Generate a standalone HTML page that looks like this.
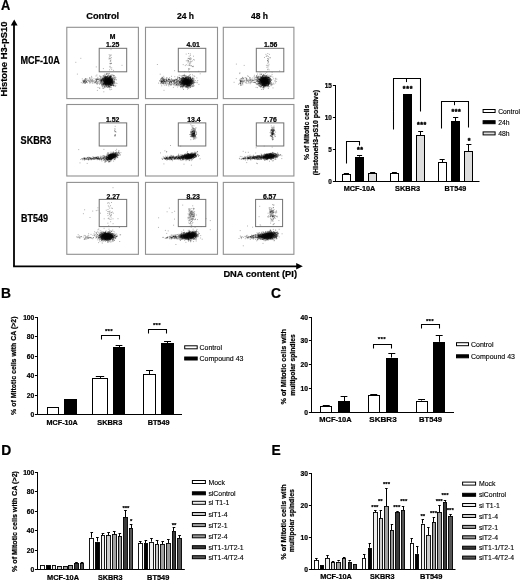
<!DOCTYPE html>
<html><head><meta charset="utf-8"><style>
html,body{margin:0;padding:0;background:#fff;width:520px;height:580px;overflow:hidden}
svg{display:block}
text{font-family:"Liberation Sans", Arial, sans-serif;font-weight:bold;stroke:#000;stroke-width:.22px}
.st{stroke-width:.45px;stroke-linejoin:round}
</style></head><body>
<svg width="520" height="580" viewBox="0 0 520 580">
<defs><filter id="bl" x="-5%" y="-5%" width="110%" height="110%"><feGaussianBlur stdDeviation="0.35"/></filter><filter id="bl2" x="-50%" y="-50%" width="200%" height="200%"><feGaussianBlur stdDeviation="0.9"/></filter></defs>
<rect width="520" height="580" fill="#fff"/>
<text x="1" y="9.6" font-size="13.8" textLength="9.3" lengthAdjust="spacingAndGlyphs">A</text>
<text x="1" y="298.1" font-size="13.8">B</text>
<text x="271.1" y="298.2" font-size="13.8">C</text>
<text x="1.3" y="454.8" font-size="13.8">D</text>
<text x="271.6" y="454.8" font-size="13.8">E</text>
<line x1="14" y1="24" x2="14" y2="266.3" stroke="#000" stroke-width="1.8"/>
<polygon points="14.2,19.5 10.8,25.5 17.6,25.5" fill="#000"/>
<line x1="13.1" y1="266.3" x2="297" y2="266.3" stroke="#000" stroke-width="1.8"/>
<polygon points="302.8,266.3 296.2,263 296.2,269.6" fill="#000"/>
<text x="6.6" y="59" font-size="9.7" text-anchor="middle" transform="rotate(-90 6.6 59)" textLength="75" lengthAdjust="spacingAndGlyphs">Histone H3-pS10</text>
<text x="260.2" y="276.7" font-size="9.7" text-anchor="middle" textLength="73.6" lengthAdjust="spacingAndGlyphs">DNA content (PI)</text>
<text x="102.7" y="19.2" font-size="9.3" text-anchor="middle" textLength="33" lengthAdjust="spacingAndGlyphs">Control</text>
<text x="185.5" y="18.8" font-size="9.3" text-anchor="middle" textLength="17" lengthAdjust="spacingAndGlyphs">24 h</text>
<text x="259.5" y="18.8" font-size="9.3" text-anchor="middle" textLength="17" lengthAdjust="spacingAndGlyphs">48 h</text>
<text x="20.4" y="63.9" font-size="10" textLength="39.4" lengthAdjust="spacingAndGlyphs">MCF-10A</text>
<text x="20.6" y="144.1" font-size="10" textLength="30.8" lengthAdjust="spacingAndGlyphs">SKBR3</text>
<text x="20.9" y="222" font-size="10" textLength="27" lengthAdjust="spacingAndGlyphs">BT549</text>
<rect x="66.8" y="27.3" width="71.6" height="71.3" fill="none" stroke="#909090" stroke-width="1.1"/>
<g filter="url(#bl)">
<ellipse cx="107.6" cy="81.3" rx="3.6" ry="3.1" transform="rotate(0 107.6 81.3)" fill="#000" filter="url(#bl2)"/>
<path d="M106.9 82.5h1M103.3 83.3h1M108.4 82.2h1M106.4 79.1h1M107.3 79.4h1M109.2 79.9h1M102.7 75.5h1M108.9 82.6h1M104.2 85h1M105.3 83.5h1M105.6 82.8h1M109.6 82.6h1M104.7 81.9h1M107 81.2h1M106.7 82.7h1M109.7 81.6h1M108.2 82.8h1M107.6 78.7h1M108.6 82.2h1M111.3 80.7h1M107.4 83.7h1M107.1 81.2h1M103.3 79.9h1M105.3 79.5h1M101.8 79.3h1M109.9 84.3h1M109.1 83.4h1M105.4 79.4h1M102.5 83.7h1M113.1 83.7h1M107.4 82.5h1M106 81.3h1M108.8 79.1h1M105.6 82.5h1M107.2 83h1M106.7 83.3h1M108.1 81.4h1M109.1 81.2h1M102.7 81.2h1M111.5 84h1M107.1 80.6h1M103.7 81.8h1M109.5 82h1M113.6 80.6h1M109.6 83.5h1M110.6 81.4h1M111.3 79.7h1M111.6 83.9h1M103.7 77.6h1M108.8 80.8h1M108.4 82.5h1M107 82.1h1M109.5 82h1M112.4 80h1M109.9 77.3h1M104.4 82.1h1M108.4 81.9h1M109.8 79.6h1M104.7 76.8h1M109.8 80.9h1M104.4 76.5h1M106.6 73.4h1M107.7 81.5h1M110.4 82.1h1M108.5 81.5h1M106.8 83h1M106.1 82.4h1M106.6 83.3h1M113.3 76.7h1M107.5 76.8h1M110.7 85.2h1M102.9 82h1M109.5 79.4h1M107.5 84.4h1M108.7 81.7h1M106.3 84h1M103.3 83.3h1M105.5 83.3h1M114.2 79.1h1M103.4 83.8h1M110.8 82.1h1M104.2 82.8h1M106.4 81.5h1M106.7 81.2h1M101.1 81.6h1M108.2 80.1h1M105.2 76.9h1M114.1 85.7h1M107.6 80.6h1M105.5 79.7h1M108.2 84.3h1M110.7 78.4h1M107.7 86.3h1M108.7 84.3h1M112.6 81.5h1M105.9 77.1h1M107.9 81h1M104.9 78.7h1M108.5 84.4h1M106.3 78.2h1M113 78.5h1M108.6 81.9h1M110.6 80.7h1M108.3 80.5h1M108.8 83.8h1M111.6 83.3h1M108.2 83h1M106.3 83h1M109 80.2h1M106.8 82.6h1M108.8 84.4h1M109.8 83.7h1M108.2 77.8h1M106.2 80h1M100.6 81.7h1M103.9 81h1M107.1 81.9h1M110.6 80.3h1M108.6 87.2h1M108.8 79.8h1M104.3 82.7h1M107.3 81h1M111.4 79h1M103.4 80.6h1M104.6 81.4h1M108.6 81.1h1M108.1 80.9h1M104.7 82.7h1M106.5 83.1h1M109.3 81.4h1M106.8 79.9h1M109.6 77.7h1M108.9 81.6h1M106.6 81.9h1M107.9 81.6h1M104.8 78.7h1M106 84.7h1M105.2 83.8h1M106.2 77.2h1M103.2 78.4h1M109.6 77h1M108.9 84.9h1M111.6 83.5h1M109.3 84.5h1M108 80h1M108.1 78.9h1M102.7 79.7h1M103.5 76.8h1M112.2 78.4h1M106.6 79.6h1M107.4 81h1M112.5 84.3h1M106.9 78.5h1M105.3 85.8h1M102.3 86.6h1M108.4 79.3h1M109.5 84.9h1M108.9 78.5h1M107.1 81.3h1M110.7 81.4h1M112.5 83.1h1M107.6 85.5h1M110.4 78.6h1M109.6 83.7h1M108 79.2h1M113.5 79.9h1M112 80.5h1M95.5 78.5h1M112.3 79.6h1M111.9 83.3h1M105.1 83.4h1M103.3 91.8h1M109.3 82.5h1M105.9 74.5h1M93.7 80.9h1M101.6 83.9h1M104.6 80h1M101.1 79h1M99.3 88.2h1M100 82.8h1M112.5 77.2h1M101.8 77h1M110.1 76.6h1M108.6 82.3h1M107.1 77.5h1M116.4 83.5h1M108.2 77.8h1M97.7 81.5h1M105 81.6h1M110.9 85.7h1M97.5 87.5h1M104 82.9h1M102.6 79.4h1M106 82.1h1M109.2 83.1h1M104.3 79.1h1M110.7 81.6h1M110.9 75.1h1M106.5 79.2h1M105.8 73.7h1M103.9 74.2h1M105.5 82.7h1M110.5 84.6h1M109.6 82.9h1M83.3 81.9h1M83.1 81.7h1M85.8 81.7h1M83.4 82.1h1M84.6 79.3h1M80.8 82.6h1M91.3 77.6h1M95.7 79.7h1M95.1 82.2h1M94.6 82.9h1M98.5 81h1M96.6 78.6h1M84.6 80h1M96.2 81.1h1M91 80.8h1M92.6 80.7h1M83.7 80h1M89.8 80.1h1M90.4 81.3h1M101 81.1h1M101 79.5h1M109.1 69.8h1M109.2 58.3h1M110.1 63.8h1M109.6 66.3h1M80.3 58.3h1M76.9 74.1h1" stroke="#000" stroke-width="1" stroke-opacity=".3"/>
<path d="M107 80.6h1M108.9 82.4h1M105.9 85.3h1M106.2 84.1h1M108.9 81.2h1M106.4 78.4h1M108.5 79.6h1M103.5 84.2h1M109 81h1M111.4 80.3h1M110.5 83.3h1M112.8 82h1M108.6 81.8h1M100.5 80.2h1M110.4 75.1h1M107.4 84.8h1M103.6 77.8h1M109.6 85h1M111.5 79h1M101.6 80.4h1M111.5 85h1M106.1 81.8h1M110.2 83.1h1M103.6 81h1M108.4 80.2h1M106.8 80.2h1M105.2 81.1h1M114.5 83.9h1M108.4 79.7h1M104.5 78.2h1M105.7 81h1M107.3 81.7h1M102.7 81.4h1M108.9 81.7h1M106.8 83.8h1M110.1 81.3h1M107 82.9h1M107 78h1M109.2 77.2h1M104.2 80.1h1M107.4 79.6h1M108 78.1h1M105.7 78.2h1M110.5 81.6h1M108.9 80.9h1M105.5 81.9h1M109.4 80.2h1M106.2 86.6h1M110.7 80.2h1M105.3 81.7h1M109.1 86.1h1M107.7 83.1h1M108.9 81.1h1M108 81h1M109.5 81h1M112 82.3h1M104.2 80.8h1M107.8 83h1M107.7 81.9h1M108.4 79.8h1M109.2 83.1h1M109.7 80.4h1M107.1 83.4h1M103.5 85h1M109.4 80.4h1M112 81.4h1M104.9 82.4h1M107.8 80.4h1M107.5 82.3h1M106.9 80.3h1M105.6 80.3h1M110.7 77h1M107.3 85.3h1M106.6 80h1M105 83.1h1M105.9 83.2h1M103.1 83.9h1M108.9 82.8h1M106.7 81.4h1M108.4 80h1M107.6 80.7h1M105 82.1h1M109.5 83.1h1M105.1 81.2h1M108.9 80.6h1M101.8 81.2h1M109.8 84.8h1M105.8 79.6h1M108.4 79.7h1M102.1 80.9h1M106.1 80.5h1M105.9 82.3h1M110.7 82.1h1M103.9 81.2h1M107.5 78.7h1M107.1 79.5h1M107.5 83h1M103.9 75.8h1M112.6 83.7h1M106.2 77.7h1M109 82.3h1M107.7 79.7h1M109.7 78.7h1M108.3 80h1M104.8 84.9h1M106.1 77.5h1M110.1 79.7h1M110.4 85h1M108.4 83.1h1M111.7 80.7h1M109 82.3h1M104.1 83.4h1M110 78.5h1M105.1 82.5h1M110.8 82h1M109.1 78.8h1M107.2 83.6h1M108.5 85.4h1M105.4 83.9h1M106.2 82.5h1M106.3 79.5h1M114 81.7h1M110.3 85.5h1M102.6 83.1h1M102.6 80.2h1M105.2 78.8h1M106.9 78.1h1M108.6 79.6h1M106.5 84.2h1M110.7 79.8h1M106.2 79.1h1M105.7 80.6h1M108.9 78.5h1M106.5 80h1M107.2 79.6h1M101.7 82.6h1M110.2 85.2h1M105.7 79.6h1M105.9 84h1M108.3 79.5h1M105.7 80.5h1M109.3 80.6h1M107.9 79.6h1M105.4 83.6h1M105.6 80.1h1M111.8 80h1M101.5 82.7h1M106.3 79.3h1M108 80.7h1M103.9 79.2h1M107.2 79.8h1M109.6 78.6h1M110.8 85h1M113 85.5h1M113.5 81.2h1M107.7 81.4h1M107.2 79.8h1M107.9 82.1h1M110.1 79.9h1M104.6 82.2h1M110.5 80.5h1M108.8 81.5h1M108.9 81.6h1M107.6 79.9h1M107.7 83.4h1M107.6 83.7h1M111 80h1M103.8 78.8h1M105.9 85h1M110.2 76.4h1M107.6 85.3h1M104.1 87.1h1M114.4 79.2h1M106.8 76.5h1M101.8 79.1h1M103.2 83h1M110.4 79.2h1M114.1 77.7h1M103.8 76.6h1M111.1 80.7h1M113 70.4h1M96.9 90.4h1M104.9 78.6h1M106.6 79h1M105.5 77.3h1M95.5 76h1M96.4 75h1M106.6 83.1h1M113.2 85.8h1M109.8 82.5h1M109.7 89.8h1M103.8 79.1h1M104.9 81.8h1M105.2 83.3h1M113.9 81.9h1M114.8 86.4h1M104.5 79h1M106.2 81.9h1M104.8 77.2h1M102.7 77.8h1M106.1 85.6h1M104.5 75.3h1M101.9 86.8h1M104.3 82.8h1M84 81.4h1M83.7 81.3h1M84.3 80.3h1M84.3 80.2h1M86.2 79.4h1M87.8 81.3h1M100.9 81.6h1M95.7 79.3h1M90.6 80.2h1M85.3 80.7h1M99.4 78.6h1M101.1 79.1h1M88.5 79.8h1M98.1 79.4h1M97.5 82.8h1M92 80.9h1M100.1 77.2h1M85.5 82.1h1M89.4 83.3h1M100.1 81.7h1M110.5 49.6h1M109.3 56.1h1M109.7 61.2h1M109.8 58.4h1M108.1 82.4h1M96.8 79h1" stroke="#000" stroke-width="1" stroke-opacity=".3"/>
<path d="M105.2 80.8h1M103.2 77.3h1M109 84.1h1M105.5 81.9h1M103.8 83.2h1M105.1 80.1h1M104.7 83.5h1M110.1 82.5h1M108.4 82.8h1M104 81h1M108.5 81.6h1M106.5 80.4h1M106.5 82.8h1M110.2 78.6h1M110.4 78h1M110.3 80.6h1M109.2 79.1h1M105.3 84.9h1M110.6 84.7h1M102.8 83.2h1M105.9 83.3h1M112.3 81.4h1M107.6 83.2h1M104.5 82.1h1M109.6 83h1M112.6 77.3h1M108.4 83.2h1M109.3 75.3h1M111 85.5h1M112 83.6h1M108.8 82.2h1M107.6 81.7h1M105.2 83h1M111.5 82.9h1M109.2 83.4h1M104.6 81.7h1M104.9 79.9h1M112.4 82.5h1M102.9 78.9h1M104.8 78.8h1M109.4 82.1h1M106.9 80.6h1M106.6 79.6h1M110.5 75.8h1M108.9 78.8h1M109.1 82.9h1M105.8 83h1M107.6 83.1h1M107.4 80.6h1M106.3 84.9h1M105.8 81.3h1M102.7 79.3h1M103.9 81.2h1M111.6 82h1M108.8 82.1h1M108.2 86.4h1M106.2 82.4h1M111.5 80.4h1M106.2 83.3h1M108.4 85.1h1M109.2 87.4h1M110 86.3h1M108.9 81h1M108.5 83.4h1M107.5 76.4h1M110.8 79.7h1M109.1 80.7h1M109 84.9h1M110.1 82.8h1M108.8 79.7h1M101.1 85.7h1M109.7 81.8h1M108.8 80.9h1M109.9 81.4h1M106.9 80.5h1M113.4 75.5h1M106.1 81.6h1M101.7 80.6h1M109.9 80.3h1M108.1 83.6h1M108.3 80.3h1M111.2 81.8h1M110 82.7h1M108.9 80.9h1M109 76.1h1M108.1 83h1M110 83.2h1M108.2 79.6h1M102.8 76.2h1M108.9 82.5h1M105.5 79.5h1M111.3 81.5h1M106 82.2h1M108.2 80h1M107.5 78.8h1M105 80.5h1M107.4 75.8h1M102.7 82.1h1M108 81.7h1M110.8 82.5h1M108.1 81.7h1M106.5 83.5h1M110.2 81.8h1M109.3 81.3h1M107.2 86.8h1M105.9 79.7h1M103.7 84.6h1M105.4 78.1h1M106.1 77.1h1M112.9 84.8h1M107.1 81.7h1M109.9 80h1M105.8 79.3h1M105.7 79.7h1M110 84.7h1M102.3 84.3h1M110.3 81.5h1M106.2 82.3h1M109.6 77.5h1M106.1 82h1M112.2 79.3h1M106.5 79.9h1M104.1 78.8h1M105.7 80.7h1M112.6 81.5h1M111.1 81.9h1M104.9 85.2h1M108.8 79.2h1M104.6 78.3h1M105.1 77.9h1M107.7 80.2h1M106.7 83.6h1M110.1 80.1h1M107.9 81.6h1M107.4 79.8h1M107.4 87.2h1M106.7 81.4h1M104.2 84h1M112.5 80.7h1M109.6 81.3h1M110.4 77.9h1M104.5 79.1h1M102.7 78.9h1M105 82.9h1M107.1 81.2h1M110.4 75.9h1M108.4 80.9h1M106.1 81.7h1M108.5 77.8h1M109.4 82.6h1M113.4 82.5h1M105.3 81.9h1M107.3 83.7h1M112.8 83h1M109.4 82.4h1M109.2 78.9h1M108.6 81.8h1M107.3 79h1M109 80h1M110.6 83.8h1M104.4 81.1h1M107.1 79.9h1M104.5 81.4h1M110.4 76.5h1M100.9 83.9h1M105.9 79.7h1M109.6 76.8h1M101.2 80.3h1M103.7 80.3h1M99.9 78.4h1M101.6 84.2h1M107.5 82h1M109.1 83.6h1M108.2 75h1M108.6 73.3h1M108.7 73.6h1M111.8 74.8h1M89.1 77.5h1M110.4 82.9h1M97.5 79.5h1M110.5 78.2h1M105.5 80h1M100.2 80.9h1M109 82.2h1M108.4 83.4h1M100 82.8h1M94.3 81.1h1M104.5 82.7h1M104.3 83.1h1M107.8 79.1h1M102.9 80.7h1M108.3 79.4h1M110.8 87.4h1M112.1 85.1h1M104.1 77.8h1M105.7 74.8h1M110 76.6h1M110.7 76.7h1M106.4 73.7h1M113.8 82.8h1M113.5 79.8h1M106.8 83.6h1M98.4 78.9h1M84.7 81.7h1M85.8 81.2h1M85.3 80.3h1M84.5 83.1h1M82.8 82.6h1M82.4 81.4h1M88.2 80.7h1M91.5 79.9h1M96 79.8h1M92.3 81.3h1M86 81.3h1M87.4 80.3h1M96.6 83.1h1M89.8 82.5h1M98.9 80.1h1M96.3 81.2h1M102.4 80.4h1M95.2 81.6h1M100.7 80.3h1M95.4 79.8h1M85.9 82h1M109.5 63.7h1M109.4 56.1h1M110.8 57.5h1M110.2 55.2h1M111.2 67.9h1M111.2 69.6h1" stroke="#000" stroke-width="1" stroke-opacity=".3"/>
<path d="M110.5 82.3h1M105.3 80.2h1M106 79.6h1M108.7 77.9h1M109.3 83.5h1M111 76.6h1M110.5 81.7h1M102.5 79.8h1M107.9 83.9h1M107.2 80.6h1M108 82.6h1M107.6 83.4h1M108.3 80.1h1M107.4 83.5h1M109.4 77.9h1M114.7 78.7h1M104.9 77.9h1M110.2 80.9h1M111.4 80.9h1M108.4 79.9h1M102.7 78.8h1M109 83.6h1M108 78.6h1M101.5 82.1h1M109.3 82.1h1M108.8 86.9h1M107.5 80.9h1M109.2 82.4h1M104 79.8h1M112.3 83.2h1M109.3 81.8h1M107.3 78.4h1M104.8 75.3h1M107.5 82.7h1M107 87.2h1M108.5 83.9h1M107.6 77.9h1M110.4 79.3h1M106 78.1h1M107.4 81.3h1M107.4 79.8h1M108.8 82.7h1M104.7 81h1M105.6 81.9h1M110.7 79h1M105.6 85.3h1M111.1 81.3h1M105.9 81.2h1M107.3 78.8h1M109.6 81h1M114.9 77h1M107.6 78.9h1M108.8 80.1h1M109.9 79.7h1M103.7 80.8h1M106.2 79.7h1M107.3 81.1h1M107.4 81.8h1M106.9 79.9h1M105.8 86.7h1M108.1 81.9h1M107.6 80.7h1M109.3 81h1M108.1 81h1M106.5 82.9h1M108.1 81.1h1M109 77.7h1M107.6 82.1h1M106.9 78.9h1M105.3 80.4h1M105.7 81.2h1M108.8 82.3h1M104.6 79.5h1M106.9 80h1M109.7 84.3h1M106.5 82.5h1M110.9 81.6h1M109.9 83h1M110.6 79.5h1M105.1 81h1M104.9 79.6h1M105.7 81.4h1M106.9 81.3h1M113 75.3h1M109.8 82.2h1M105.3 81.2h1M106 79.7h1M111 81.1h1M104.3 79.6h1M107.3 80.9h1M111.6 85.3h1M105.4 80.5h1M111.8 82.7h1M106.8 83.1h1M107.8 82.4h1M108.4 78.6h1M107.5 79.3h1M105.9 77h1M112.3 84.6h1M104.5 84.5h1M110.3 77.9h1M109.6 81.5h1M103.5 82.8h1M108.1 75h1M107.2 82.9h1M105.5 82.6h1M107.9 83.8h1M109 83.5h1M108.5 82.4h1M109.7 82.7h1M103.9 83.7h1M103.7 79.6h1M106.2 84.3h1M104.9 76.6h1M110.5 80.3h1M108.6 84.7h1M104.1 83h1M110.7 84.2h1M105.5 81.7h1M111.8 81.4h1M112.2 82.8h1M108.8 82.1h1M104.9 77.1h1M107.7 82.6h1M104.3 81.9h1M105.1 76.4h1M105.6 83.2h1M105.5 81.3h1M111.6 82.2h1M110.6 79.6h1M107.9 81.9h1M106.4 83.5h1M110.2 81.5h1M111.5 81.4h1M111.9 82.5h1M107.5 81h1M105.3 83.5h1M111.9 79.9h1M105.8 80.1h1M104.5 82.7h1M105.3 76.6h1M105.9 81.6h1M110 79.5h1M108.1 81.9h1M115.4 82.8h1M107.6 81.9h1M105.5 80h1M115.5 79.8h1M103 76h1M107.5 82.5h1M108.7 86.6h1M108.9 79h1M108.8 82.8h1M106.7 79.9h1M108.3 80.8h1M108.7 83.6h1M105.2 79.6h1M107.4 80.5h1M109.5 85.3h1M109.7 77.1h1M107.1 81.2h1M111.1 81.6h1M107.4 82.5h1M105.5 82.8h1M109.5 76.5h1M106.6 81.1h1M108.1 80.9h1M110.4 79.8h1M108.4 82.2h1M108.9 86.5h1M111.2 81.1h1M110.2 77.8h1M102 85.4h1M108.7 79.8h1M102.7 78.5h1M101.1 80.8h1M109.8 80.1h1M100.5 80.3h1M101.3 83.6h1M108.6 83.7h1M108.8 83.4h1M99 84.3h1M105.8 86.3h1M97.3 79.8h1M115.3 85.6h1M106.5 81.9h1M106.7 84.6h1M110.6 80.2h1M108 83.7h1M97.6 83.3h1M104 81.4h1M100.3 80.4h1M103.3 85.9h1M105.5 84.6h1M100.2 83.7h1M107.9 81.1h1M105.7 78h1M110.1 81.6h1M106.1 82.4h1M101.1 82.8h1M102.9 80h1M101.1 80.4h1M110.1 85.7h1M84.4 83.4h1M85.4 82.4h1M81.8 78.9h1M85.4 78.7h1M82.3 83.2h1M84.4 82.3h1M100.6 77.3h1M89.2 81.5h1M95.7 82.1h1M99.6 79.8h1M93.5 78.8h1M88.9 81h1M96.8 79.4h1M98.7 79.7h1M91.6 82.3h1M89.9 79.4h1M96.3 81.9h1M100.5 76.7h1M89.2 82.3h1M100.2 79.6h1M97.2 82.3h1M110.2 67.9h1M110.7 63.2h1M110.1 60.8h1M108.6 59.1h1M111.1 89.3h1M121.5 65.3h1" stroke="#000" stroke-width="1" stroke-opacity=".3"/>
<path d="M110.3 81.9h1M108.4 81.2h1M106.7 81.1h1M107.7 84.3h1M111.3 82.1h1M103.8 81.9h1M108.2 82.3h1M109.8 77.1h1M105.9 80.3h1M111.3 78.9h1M107.1 81.9h1M106.7 82.2h1M113.9 82.1h1M109.8 84.7h1M108.1 84h1M110 80.7h1M110.9 83h1M102.5 84.5h1M105.7 83.6h1M107.6 83.2h1M102.5 83.8h1M107.1 78.4h1M103.5 79.8h1M105.9 76.8h1M111.1 82.8h1M105.2 82.9h1M105 80.5h1M112 82.3h1M108.4 81.7h1M105.3 81.9h1M106.8 83.1h1M108.7 83.7h1M104.9 84.9h1M111.9 83.5h1M110.8 80.8h1M109.6 81.4h1M106.5 76.7h1M107.1 77.1h1M107.7 81.9h1M108.9 77.7h1M107.1 75h1M107.5 79.3h1M106.3 81.5h1M109.2 86.7h1M108.2 86.2h1M111.9 81.3h1M105.8 83.2h1M103.1 85.4h1M107.7 78h1M106.4 79.7h1M106.2 81.7h1M104.9 82.7h1M107.3 83h1M107.6 81.3h1M111.5 80h1M109 82.6h1M106.7 83.7h1M103.7 81.3h1M108.8 77.7h1M105.9 81.3h1M110 82.1h1M106.3 79.4h1M104.6 84.6h1M103.6 83.5h1M111.1 80.5h1M107.9 83.9h1M109.6 77.7h1M110.8 81.9h1M107.9 83.7h1M107.5 79.8h1M109 78.2h1M111 80.8h1M108.1 83.5h1M106.9 82.7h1M105.8 82.3h1M107.4 79.8h1M104 77.4h1M109.9 75.6h1M108.3 80.1h1M109 82.5h1M106 79.9h1M108 77.3h1M106.9 80.6h1M107.1 77.1h1M107.7 79.9h1M109.2 81.6h1M109.9 79.2h1M104.8 84.3h1M107.5 81.4h1M110 81.3h1M107.7 82.6h1M105.9 79.3h1M110.9 81.5h1M112.8 82.7h1M107.7 81.9h1M107.2 84.6h1M109.3 79.9h1M103.7 82.7h1M106.8 82.4h1M109.9 76.9h1M104.4 78.1h1M106.8 84.9h1M105.3 84.2h1M110.6 81.4h1M106.6 78.7h1M108.5 80.7h1M103.3 80.5h1M108.1 78.3h1M107.6 83.3h1M112.2 80.9h1M106.5 78.8h1M106 82.1h1M109.8 82.7h1M109.1 84.4h1M110.3 83.1h1M104.2 83.7h1M106.4 82.7h1M108.9 78.3h1M106.3 80.9h1M107.2 83h1M111.4 79.1h1M108.1 85.3h1M108.8 77h1M106.7 81.3h1M105.1 77.5h1M104 87h1M103.2 80.7h1M100.5 81h1M110.1 79.4h1M104.9 79.1h1M108.5 76.3h1M103.8 77.1h1M102.5 78.3h1M112.5 85.4h1M106.4 76.9h1M111.4 81.6h1M104 82.6h1M105.6 80.5h1M102.7 83.4h1M109.8 76.9h1M107 82.1h1M107.5 85.1h1M104.2 81.7h1M110.1 81.3h1M109.6 79.3h1M108.1 82.7h1M112.4 85.3h1M107.7 81.9h1M109 81.7h1M106 81.5h1M111.2 77.7h1M106.6 80.4h1M108.9 79.5h1M105.5 81.6h1M107.3 79.4h1M109.2 80.5h1M107.3 82.8h1M108.5 79.4h1M106.6 82.3h1M105.8 84.6h1M109.4 81h1M104.8 80h1M106.4 82h1M109.3 78.9h1M109.6 77.2h1M104.8 82.4h1M104 78.5h1M104 86h1M105.1 84.5h1M100.4 82h1M108.9 78.7h1M111.1 82.2h1M99.2 75.9h1M106.8 80.5h1M101.2 82h1M108.2 83.8h1M96.7 84.5h1M104.5 77.3h1M97.3 77.3h1M115.8 79.8h1M100.6 80.5h1M103.8 86.3h1M89.7 78.2h1M99.6 76.3h1M102.5 79.1h1M115.4 77.7h1M105.8 78.2h1M104.2 80.1h1M106.6 81.8h1M107.5 78.7h1M105.5 78h1M105.4 87.3h1M111.5 83.9h1M113.8 77.2h1M105.3 78.1h1M108.2 82.9h1M99.5 83.1h1M113.3 85.1h1M111.5 79.5h1M108.9 79.9h1M110.9 82.1h1M110.8 79.4h1M102 78.3h1M83.2 81.5h1M85.3 81.1h1M83.3 80.4h1M84.8 83.4h1M83.8 81.7h1M83.4 81h1M91.9 83.2h1M95.4 79.8h1M100.8 80.4h1M99.6 81.1h1M97.2 79.3h1M95.3 82h1M91.1 76.4h1M87 82.7h1M99.9 79.6h1M86.3 82.2h1M93.4 82.9h1M95.9 83.5h1M89.7 81h1M84.9 78.5h1M86.5 78.8h1M110.7 55h1M111 63.4h1M108.7 54.7h1M108.6 58h1M95.8 66.9h1M110.3 60.9h1" stroke="#000" stroke-width="1" stroke-opacity=".3"/>
<path d="M108.6 81.7h1M109 79.8h1M109.2 81.9h1M102.4 80.6h1M107.9 78.3h1M111.4 82.6h1M111.7 82.7h1M107.1 83.6h1M110.3 81.4h1M110.9 78.4h1M109.1 81.3h1M112.4 75.4h1M106.2 81.1h1M103.2 80.5h1M107.2 81.7h1M107.9 82.9h1M111.4 79.1h1M107.3 79.9h1M107.9 81.6h1M107.8 84.4h1M104.4 81.3h1M106.2 83.8h1M110 80h1M109.5 80.7h1M108.8 76.5h1M112.5 81h1M109.9 81.5h1M107.4 82.5h1M106.6 79.1h1M102 79.6h1M107.7 79.4h1M108.7 80.9h1M106.6 78.2h1M110.3 78.8h1M107.8 87.3h1M109.8 82.5h1M105.8 82.6h1M109.6 83.5h1M109.2 82.9h1M104.4 81.2h1M105 81.4h1M107.2 81.1h1M109 80.4h1M108.4 84.2h1M107 81.3h1M108.3 80.3h1M107.5 82h1M111.2 78.5h1M107.4 82h1M105.2 80.5h1M108 82.2h1M105.9 82.8h1M105.3 82.8h1M103 84.6h1M104.9 78.2h1M105 78.6h1M111.2 80.5h1M105.8 82.2h1M105.8 81.3h1M108.1 83.7h1M111.9 78.5h1M106 82.8h1M108.8 79.1h1M107.7 80.6h1M107.3 84.9h1M113.8 79.8h1M105.8 80h1M104.3 87h1M104.8 78.9h1M107.6 83h1M108.8 81.2h1M109.9 80.4h1M108.7 82.5h1M108.5 78.5h1M105.3 86.6h1M113.2 81.5h1M110.7 83h1M108 82.4h1M108 79.7h1M106.7 76.5h1M104.6 82.8h1M106 81.7h1M107.1 77.3h1M110.1 87.4h1M109.3 80.2h1M110.8 85.9h1M102.9 79h1M106.1 81.8h1M109 81.6h1M109.5 82.6h1M110.7 83.2h1M111.5 79.9h1M108.9 80.8h1M108.4 77.7h1M105.4 84.6h1M109.4 81h1M108 86.3h1M105.6 80.5h1M108.3 81.4h1M112.4 83.2h1M106.2 79.9h1M106.1 82.8h1M105.8 80.9h1M103 81.5h1M110.5 83.4h1M108 81h1M107.7 78h1M109.6 83.1h1M106.1 81.1h1M107.3 78.9h1M105.6 79.4h1M106.7 76.6h1M108.4 77.7h1M108.1 79.1h1M103.6 80.4h1M113 85.9h1M108.3 85h1M104.3 81.9h1M108.8 79.4h1M106.6 83.8h1M110.7 84.7h1M106.7 82.4h1M108.9 84.6h1M106.2 81.6h1M105.7 83h1M104.6 81.1h1M108.3 83.7h1M105 77.9h1M109.7 81.9h1M106.4 78.4h1M106.2 79.5h1M110.8 82.3h1M110.5 81h1M112.1 83.7h1M107.5 80.3h1M108 80.4h1M110.4 84.5h1M114.1 83.6h1M104.8 83.7h1M112.3 82.4h1M103.2 79.9h1M108.3 78.8h1M108.2 82.7h1M110.5 83.3h1M105.8 80.6h1M108.3 81.7h1M107.4 84.3h1M107.5 83.4h1M107.8 75.9h1M107.7 82.6h1M109.4 83.2h1M107.8 82.1h1M109.1 83.6h1M107.5 82.8h1M108.1 81.2h1M106.3 80.8h1M104.5 79h1M110.4 77.4h1M105.2 83.5h1M104.4 83.9h1M108.1 82.3h1M107.2 80.3h1M103.3 78.8h1M102.7 84.6h1M110.6 82.2h1M109 81.5h1M104.8 78.1h1M111.4 84.3h1M105.6 83.6h1M102.2 78h1M101.1 79.3h1M98.9 83.1h1M109.1 76.7h1M107.2 75.8h1M105.8 77.7h1M110.5 84.7h1M108.1 80.9h1M102.3 84.8h1M112.1 79.8h1M104.1 80.7h1M107.7 83h1M110.8 80.9h1M101.9 79h1M107.2 81h1M101.8 82h1M102.3 88.3h1M102.8 88h1M101.7 80h1M104.2 77.8h1M101.7 85.7h1M111.9 77.8h1M101 84.5h1M102.7 84.2h1M113.9 75.7h1M109.2 77.9h1M104.9 84.3h1M106.4 80.9h1M109.2 89h1M113.4 78.3h1M106.6 79.7h1M103.7 82.1h1M103.3 88.3h1M107.5 73.7h1M83.2 82.7h1M84.9 82.3h1M83.8 82.1h1M84.8 79.3h1M82.3 80.5h1M83.5 80.5h1M92.8 81.3h1M102.7 79.3h1M96.1 80.6h1M94 82.6h1M101.7 79h1M94.8 82.2h1M98.8 81h1M87.2 80.4h1M88.9 78.6h1M91.9 79.7h1M97.6 78.9h1M95.9 80.1h1M91.2 81.3h1M91.3 78.8h1M96.7 83.4h1M110.4 59.1h1M109.3 67h1M109.6 63.3h1M102.9 68.6h1M99.1 88.1h1M75.3 62.3h1" stroke="#000" stroke-width="1" stroke-opacity=".3"/>
</g>
<rect x="99.2" y="48.3" width="27.5" height="23.5" fill="none" stroke="#707070" stroke-width="1"/>
<text x="112.65" y="47.3" font-size="6.9" text-anchor="middle">1.25</text>
<rect x="145.5" y="27.3" width="72" height="71.3" fill="none" stroke="#909090" stroke-width="1.1"/>
<g filter="url(#bl)">
<ellipse cx="186.5" cy="82" rx="4.6" ry="2.7" transform="rotate(0 186.5 82)" fill="#000" filter="url(#bl2)"/>
<path d="M184.3 81.3h1M190.3 81.5h1M180.8 84.7h1M186.6 83.5h1M186.4 77.1h1M188.1 86.8h1M193.8 82.1h1M187.2 81.7h1M183.5 86.5h1M183.9 84.1h1M190.2 82.6h1M190.1 79h1M180.3 78.2h1M185.3 79.7h1M186.8 85.3h1M187.1 85.2h1M182.2 81.3h1M181.6 85h1M177.1 87h1M184.2 83.5h1M187.1 80.9h1M185.6 79.8h1M182.8 84.5h1M182.6 82.4h1M185.5 82.2h1M186.4 78.6h1M187.6 80.8h1M182.8 81.6h1M182.5 82.4h1M183.5 80.9h1M189.7 82.7h1M184 78.5h1M182 83.7h1M183.7 80.7h1M182.8 84.2h1M196.3 77.9h1M182.8 80h1M181.7 86.8h1M184.9 81.4h1M184.3 83.7h1M187.5 80.9h1M186.8 83h1M187 85.9h1M181.4 79.3h1M187.7 79.2h1M185.3 82.9h1M186.3 78.2h1M186.2 80.5h1M188.3 80.3h1M183.9 82.3h1M185.1 82.4h1M187.7 79.4h1M185.2 79.2h1M187.5 87h1M186.2 81.8h1M180.7 85.8h1M181.2 81.3h1M190.6 79.2h1M181.9 84.4h1M179.9 86.2h1M187.8 80.8h1M188.4 81.2h1M180.1 83.3h1M181.4 86h1M186.1 83.7h1M182.8 78.9h1M182.3 81.2h1M182.6 83.7h1M186 77.2h1M186 83.5h1M191.1 81.9h1M184.2 80.1h1M190.3 82.3h1M192.4 81.7h1M185.1 83.2h1M181.4 80.4h1M185.5 78.3h1M187.6 79.2h1M187.4 82.7h1M185.9 79.4h1M185.3 82h1M189.1 80.4h1M186.1 81h1M185.3 81.3h1M192.4 81.1h1M186.7 82.2h1M192.1 78.2h1M183.6 81.2h1M184.8 82.3h1M186.4 80.4h1M182.4 83.7h1M180 84h1M191.2 81.4h1M192.1 78.1h1M183.5 84.1h1M188.3 82.7h1M186.2 77.6h1M182 79.6h1M185.4 86h1M186.7 81.3h1M183.9 79h1M192.9 82.3h1M186.4 86.3h1M187 81.2h1M184.2 82h1M186.1 78.6h1M188.6 82.8h1M190.2 81.5h1M182.4 79.6h1M187.4 81.2h1M194.6 82.3h1M190.1 81.8h1M191 81.8h1M181.9 81.3h1M188.9 81.3h1M182.6 83.3h1M188.5 81.4h1M191.3 83.6h1M192.1 80.7h1M183.3 78.2h1M190.5 80.6h1M187 77.1h1M190.4 77.7h1M188.8 81.8h1M184.8 84.2h1M185.9 79.5h1M188.1 77.5h1M187.7 83h1M186.8 83.8h1M187.2 77.2h1M184.4 81.7h1M186.6 80.6h1M183.7 83.8h1M188.9 83.8h1M189 82.5h1M183.5 82.8h1M184.1 80.5h1M186.2 84.6h1M189.2 79.3h1M184.1 83.5h1M189.8 74.6h1M187.6 79.7h1M182.7 81h1M187 80.1h1M189.3 80.1h1M180.2 84.4h1M181.4 83.4h1M194.2 76.6h1M181.2 81.8h1M181.3 86.1h1M182.1 78.5h1M185.1 77.7h1M185 78h1M188.7 84h1M187.6 83.3h1M184.1 82.1h1M185.1 79.5h1M183.7 82.7h1M181.9 86.9h1M181.6 85.8h1M184 83.6h1M192 83.5h1M192.8 84.8h1M187.4 82h1M180.2 87.1h1M183 85.1h1M184.5 83.9h1M160.5 79.1h1M182.4 79.9h1M171 84h1M174.8 83.9h1M179 84h1M176.4 79.5h1M178.4 77.5h1M163.1 78.8h1M160.5 78.6h1M179.3 79.8h1M182 78.3h1M163.2 80.5h1M185.7 81.6h1M172.1 80.7h1M176.1 79.4h1M165.8 85.4h1M172.6 84.4h1M168.7 79.3h1M171.8 83.5h1M168.2 79.7h1M171 76.3h1M173.7 83.4h1M165.1 83.2h1M174.3 79.9h1M164.3 81.5h1M170.6 85h1M174.5 82.1h1M163.1 82.8h1M171.4 81.4h1M165.4 81.2h1M167.4 83.9h1M170.2 84.1h1M171.1 82.8h1M174 80.7h1M183.4 81.2h1M160.4 81.6h1M176.9 82.8h1M175.3 82.7h1M173.6 85.7h1M160.3 79.6h1M161.1 82.3h1M166.6 82h1M172.6 80.5h1M162.5 81.3h1M161.6 82.1h1M163.5 79.7h1M162.7 81h1M161.4 78.6h1M160.2 80h1M161.9 81.5h1M160.8 83.1h1M186.9 60.2h1M188.8 58.9h1M189.1 63.4h1M189 58.3h1M187.7 61.1h1M190.8 65.7h1M188.8 72h1M182.7 64.6h1M198.2 71.3h1M198.4 84.4h1" stroke="#000" stroke-width="1" stroke-opacity=".3"/>
<path d="M189.3 80.9h1M184.3 80.1h1M190.4 83h1M186.6 78.2h1M185.7 84h1M182.5 85.1h1M189.5 85.1h1M186.9 86.2h1M189.2 83.8h1M189.1 80.7h1M182.7 83.5h1M183.9 83.1h1M186.2 85.2h1M183.7 79.3h1M186.2 79.4h1M185.6 87.2h1M187.3 80.1h1M187 80.6h1M185 79.2h1M185.8 82.1h1M181.9 78.1h1M182.2 83.8h1M185.7 82.6h1M188.2 79.6h1M184.5 78.9h1M191.1 83.1h1M184.2 84.4h1M189 82.5h1M183.5 80.6h1M185.4 86.2h1M185.6 81.2h1M185.6 83.5h1M185.9 87.2h1M184.5 81.3h1M187 84.9h1M190.2 80.7h1M187.9 82.5h1M185.7 81.1h1M180.6 80.4h1M185.2 80.5h1M182.1 81.9h1M186.7 86.9h1M187.8 83.4h1M186 80.9h1M186.7 81.6h1M187.1 83.5h1M187.8 85.1h1M190.1 76.6h1M190.4 81.1h1M178.9 82.1h1M182.6 77.9h1M183.3 80.1h1M183 78h1M180.8 78.4h1M190 87.2h1M190.3 79.5h1M189.6 80.2h1M186.3 81.1h1M184.6 80.2h1M185 78.1h1M186.1 80.3h1M184.7 84.2h1M182.5 78.5h1M183.5 81.4h1M190.2 83.1h1M186.8 79.3h1M182.7 77.1h1M185.3 86.6h1M182.2 77.7h1M186.5 82.9h1M188.1 83.3h1M184.2 84.6h1M185.2 82.2h1M189.3 81.3h1M184 83h1M191.9 81.1h1M186 84.1h1M187.6 82.5h1M182.6 80.6h1M188.8 77.4h1M189.5 79.8h1M189.9 83.8h1M182.9 82.3h1M187 89.1h1M187.3 82h1M186.4 80.6h1M192.9 81.9h1M186 82h1M190.5 81.3h1M178.9 77.5h1M181.8 77.3h1M189.8 87.2h1M191.5 80h1M183.5 85.6h1M188.3 81.5h1M184.6 87.1h1M186.3 83.7h1M185.9 82.7h1M187 82.8h1M187.5 80.2h1M185.2 80.5h1M192.3 86.5h1M185.6 84.2h1M183 77.7h1M186.7 84.5h1M192.3 77.1h1M189.7 80.5h1M186.5 82.1h1M190.1 85.4h1M186.5 82.5h1M186.7 84.6h1M187.6 88.1h1M186.1 84.5h1M187.2 81.2h1M189.6 80.9h1M189.9 78.1h1M192.7 84.3h1M183.6 79.8h1M186.7 84.4h1M188 83.1h1M183 84.9h1M183.3 79h1M184.4 80.9h1M185.8 85.7h1M183.7 82.1h1M184.1 81.9h1M190 83.7h1M184.9 81.2h1M183 78.9h1M184.5 75.6h1M192.6 79.7h1M189.3 82.9h1M193.4 79.2h1M184.2 80.4h1M186.5 80.5h1M188.1 83.1h1M181 82.7h1M188.2 81.7h1M192.1 82.1h1M185.1 82.6h1M185.5 77.6h1M190 77.8h1M183.1 85.5h1M187.4 82.2h1M190.8 79.4h1M185.1 80.3h1M184.9 82.3h1M183.3 82.8h1M191.6 86.7h1M186.5 82.3h1M182.2 83.4h1M186.5 83.7h1M185.4 86.5h1M178.7 75.2h1M188.2 82.6h1M184.7 81h1M190.2 85.9h1M181.6 80.6h1M183 81h1M183.8 84.3h1M181.4 86h1M187.8 83.2h1M184.3 82.5h1M186.8 82.2h1M183.2 82.8h1M190.2 82.9h1M192.6 80.1h1M173.6 80h1M177.3 85.1h1M162.1 80.2h1M185.1 78.8h1M172.4 80.3h1M181.7 83.2h1M176.7 79.6h1M169.6 82.4h1M167.9 80.8h1M172.9 87.4h1M161.2 81.6h1M179.2 81.7h1M173.9 80.5h1M172.9 81.6h1M173 80.1h1M175.6 82.3h1M169.7 80.6h1M164.9 82.2h1M162.2 78.3h1M182.4 82.1h1M169.1 79.3h1M170.3 81.4h1M176.9 82.3h1M161.2 81.4h1M182 77.8h1M170.5 84.6h1M174.7 80.4h1M167.9 85h1M169 84.4h1M161.2 82.6h1M172.9 82.5h1M174.1 82.5h1M174.5 79.9h1M177.2 81h1M166.6 80.2h1M161.2 80.4h1M179.7 80.8h1M166.1 80.7h1M168.7 81.3h1M177.6 80.7h1M163.9 85.1h1M172.3 81.2h1M179.6 81.3h1M162.2 81.8h1M165.3 83.1h1M161.6 78.8h1M161.2 79h1M163.9 81.3h1M164.1 83.2h1M161.4 80.8h1M162.4 81.9h1M193 56.2h1M189.9 59.7h1M190.1 63.1h1M190.9 58.9h1M187.5 62.9h1M185.8 60.8h1M188 58.4h1M175.8 82.3h1M174.1 70.7h1M199.7 73.8h1" stroke="#000" stroke-width="1" stroke-opacity=".3"/>
<path d="M187.6 83.1h1M187.5 79.2h1M179.9 84.8h1M183 89.5h1M179.2 82.3h1M187.7 80.6h1M188 82.7h1M185.9 81.2h1M188.7 83.8h1M188.2 88.2h1M186 82.1h1M178.3 85.1h1M184.5 83.1h1M182.7 87.9h1M185.5 79.4h1M180.9 82.5h1M189.3 85.9h1M187.8 83.4h1M180.3 82.4h1M187.6 84.9h1M187.4 84.3h1M187.5 79.6h1M186.4 79.4h1M179.2 82.7h1M187 77.5h1M185.4 79h1M196.5 82.1h1M190.4 78.5h1M187 80.2h1M184.9 85.6h1M187.2 81.1h1M187.3 80.6h1M185.5 80.5h1M188.9 80.6h1M189.5 83.3h1M185.5 84h1M185.3 87h1M184.4 84.2h1M183.2 80.2h1M190.2 87h1M189.1 83.7h1M179.1 81.7h1M189.6 82.3h1M186.4 85.2h1M189.6 80.9h1M181.8 87.8h1M189.7 78.2h1M190.9 79.5h1M187.9 81.4h1M184.2 78.2h1M183.9 84.6h1M185.1 83.3h1M190 84.4h1M183.1 83.6h1M180.4 83.1h1M190.5 83.4h1M180.2 87h1M185.5 83h1M186.5 79.7h1M186 83.3h1M185.9 82.6h1M188.4 83h1M185.5 83.1h1M184.5 80.4h1M186.4 78h1M191.5 80.3h1M188.4 83.5h1M187.9 77.2h1M189.9 84.7h1M182.2 75.7h1M189.7 82.8h1M187.5 86.2h1M182.6 78.9h1M187.6 81.7h1M188.2 85.6h1M193.5 80h1M188.8 84.8h1M189.6 85.4h1M187 83.6h1M186.7 82.1h1M189 82.8h1M187.9 83h1M183.8 78.3h1M186.8 84.3h1M186.8 87.6h1M191.6 81.1h1M180.4 80.2h1M186.3 81.2h1M185.4 82.7h1M186.3 81.5h1M185.6 77.4h1M181.3 83.2h1M192 74.9h1M187.4 76.6h1M181.5 81.1h1M188.9 82h1M191.4 82.5h1M186.8 82h1M185.2 84.2h1M190.1 78.2h1M187.3 82.7h1M182.7 84.8h1M186.5 80h1M186.4 82.4h1M187.2 82.4h1M187.3 80.9h1M186.1 80.8h1M184 79.3h1M191.6 80.4h1M184.6 82.3h1M178 81.4h1M184.8 84.1h1M181.3 80.3h1M186.5 83.3h1M193.5 83.6h1M184 79.3h1M184.4 81.1h1M183.4 77.8h1M188.5 81.4h1M186.9 83.7h1M184.4 82.4h1M183.8 75.5h1M190.5 82.1h1M187 81.8h1M187.6 82.2h1M190.2 80.4h1M188.2 85.5h1M184.6 80.4h1M180.8 78.2h1M187.1 79.7h1M184.1 82.2h1M183.7 82h1M185.1 81h1M191.4 83.5h1M187.3 82.4h1M188 81.6h1M186.1 80.5h1M188.1 80.1h1M180.6 78.5h1M187.4 87.2h1M187.3 80h1M187.6 80.9h1M187.7 76.9h1M186.2 80.1h1M183.7 86.5h1M184.2 83.6h1M180.1 81.1h1M184.3 76.2h1M190.7 81.8h1M179 81.7h1M186.1 83.8h1M184.2 81.6h1M187.3 81.4h1M183.3 85.5h1M184.7 84.5h1M186.9 82.7h1M186 81.7h1M185.5 75.7h1M187 82.9h1M190.7 80.3h1M183.6 81.3h1M188.8 82.5h1M186.2 76.9h1M185.1 78.4h1M186.2 83.6h1M185.9 81.2h1M190.1 80.2h1M172.3 80.1h1M164.5 79.3h1M168.2 84.1h1M167.9 79.7h1M174 82.9h1M179.3 82.9h1M179.1 82.2h1M169.9 81.5h1M160.8 82h1M166 81.1h1M181.7 85.1h1M180.7 84.2h1M175.6 81h1M169.9 85.1h1M164.6 81.5h1M162.7 83.7h1M181.6 81.9h1M183.3 81.4h1M173.7 81.5h1M161.7 77.2h1M177.2 78.4h1M175.9 84.3h1M163.8 81.8h1M180.4 81.4h1M169.2 82.3h1M168.8 83.2h1M166.2 77.7h1M163.6 81h1M178.7 79.2h1M171.2 84.9h1M181.6 82.9h1M165.7 79h1M175.9 84.1h1M170.9 78.9h1M178.8 81.8h1M163.4 82.7h1M181 84.9h1M171.4 81.5h1M164.4 79.3h1M175.9 84.5h1M169.4 82.5h1M177.3 85.5h1M166.5 82h1M161.8 77.7h1M161.1 80.8h1M160.8 81.6h1M163.3 79.1h1M161.7 83.4h1M165.3 82.9h1M163.8 80.6h1M163.9 81.6h1M189.2 68.7h1M188 70h1M187.9 60.6h1M185.7 54.1h1M187.6 58.4h1M187.6 65.4h1M191.9 60.9h1M159.3 80.5h1M186.3 83.2h1M192.8 66.2h1" stroke="#000" stroke-width="1" stroke-opacity=".3"/>
<path d="M185.7 76.2h1M183 86.6h1M190.8 80.6h1M187.2 85h1M189 85h1M193.5 75.7h1M185.7 80.8h1M183.8 81.7h1M188.5 85.2h1M190.4 79.1h1M184.4 78.4h1M183.8 83.4h1M186.8 83h1M191.9 81.8h1M181.7 81.2h1M182.5 81.4h1M181.6 82.7h1M188.8 83.2h1M186.4 80.4h1M188.3 82.4h1M187.5 78.5h1M182.9 84h1M182.4 81.3h1M182.6 82.9h1M188.1 83h1M191.2 83.1h1M185.9 83.7h1M187.9 80.3h1M190.1 80.3h1M187.8 78.6h1M184.5 80.9h1M188.3 81h1M191.2 83.1h1M187.4 80.6h1M185.8 79.2h1M186.3 78.9h1M187.7 80.3h1M186.4 85.9h1M190.3 82.4h1M183.1 86h1M188.5 84.5h1M194.4 82.4h1M183.5 81.6h1M187.3 81.7h1M185.1 82.4h1M192.3 81.7h1M190.8 84h1M189.3 77.9h1M192.2 80.9h1M181.7 84.5h1M189.4 78h1M182.3 85.6h1M192.4 83h1M190.2 81h1M186.3 84.1h1M178.3 84h1M192.3 83.5h1M193.2 80.3h1M182.9 81.1h1M180.6 79.7h1M185.3 84.1h1M183.7 83.3h1M186.5 79h1M186.4 81.1h1M181 84.2h1M184.4 83.9h1M189.5 82.8h1M189.3 84.8h1M185 78.5h1M187.3 79.6h1M180.5 80.3h1M188 86.4h1M183.3 80.5h1M184.5 82h1M182.7 81.5h1M185.4 77.9h1M189.2 81.7h1M176.1 83.2h1M193.7 82.5h1M187.3 85h1M181.3 78.1h1M182 82.7h1M186.6 85.4h1M187.8 77.3h1M187.3 85.5h1M188.7 86h1M181.6 81.7h1M189.3 77.8h1M185.5 77h1M187.8 82.4h1M191.8 79.3h1M186.3 83.9h1M186.3 79.8h1M187.5 78.8h1M178.5 80.4h1M184.1 74.4h1M187 83.7h1M185.1 82.9h1M184.9 79.3h1M185 80h1M189.6 81.5h1M190.2 85.2h1M187.1 83.4h1M184.7 82.3h1M183.8 84h1M190.2 80.7h1M183.5 82.4h1M190.1 82.2h1M188.3 79.9h1M188.3 85.7h1M175.8 82.2h1M183.5 84.9h1M187.9 83.2h1M183.1 80.4h1M186.8 82.1h1M188.2 83h1M185.4 80h1M190.2 82h1M179 85.3h1M188.1 82.1h1M185.7 81.9h1M188.2 85.8h1M185.9 79.8h1M192.3 85.6h1M187.1 82.7h1M188.2 82.3h1M188.3 77.6h1M186.1 84.4h1M187.1 83.9h1M184.1 85.5h1M189.3 83.8h1M185.1 80.3h1M181.6 82.8h1M186.8 79.1h1M188.5 84.4h1M186 85.9h1M189.3 87.7h1M188.9 85.5h1M189.2 81.1h1M182.2 83.7h1M184.4 79.8h1M191.5 80.2h1M187 84h1M183 82.4h1M184.9 81.3h1M191.4 80.8h1M187.1 79.5h1M187.2 83.8h1M186.9 80.3h1M193.2 78.2h1M182.7 83.2h1M180.4 78.5h1M189.8 80.9h1M186.4 83.5h1M187.9 84.4h1M183.6 75.6h1M189.5 78.5h1M188.3 83.7h1M191.2 79.1h1M183.3 82.1h1M183.2 85.8h1M185.7 77.8h1M185.2 82.5h1M187.8 82.8h1M197.2 80.5h1M180.7 83.4h1M187.6 83h1M180.6 80.5h1M166.8 80.9h1M170 79.8h1M175.1 83.1h1M180.1 82.4h1M171.1 82.7h1M181.6 78.3h1M166.5 80.2h1M165.5 79.3h1M159.5 80.6h1M158 83.1h1M163.2 76.3h1M180.7 83.3h1M166 79.9h1M169.1 83h1M175.8 84.4h1M169.3 82.3h1M170.8 81.6h1M176.6 80.6h1M176 85.6h1M176.3 80.7h1M166.6 78h1M165.8 84h1M182.5 80.2h1M182.7 83.4h1M167.1 81.5h1M164 79.8h1M179.8 85.2h1M169.1 80.4h1M172.6 81.4h1M174.1 81.2h1M177.8 84.7h1M162.9 81.1h1M176.5 83.8h1M178.4 83.6h1M183.2 79h1M171 79.1h1M177.3 76.8h1M179.5 82.9h1M168.1 78.5h1M173.8 84h1M163.7 79.9h1M161.1 81.2h1M163.4 81h1M160.4 82.3h1M162.6 83.6h1M163.2 82.2h1M162.1 81.9h1M164.6 81.5h1M161.6 81.6h1M189.9 58.1h1M188.5 61.8h1M190.9 61.7h1M189.9 55.4h1M189.6 62.3h1M188.6 69.5h1M190.2 58h1M189.9 53.9h1M159.7 74.2h1M184.3 71.7h1" stroke="#000" stroke-width="1" stroke-opacity=".3"/>
<path d="M186.7 82.3h1M190.6 84.3h1M186.7 83.7h1M190.1 86h1M183.2 80.2h1M186.1 82.3h1M182.2 86.5h1M184.8 82.3h1M189.6 85.1h1M186 83.3h1M182.2 80.9h1M184.7 82.5h1M189.6 78.2h1M188.8 79.4h1M185 79.8h1M186.6 83.2h1M189.7 77.1h1M187.7 78.9h1M184.9 79.6h1M185.8 79.8h1M185.6 82.3h1M188.3 81.1h1M191 79.4h1M180 81.5h1M191.8 83.9h1M182.4 83.4h1M185.3 83.6h1M186.6 82.6h1M189.1 82.5h1M178.7 83.4h1M190.2 80.3h1M187.5 82.5h1M192.5 83h1M189.2 75.1h1M185.6 80.7h1M187.7 81.3h1M187.1 81.5h1M188.9 85.8h1M190.3 83.9h1M189 79.8h1M183.1 81.7h1M180.3 82.1h1M187.4 81.1h1M182.5 79.2h1M186.5 85.9h1M182.3 82.2h1M185.1 83h1M183.2 80.4h1M186.2 86.6h1M187.7 78.2h1M190.2 81.9h1M184.2 80.4h1M187.4 83.6h1M188.5 81.7h1M189.8 83.7h1M183.1 84.6h1M184.5 78.9h1M189.1 84.4h1M191.2 81.3h1M187.2 79.6h1M194.8 80.5h1M188.9 81.4h1M181.6 80.5h1M188.3 78.9h1M188.5 83.2h1M187.4 79.6h1M179.7 81.7h1M186.4 78.9h1M186.1 82.7h1M185.9 80.9h1M192.5 83h1M187.8 78.9h1M181.8 81.5h1M181.4 82.9h1M188 85.5h1M188.4 82.5h1M188.3 82.2h1M191.4 79.5h1M184.3 76h1M186 82h1M181.5 82.1h1M182.8 78.8h1M184.9 79.2h1M182.6 78.7h1M190.7 80.3h1M188.4 84.4h1M181.2 79.3h1M184.6 82.1h1M187.2 80.9h1M184.7 78.6h1M186.1 81.2h1M184.6 83.6h1M186.3 84.4h1M191.3 84.7h1M180 84.8h1M187.9 84.2h1M191.1 81h1M189.3 83.7h1M186.1 80.7h1M188.5 81.9h1M183.8 79.1h1M186.3 84.2h1M183.9 83.4h1M181.1 82.8h1M190.3 80.6h1M186.4 83.3h1M187.7 85.3h1M186 78.7h1M188.1 80.9h1M179.3 78.8h1M184.6 80.6h1M189.6 82.1h1M192.6 86.2h1M180.3 84.6h1M185.6 83.8h1M183.8 79h1M186.6 84.2h1M184 78.3h1M188.3 80.7h1M183.3 83.3h1M185.4 80.5h1M185.5 83.6h1M186.6 81.9h1M188.2 81.5h1M182.6 79.1h1M185.1 79.5h1M186.5 82.9h1M181 81h1M184.9 80.1h1M190.7 83h1M183.1 81.5h1M184.7 84.4h1M186.1 82.5h1M189.2 83.1h1M187.3 80.5h1M192 78.4h1M191.2 84.7h1M185.1 83.2h1M189.9 78h1M190.6 79.1h1M187.3 80.7h1M184.1 78.5h1M186.3 83h1M189 75.9h1M180.8 79.3h1M191.6 85.7h1M187.3 85.9h1M183.7 85.4h1M189.9 80.1h1M178.4 81.4h1M184.8 82h1M187.6 85h1M187.4 82.3h1M188.1 84h1M177.8 84.3h1M183.7 83.1h1M183.4 84.6h1M189.9 78.2h1M189.3 82.2h1M182.8 84h1M189.1 85h1M193.3 78.6h1M190.3 78.8h1M188.3 84.9h1M185.7 80.3h1M183 80.5h1M168.8 81.2h1M168.4 86h1M181.4 80.5h1M176.5 80.9h1M170.5 80.6h1M163.5 77.8h1M179.3 82.7h1M177.3 84.4h1M174.9 85.7h1M181.4 79.7h1M173.4 84.4h1M173.6 81.3h1M162.5 79.5h1M164.6 83.3h1M161 81.4h1M169.2 83.9h1M160.3 81h1M176.9 81.6h1M173.2 81.8h1M168.9 82.3h1M177.4 83.3h1M163.2 80.9h1M177.1 81.6h1M177.1 83.4h1M169.4 83.7h1M168.5 79.4h1M169.9 81.5h1M168.4 81.7h1M170.8 82.3h1M166 79h1M170.6 81.6h1M168.2 79.7h1M161.2 85.8h1M173.6 83.5h1M183.1 78.6h1M173.5 80.7h1M180.8 83.7h1M165.5 80.7h1M168.5 83.3h1M173.5 81.9h1M176.1 79.3h1M171 82.5h1M168.1 81.5h1M165.8 81.8h1M164.6 81.8h1M163.2 79h1M162.9 80.4h1M162 77.9h1M162 79.6h1M161.9 81.9h1M163.6 80.7h1M185.8 64.7h1M184.8 65.6h1M190.6 65.9h1M189 65.5h1M188.1 53.5h1M192.1 66.5h1M193.2 59.5h1M192.5 66.7h1M184.2 81.4h1M180.6 75.5h1" stroke="#000" stroke-width="1" stroke-opacity=".3"/>
<path d="M186.7 80h1M190.8 83.2h1M186 84.5h1M188.1 80.4h1M180.1 79.3h1M193.3 86.2h1M184.8 76.7h1M196.6 82.8h1M184.6 81.8h1M186.2 82.7h1M182.8 75.2h1M186.6 81.8h1M187.2 81.4h1M177.1 77.4h1M183.4 79.5h1M190 80.4h1M187 81.3h1M184.9 82.1h1M183.8 81.6h1M185.2 83.5h1M183.3 82.6h1M191.6 81.1h1M190.8 82.3h1M183.6 78.2h1M187.5 82.4h1M192.6 81.7h1M189 79.3h1M183.1 81.2h1M182.9 81.3h1M179.7 83.5h1M187.6 79h1M188.1 75.8h1M185.6 83.6h1M185.6 82.2h1M187.1 80.7h1M179.5 82.3h1M179.1 78h1M185.9 82.7h1M189.3 84.2h1M187.2 82.7h1M187.4 84.2h1M181.6 80.2h1M184.1 80.9h1M187.5 79.7h1M185.5 80.5h1M187.7 76.4h1M191.3 81h1M189 77.9h1M186.6 83.5h1M192.2 80.1h1M187.9 81.9h1M188.6 82.8h1M189.4 81.2h1M187.3 80.5h1M188.9 79.5h1M184.1 80h1M180.9 83.1h1M185.4 81.4h1M188 78.3h1M188.9 84.1h1M187.4 83.8h1M188.4 87h1M186.3 79.8h1M181.4 86.5h1M180.8 76.6h1M189 86.5h1M184.1 78.9h1M192.1 78.6h1M181.3 79h1M187.9 79.9h1M188.2 82.9h1M192.1 82.6h1M187.3 86.8h1M185.3 79.1h1M187.2 83.7h1M193.1 82.2h1M181.8 86h1M180.1 82.5h1M189.9 81.5h1M189.2 78h1M187 83.6h1M185.1 82.1h1M191 86.1h1M187.8 82.1h1M188.6 80.9h1M191 84.5h1M187.3 82.2h1M184.9 80.4h1M184.4 83.4h1M182.6 81.5h1M183.5 77.4h1M189.3 83.3h1M188.7 82h1M184.4 85h1M183 75.7h1M184.3 78.3h1M182.1 79.8h1M191.4 81.1h1M189.1 80.9h1M187.9 81h1M186.5 82.7h1M184.7 81.6h1M183.9 79.6h1M187.7 82.5h1M188.5 82.6h1M187.8 80.5h1M185.2 82.8h1M186.7 84.7h1M187 85.1h1M182.1 84h1M187.4 80.3h1M189.6 85.8h1M187.4 82.9h1M182.7 77.6h1M193 80.8h1M188.6 76.7h1M181.2 81.2h1M185 80.5h1M186 79.4h1M190.3 83.4h1M180.3 86.5h1M188.3 78.7h1M188.7 85.2h1M184.2 84.4h1M185.8 86.2h1M185.8 80h1M184 79h1M191.7 82.6h1M187.6 83.3h1M187.2 82.2h1M185.4 78.8h1M184.9 77.6h1M193.7 81.2h1M193.6 85.4h1M189 85.6h1M177.9 82.9h1M184.9 83.4h1M180.8 84.1h1M186 84.2h1M186.6 87.4h1M183.3 81.2h1M192.9 83.3h1M185.9 82.3h1M184.5 85.1h1M182.4 81.5h1M190.7 82.5h1M187.1 80.1h1M188 84.7h1M186.7 76.8h1M184.5 81.3h1M189.4 81.9h1M185.3 77.7h1M187.8 78.2h1M184.2 80.4h1M178.1 82.3h1M183.5 82.9h1M189.3 80.6h1M182 79.8h1M182.4 82.2h1M186.9 79.9h1M188.5 82h1M179 80h1M178.7 77.9h1M182.1 76h1M187.1 83.1h1M189.7 79.5h1M178.8 78.9h1M178.7 77.4h1M175.2 79.4h1M171.2 80h1M162.7 80h1M159.5 81.5h1M166.5 80.5h1M181.6 80.5h1M171.7 79.8h1M180.8 79.6h1M174.3 76.7h1M165.6 84.7h1M162.2 83.4h1M179.2 84.3h1M167.8 79.8h1M181.6 83.4h1M162.3 78h1M165.7 80h1M168.7 79.7h1M175.6 84.8h1M175.8 81.7h1M166.8 83.2h1M180.1 81.8h1M177 78.7h1M175.8 81.9h1M169.1 77.7h1M176.6 84.9h1M173.7 80h1M178.4 86h1M184 83.6h1M180.4 86.8h1M170.7 80.9h1M175.1 79.2h1M174.9 83.1h1M162.2 80.8h1M165.5 80.1h1M168.4 79.6h1M177.6 80.2h1M176.2 79.7h1M173.6 84h1M176.2 81.2h1M182 82.4h1M174.5 80.4h1M178 80.6h1M159.9 83.4h1M163.1 82.8h1M160.7 84h1M163 83.8h1M162.8 79.3h1M161.3 82.4h1M161 78h1M188.8 64.4h1M188.1 68.5h1M190.1 61.3h1M189.3 59.4h1M188.7 56.2h1M187.6 61.1h1M193.8 60.1h1M189.7 65.1h1M156.9 64.5h1M163.5 90.3h1" stroke="#000" stroke-width="1" stroke-opacity=".3"/>
</g>
<rect x="178.3" y="48.3" width="27.5" height="23.5" fill="none" stroke="#707070" stroke-width="1"/>
<text x="193.25" y="47.3" font-size="6.9" text-anchor="middle">4.01</text>
<rect x="223.3" y="27.3" width="70.6" height="71.3" fill="none" stroke="#909090" stroke-width="1.1"/>
<g filter="url(#bl)">
<ellipse cx="264.2" cy="81.3" rx="3.8" ry="3.3" transform="rotate(0 264.2 81.3)" fill="#000" filter="url(#bl2)"/>
<path d="M264 77.5h1M266.5 78.3h1M261.6 85.4h1M266.2 80.9h1M270 81h1M263.9 83.7h1M266.6 80.3h1M264.3 79.2h1M273.2 78.8h1M258.3 84.4h1M262.5 84.2h1M266.1 78.6h1M267.8 83.6h1M263.2 86.6h1M267.5 79.9h1M261.9 79.1h1M264.4 83.6h1M261.4 81.1h1M267 85.2h1M267.8 84.3h1M264.8 80.3h1M262 77h1M267.7 84.2h1M265.4 80.3h1M266.7 81.7h1M264.1 79.6h1M265.6 79.9h1M266.3 79.8h1M269.4 78.6h1M267.2 77.7h1M266.2 81.1h1M261.6 80h1M262.9 83.9h1M264.8 78.8h1M267.4 82.5h1M264.9 82.7h1M268.3 80.7h1M263.7 79.3h1M264.6 81.3h1M263.4 81.3h1M263.3 79.9h1M266.3 84.7h1M264.2 77.6h1M269.5 82h1M261.5 80.1h1M268.1 85h1M260.1 81.3h1M262.5 81h1M258.6 84.9h1M263.2 80.6h1M260.4 84.2h1M270.9 80.4h1M264.1 81.9h1M262.9 80.7h1M268.4 82.3h1M260.3 82.2h1M263.6 81.6h1M260.2 79h1M261.3 78h1M261.6 82.4h1M261.8 82.9h1M268.4 78.4h1M267 83.4h1M269.3 77.8h1M262 80.4h1M260.9 83.1h1M264.1 84.5h1M262.8 83.4h1M260 80.7h1M262 84.4h1M264.2 83.3h1M264 84.2h1M265 80.3h1M263.8 83.2h1M261.4 78.7h1M266.7 79.6h1M263.7 80.2h1M261.5 83.3h1M265.1 78.3h1M265.9 76.6h1M262.9 83.1h1M263.3 86.2h1M261.2 82.9h1M266.3 81.4h1M263 87.3h1M259.5 79.6h1M265.4 79.2h1M268.7 78.8h1M266 82.8h1M261.9 80.9h1M267.2 82h1M265.6 81.2h1M267.5 86.9h1M257.3 80h1M264 85.7h1M265.1 80.9h1M262 80.9h1M267.6 81.8h1M263.9 80.1h1M262.3 82h1M262.9 83.8h1M267.9 83.7h1M265.4 83.8h1M267 81.3h1M264.1 77.9h1M266 79.4h1M263.4 81.3h1M269.7 78.7h1M263.7 81.2h1M266 77.4h1M264.1 81.4h1M264.2 79.6h1M264.5 79.1h1M265.3 81.8h1M264.7 84.4h1M263.1 84.1h1M265.2 82.1h1M264.1 83.1h1M266.7 79.7h1M261.5 78.9h1M265.9 85.8h1M264.7 79.8h1M264.3 82.7h1M260.7 80h1M268.6 75.3h1M264.8 85.5h1M262.6 78.8h1M265.6 83.6h1M262.3 84.9h1M257.8 78.5h1M261.4 83.8h1M265.4 85.4h1M266.7 79.6h1M262.9 81.5h1M265.3 82.8h1M270.1 79.3h1M266.5 79.6h1M264.2 78.8h1M264 80.7h1M266.3 81.9h1M265.6 82.4h1M268 84h1M263.5 80.5h1M262.2 83.2h1M262.7 84.3h1M262.9 82.7h1M260.2 82.6h1M258.5 78.9h1M265.5 84.5h1M267.2 81.9h1M261.1 77.9h1M267.9 80.4h1M268.2 79h1M266.9 79.7h1M263.6 80.6h1M263.1 78.1h1M263.4 78.6h1M263.2 85.5h1M263.5 82h1M264.1 83h1M257.2 81.2h1M261.9 82.9h1M269.5 83.7h1M269.3 80.4h1M261.7 85.5h1M266.3 79h1M265.1 78.9h1M258.9 82.3h1M261.5 77.7h1M257.6 82h1M266.4 79.4h1M260.6 77.6h1M259.9 80.6h1M272.5 87.9h1M254.7 77.5h1M254.7 79.8h1M267.6 83.5h1M267.8 88.5h1M266.3 81.1h1M266.3 77.3h1M267.3 79.9h1M258.8 86.5h1M268.8 81.1h1M252.4 77.9h1M262.2 82.1h1M260.5 84.5h1M260.6 77.2h1M262.1 80.7h1M262.3 79.6h1M268.1 82.2h1M256.5 79.8h1M263.9 81.7h1M251.1 81.2h1M260.3 78.7h1M262.4 76.1h1M263.5 79.4h1M262.8 85.3h1M271.5 83.7h1M253.4 82.5h1M262.9 87.7h1M240 81.6h1M241.9 80.9h1M240.2 80.2h1M239.9 81.2h1M239.9 83.2h1M257.5 77.7h1M249.1 77.4h1M251.5 80.2h1M256.9 79.7h1M253.8 79h1M249.3 78.5h1M247.2 75.8h1M256.1 81.6h1M246.4 83.5h1M244.4 81.2h1M256 80h1M254.3 78.1h1M250.5 81h1M253.1 80.6h1M253.6 82.4h1M245.4 78.1h1M257.1 80.8h1M256.9 81.4h1M256.3 76.9h1M269.6 57.5h1M268.2 65.7h1M265.9 65.3h1M266.7 55.6h1M268 61.8h1M265.7 76.7h1M243.7 65.4h1" stroke="#000" stroke-width="1" stroke-opacity=".3"/>
<path d="M269.1 79.6h1M265 82.5h1M263.5 83.1h1M264.2 81.8h1M268.1 84.6h1M265.8 84.8h1M266.2 82.6h1M267.2 83.4h1M259.5 82.7h1M259.5 83.7h1M266.1 81.3h1M263.8 81.1h1M265.4 78.2h1M266.9 76.8h1M267.3 79.7h1M262.3 75.7h1M264.8 85h1M261.3 84.9h1M261.4 83.1h1M262.6 81.2h1M264.7 77.2h1M262.1 80.5h1M264.4 79.3h1M268.4 83.1h1M264.4 85.5h1M263.2 83h1M264.1 82.4h1M267 83.7h1M267.1 80.1h1M260.5 84.5h1M262.1 83.1h1M267.1 81h1M256.8 83.5h1M260.8 80.6h1M263.1 79.9h1M265.4 78.9h1M260.3 80.6h1M264.7 85h1M264.7 80.9h1M264.5 79.6h1M260.5 80.6h1M267.7 84h1M262.2 80.6h1M264 81.7h1M263 84.1h1M263.2 80.6h1M265.6 84.4h1M264.5 80.3h1M260.1 86.5h1M265.5 81h1M259.2 82.1h1M265.3 81h1M266.2 80.4h1M258.4 84.3h1M260.9 81.4h1M258.9 79.2h1M267 80h1M265.5 83.2h1M260.6 81h1M260.9 82.6h1M262 80h1M264.3 83.1h1M268.6 80.9h1M263.2 80.6h1M259.4 82.9h1M262.5 79.6h1M263.4 85.4h1M264.4 78.9h1M262.6 82.6h1M264 81.3h1M263.7 83.5h1M265.8 78.4h1M262.7 79.5h1M271.1 84.9h1M262.4 81.2h1M269.3 82.5h1M262.3 77.4h1M261.5 80.5h1M265.8 82.5h1M263.6 82.5h1M259.6 81h1M265 79.4h1M269.5 84.2h1M264.5 79.9h1M265.1 77.8h1M257.2 80.2h1M268.2 81.2h1M261.4 80.4h1M266.3 83.1h1M262.5 78.6h1M262.9 80.3h1M266.8 81.4h1M259.8 78.9h1M264.2 81.8h1M267.1 81.6h1M263.3 79.2h1M256.4 80.5h1M262.8 80.7h1M264 85.7h1M257.5 77.8h1M265.7 83.4h1M262.9 79.3h1M258.5 79.7h1M267 80.3h1M268 79.8h1M266.8 80.7h1M263 84.4h1M263.8 77.6h1M262.8 83.2h1M264.6 80.1h1M267.1 81h1M263 83.3h1M260.2 83.4h1M263.7 82.4h1M262.5 82.5h1M258.1 81.9h1M264.9 84.8h1M262.9 83.5h1M265.6 85.6h1M263.4 81.9h1M266.4 77.2h1M265.7 82.8h1M266.5 82.3h1M268.4 83.3h1M264.6 78.3h1M265 85h1M267 80.3h1M262.3 83.6h1M259.2 81.5h1M261.8 78.8h1M262.9 86.6h1M266.8 82.4h1M264.1 82.7h1M263.7 86.7h1M266.4 83.5h1M265.3 81.2h1M266.6 82.9h1M266 80.5h1M260.7 81h1M259.4 76.5h1M266.8 83.7h1M267.1 79.4h1M265.9 82.4h1M256.9 78h1M265.5 78.9h1M267.3 76.9h1M265.6 83.2h1M258.3 79.5h1M261 81.1h1M266.1 78.5h1M266.9 82.7h1M265.1 80.5h1M269.2 83.5h1M262.3 84.4h1M263.2 87.6h1M260.1 81.7h1M261.6 83.3h1M262 78.6h1M267.2 78.7h1M263 79.4h1M264.4 79h1M261.5 79.4h1M262.1 83.3h1M265.9 75.7h1M264.7 79.3h1M262.1 79.4h1M270.3 83.3h1M258.7 83.3h1M267.1 79.5h1M262.1 75.7h1M263.6 83.1h1M267.3 82.7h1M264.1 82.6h1M268.2 77.3h1M261.8 85.3h1M264.4 83h1M268 79.5h1M266 77.8h1M259.7 76.7h1M264.5 84.4h1M261.5 77.5h1M259.5 74.6h1M271.1 84.8h1M257.5 80.6h1M268.5 83.3h1M262.7 76.9h1M275.8 81.5h1M262.7 85.1h1M259.6 79.9h1M262.4 84.8h1M268 86.8h1M263.7 78.7h1M265.1 79h1M264.2 76.1h1M266.1 83.1h1M259.8 80.6h1M274.6 81.3h1M266.6 78.8h1M268.6 69.9h1M267.7 76.2h1M240.4 84.3h1M240.3 80.8h1M240 81.4h1M240.6 83.2h1M242.2 81.4h1M259.6 75.9h1M246.2 81.7h1M249.7 78.9h1M259.6 84.9h1M258.1 76.2h1M247.9 79.9h1M241.9 77.3h1M241.5 82.5h1M245.5 80.1h1M252.2 80.6h1M242.6 78.7h1M240.6 78.8h1M248.7 82h1M249.8 82.5h1M253.9 75.3h1M247.7 81.4h1M250.7 79.9h1M249.7 79.8h1M255 82.8h1M265.4 54.4h1M265.7 56.3h1M267.3 63.7h1M267.1 69.7h1M269.6 58h1M239.2 73.6h1M262.9 89.5h1" stroke="#000" stroke-width="1" stroke-opacity=".3"/>
<path d="M265.8 80h1M262.4 80.6h1M263.9 81.5h1M267.8 83.5h1M268.6 81.8h1M259.8 79.5h1M262.4 76h1M265 79.6h1M263 80.2h1M264.9 78.2h1M264 81.6h1M262.6 82.5h1M267 83.5h1M264.3 84.4h1M264.9 81.3h1M266.7 81.5h1M260.4 80.7h1M265.8 84h1M265.1 80.9h1M266.4 77.3h1M260.7 77.9h1M264.2 84.3h1M266.1 82.4h1M267.7 83.2h1M263.1 77.2h1M266.8 78.7h1M259.4 81.2h1M263.8 75.9h1M265.7 81h1M265.3 85.2h1M259 79h1M262.5 83.3h1M262.4 80.7h1M265.2 81.5h1M267.3 82.1h1M263.6 79.1h1M266.2 82.6h1M262.8 85h1M261.5 80.6h1M264.1 81.3h1M264 79.7h1M265 82.2h1M270.9 79.4h1M266 80.2h1M264.9 77.5h1M269.4 79h1M257.1 84.4h1M260.2 78h1M265.6 80.3h1M265.1 77.5h1M263.1 84.2h1M262.9 77.6h1M265.7 81.6h1M267.1 81.4h1M266.3 83.6h1M260.9 81.1h1M267.3 78.7h1M266.5 77.4h1M267.8 79.6h1M262.4 83.1h1M264.2 81.7h1M262.6 77.2h1M262.7 81.6h1M261.7 80h1M266.1 84.8h1M265.6 81.6h1M265.4 82.9h1M261.4 81.7h1M268 85h1M263.5 78.8h1M265.4 77.2h1M262.3 82.1h1M266 80h1M267.9 82.2h1M265.2 80.5h1M266.6 81.5h1M262.8 82.1h1M264.6 80.3h1M268.9 84.1h1M264.5 77.6h1M266.1 79.8h1M265.8 82.1h1M265.4 82.1h1M259.5 80.5h1M262.7 85h1M270.2 81.5h1M265.6 81.6h1M262.8 84.3h1M269.5 80.9h1M262.3 80.1h1M267.9 77.5h1M262 83.9h1M267.4 82.5h1M266.3 80.7h1M266.2 80.7h1M264.9 82.1h1M263.7 77.8h1M266.9 80.1h1M267.9 77.5h1M264.5 82.2h1M263.4 79.3h1M266.9 83.7h1M267.8 81.2h1M261 77.4h1M265.3 81.3h1M261.6 79.2h1M264.7 80.2h1M264.7 81.8h1M271.3 84h1M265.4 81.4h1M264.9 77h1M265.2 81.2h1M262.5 76.5h1M268.4 82.4h1M267.5 85.2h1M260.7 79.7h1M264.6 81.7h1M262.6 82.9h1M265.3 80.5h1M269.5 81.8h1M259.4 85.1h1M261.7 78.7h1M267.3 79h1M264.4 84.5h1M263.4 78h1M261.3 81.5h1M263.8 81.7h1M261.5 80.9h1M265.7 81.3h1M265.4 79.4h1M262.7 82.7h1M265.1 77.6h1M263.3 81.3h1M263.6 78.5h1M261.5 80h1M261.9 83h1M259.3 80.8h1M265.6 80.1h1M267.2 83.1h1M269.7 80.4h1M260.3 78h1M264 81.1h1M265.2 78.4h1M263.1 80.1h1M262.6 79.9h1M266.2 80.6h1M265.2 77.8h1M260.9 81.9h1M268.5 79.5h1M265.6 81.6h1M265.1 79.3h1M262.6 80.6h1M257.9 79.8h1M263.4 78.7h1M263.7 85.4h1M262.4 81.1h1M266.8 81.6h1M264.1 79.4h1M260.7 81.5h1M269.8 79.3h1M263.1 86.8h1M268.2 77.5h1M266 81h1M263.5 78.3h1M265.2 81.3h1M257.4 82.8h1M268 85.1h1M261.2 89.5h1M259.7 82.1h1M261.7 81.5h1M268 85.1h1M267.9 79.6h1M261.3 76.8h1M259.7 78.2h1M262 87.5h1M260.5 86.9h1M258.8 79.5h1M258.6 78h1M270.5 80.5h1M269.1 83h1M270.5 76.6h1M265.2 77h1M271.9 84.7h1M258.7 81.7h1M270.5 75.9h1M260.4 87.6h1M262.1 85.2h1M265.4 83.5h1M263.3 75.8h1M267.8 77.5h1M265.7 83.4h1M263.5 80.4h1M272.3 77h1M264.5 79.4h1M263.5 80.2h1M260.3 79.3h1M261.9 79.5h1M261.2 73.9h1M269.6 79.6h1M261.3 76.8h1M242.6 82h1M241.4 81.5h1M241.5 79.2h1M240.9 81.5h1M238 84.2h1M258.4 81.4h1M244.7 77.5h1M243.1 81.5h1M255.8 79.8h1M250.2 80h1M255.7 78.8h1M249.7 77.6h1M243.7 80.8h1M252.3 80.5h1M246.2 79.1h1M255.8 81.4h1M242.5 77.9h1M256.2 77.7h1M253.7 76.6h1M242.7 80.5h1M243.5 82h1M242.6 79.1h1M252.4 82.3h1M267.7 62.4h1M268.1 59.6h1M267.6 69h1M266.9 65.6h1M266.2 72.4h1M257.7 77.2h1M235.9 64.1h1M233.6 82.3h1" stroke="#000" stroke-width="1" stroke-opacity=".3"/>
<path d="M264.9 78.6h1M263.5 82.3h1M261.7 82.2h1M261.3 79.9h1M265.8 77.9h1M261.6 79h1M261.7 78.5h1M261.8 76.7h1M265.9 81h1M264.4 83.3h1M265 81.8h1M263.5 80.7h1M269.9 76.2h1M262.5 82.7h1M260.8 82.1h1M264.9 80.7h1M262.5 84.1h1M265.2 75.7h1M263.4 82.5h1M265.6 86.9h1M266.7 81.1h1M267.9 84.9h1M264.6 78.6h1M266 82.2h1M259.9 80.6h1M261.5 81.6h1M265.9 83.4h1M262.9 79.6h1M267.7 79.7h1M261.4 81.8h1M267.9 80.2h1M267.3 86.3h1M265.8 81.8h1M262.1 78.1h1M268.7 82.1h1M265.5 78.3h1M264.9 85.9h1M261.4 84.6h1M264.5 79.2h1M264 84.8h1M263.2 83.3h1M264.2 84.2h1M266.7 81.5h1M264.5 82.5h1M260.7 85.8h1M268.5 82.1h1M265.9 84.8h1M265.6 82.5h1M257.8 79.7h1M262.5 84.6h1M267.4 81.7h1M263.8 81h1M268.8 81.2h1M273.4 84.2h1M264.7 80.1h1M266.1 81.2h1M263.6 77.3h1M265.6 81.1h1M262.1 78.6h1M261.8 82.3h1M268.8 77.3h1M261.5 81.8h1M268.4 82.7h1M264.2 86.8h1M260.9 86.3h1M262.6 80.8h1M258.5 83.3h1M265.1 76.2h1M261.4 84.2h1M266.2 82.1h1M262.3 76.6h1M268.9 80.8h1M265.7 82.2h1M263.1 82.5h1M265.2 82.9h1M266.6 83.9h1M262.9 79.5h1M261.1 86.2h1M262.9 83.5h1M262.4 82.9h1M263.2 79h1M265 81.1h1M262.3 78.3h1M266.1 83.7h1M259.2 81.7h1M263.5 78.6h1M267.4 82.7h1M259.8 86.7h1M266.1 80.9h1M263.8 77.6h1M267.3 77.8h1M268.3 84.3h1M263.3 74.4h1M261.7 80.5h1M261.7 83.6h1M269.2 81.2h1M265.8 79.2h1M265.3 83.6h1M264.3 81.5h1M263.7 80.2h1M264.7 79.8h1M264.4 78.6h1M263.3 82.8h1M264.9 83.4h1M267.1 81.9h1M263.8 85.5h1M264.7 79h1M266.2 78.2h1M268.4 78.8h1M267.1 77.5h1M257 77.9h1M262.9 81.8h1M262.2 85.6h1M263.7 78h1M259.8 77.2h1M260 79.2h1M263.9 81.3h1M269.5 81.8h1M260.6 81.3h1M268.2 77.4h1M264 84.4h1M258.8 80.6h1M265.9 82.2h1M261.7 80.9h1M271.4 79.7h1M263 77.6h1M260.8 81.9h1M264.6 81.6h1M264.9 83.5h1M271.1 82.7h1M265.8 80.2h1M264.6 80.1h1M267.1 85.5h1M259.9 78.3h1M262.7 81.5h1M264 85.3h1M265.1 83.1h1M265.3 81.6h1M261.8 82h1M267.7 84.3h1M264.6 81.3h1M261.2 79.2h1M259.7 86.1h1M262.1 80.3h1M264.1 84.2h1M267.8 82.8h1M263.1 80.7h1M263.6 83.9h1M264.8 81.6h1M267.1 79.6h1M267.7 85.1h1M263.4 82.5h1M263 81.3h1M263.7 83.8h1M263.8 82.3h1M263.7 80.1h1M273.2 83.2h1M266 78.7h1M265 80.7h1M266.4 80.9h1M269.3 82.8h1M264 81.6h1M263.5 80.7h1M266.5 77.4h1M266.5 82.1h1M263.6 84.2h1M268.1 82.3h1M264.4 82.6h1M259.7 80.2h1M265.6 82.1h1M260.3 79.5h1M262.2 79.6h1M275.3 78.3h1M261.1 81.7h1M265.3 85.8h1M264.3 85.9h1M262.1 80.8h1M263.9 81.7h1M262.7 80.7h1M264.9 86.3h1M264.1 75.9h1M256.7 84.7h1M263.9 82.7h1M262.6 79.2h1M266.7 86.3h1M259.6 83.2h1M266.7 80.2h1M267.8 78.6h1M269 78.1h1M263.2 74.7h1M271.6 72.3h1M266.7 83.2h1M258.1 79.1h1M266.8 77.3h1M259.4 77.5h1M264.4 83.3h1M257.9 80.3h1M264.9 79.9h1M262.8 75.5h1M257.1 78.4h1M241.2 78.6h1M242.3 83.2h1M238.9 80.4h1M239.9 81.7h1M240.3 85.2h1M256.2 75.8h1M241.7 83.8h1M245 82.7h1M254.4 82.5h1M250.9 82.6h1M254.6 80.9h1M248.4 83.2h1M252.6 80.6h1M249.7 80h1M247.1 80.2h1M246.1 78.2h1M246.1 79.9h1M258.1 81.5h1M258 85.6h1M252.4 79.6h1M256 76.8h1M241.6 81h1M249.9 81.9h1M267.5 67h1M267.2 60.7h1M267.8 61.1h1M267.8 58.6h1M268.5 64.3h1M242.3 84.8h1M279.1 70.9h1M260.4 74.6h1" stroke="#000" stroke-width="1" stroke-opacity=".3"/>
<path d="M263.2 83.4h1M266.7 84.5h1M269.8 81.7h1M264.3 83.3h1M259.3 79.9h1M268.7 79.2h1M268.7 79.7h1M265.3 82.2h1M266.9 82.5h1M261.4 81.4h1M259.5 83.4h1M261.6 80.7h1M264.2 80.6h1M264.5 78h1M263.1 75h1M264.4 80.7h1M268.9 80.1h1M266.4 81.5h1M265.8 82.8h1M264.9 79.7h1M267.4 76.6h1M265.8 80.2h1M264.9 80h1M261.3 77.1h1M266.1 83h1M270 78.6h1M267.4 81.1h1M261.9 81.1h1M266.2 79.5h1M265.9 85.4h1M263.3 82.2h1M261.3 79.7h1M261.4 84.8h1M259.6 85h1M262.6 79.9h1M262.6 79.3h1M267.2 81.5h1M259.6 79.3h1M265.5 85.4h1M264.6 77.9h1M266.3 82.6h1M263.5 86.2h1M263.4 82.7h1M263.3 82.2h1M265.1 78.3h1M264.5 84.3h1M266.4 81.8h1M264.5 78.6h1M268.2 84.4h1M260.2 83.4h1M269.1 83.6h1M266.9 80.1h1M264.6 82.6h1M269.7 84.9h1M266.3 79.5h1M266.7 81.5h1M262.8 85h1M264.5 82.4h1M259.5 81.5h1M265.4 81.1h1M263.5 83.9h1M264.7 85.6h1M268.8 83.1h1M264 80.1h1M266.6 80.7h1M262.9 84.4h1M265.1 82.7h1M258.6 83.7h1M260.9 82h1M265.4 85.6h1M263.4 80.3h1M263.7 81.9h1M266.9 75h1M258.2 83.5h1M261 81.1h1M264.5 80.1h1M265.3 82.4h1M268.3 77.2h1M262.9 81h1M267.2 85h1M267.2 78.2h1M265.5 78.6h1M265.7 77.8h1M268 79h1M260.4 85h1M265.1 80.2h1M263.2 83h1M268.5 80.2h1M264.3 81.8h1M263.5 78.7h1M262.5 81.4h1M261 85.8h1M265.4 80.9h1M258.4 78.7h1M264.6 85.1h1M259.4 82.4h1M259.1 79.6h1M261.7 79.9h1M264.3 78.1h1M264.7 83.8h1M267.4 83.3h1M260 81.9h1M261.1 78.4h1M265.2 81.2h1M267.6 81.8h1M266.3 81.3h1M261.3 80.9h1M262.5 79.8h1M267.1 81.4h1M262.2 81.1h1M265.2 75.9h1M267.5 81.3h1M263.9 78.2h1M265.4 85h1M265.2 83h1M264.1 81.4h1M264 83.7h1M264 78.5h1M266 82.7h1M268.5 83.2h1M263.3 79.7h1M264.2 79.7h1M261.3 79.7h1M266.9 80.5h1M264.3 79.6h1M274.5 80.7h1M263.7 82.4h1M257.3 79h1M262 82.7h1M260.6 80.6h1M263.8 84h1M266.2 79.9h1M259.2 79.2h1M267.8 80.4h1M263.5 78.4h1M265.5 80.6h1M264.6 81.3h1M266.7 82.4h1M266.3 78.1h1M264.4 78.6h1M266.4 81h1M264.6 78.4h1M262.4 80.4h1M259.8 81.9h1M262.3 81h1M269.6 82h1M264.6 83.1h1M267.2 80.2h1M263.1 78.2h1M266.4 84.5h1M264.1 81h1M263.4 81.5h1M263.7 79.9h1M263.8 79.6h1M258.6 81.7h1M262.2 85.7h1M267.6 79.4h1M264.4 76.7h1M261.5 84.1h1M262.9 81.2h1M264.9 80.6h1M264.9 77.9h1M259.9 79.8h1M261.3 78.7h1M270.3 84h1M262.7 81.5h1M265.8 83h1M259.2 79.8h1M261.1 77.6h1M264.7 82.9h1M266.2 75.8h1M264.9 73.7h1M271.6 74.6h1M259.8 79.9h1M259.5 79.7h1M265.4 81.1h1M268.2 77.6h1M263.2 78.7h1M268.9 79.7h1M266.9 85.7h1M262.7 88.6h1M260.1 77.1h1M263.7 75.4h1M259.6 73.1h1M265.4 76.9h1M264.4 84.9h1M266.5 81.8h1M264.2 85.6h1M264.8 82.9h1M262.3 85.7h1M255.6 87.4h1M268.2 82.9h1M265.5 83.6h1M261.1 78.8h1M262.6 77.7h1M267.1 78.7h1M261.6 78.2h1M265.4 78.5h1M258.9 83.3h1M268.7 81h1M240.4 85h1M240.5 85.3h1M240.2 82.2h1M241 81h1M240 83h1M241.2 81.1h1M261.1 78.2h1M259.8 80.5h1M253.9 82.3h1M246.5 80.6h1M246.1 82.2h1M248.1 82.1h1M253.9 80.1h1M255.1 82.7h1M242.1 83h1M243.9 80.2h1M257.7 76.6h1M255.4 77.1h1M251.4 79h1M247.8 76.5h1M249.1 80.1h1M260.7 79.5h1M239.6 83.3h1M267 60.8h1M267.3 53.5h1M268.2 48.2h1M268 56.6h1M266.4 67.3h1M255.8 83.9h1M239.4 72.8h1" stroke="#000" stroke-width="1" stroke-opacity=".3"/>
<path d="M265.8 76.9h1M265.1 85.9h1M264.1 81.3h1M266.9 80.9h1M266.2 83.8h1M261.9 80.4h1M261.3 82.2h1M261.7 81.4h1M267.4 81.6h1M262.2 79h1M261.8 75.4h1M261.4 81.4h1M267.2 78.8h1M262.5 83.9h1M261.9 79.4h1M261.2 77.8h1M266.2 80.8h1M257.6 81.5h1M263.1 78.3h1M269.8 81.3h1M262.5 84.7h1M262.8 77.9h1M266.2 82.7h1M261.6 82.7h1M263.6 83.2h1M260.8 82.3h1M260.2 84.4h1M261.2 82.2h1M264.8 81.3h1M264.1 80.3h1M267.3 82.5h1M262.3 82.1h1M265.8 80.2h1M265.2 79.5h1M262.3 81.9h1M262.5 80.7h1M267.5 78.2h1M266.9 81.1h1M259.7 80h1M259.9 82.7h1M263.7 78.2h1M266.3 80.6h1M258.8 83.5h1M265.1 82.9h1M261.7 81.6h1M265.5 79.4h1M265.4 82.2h1M266.5 80.4h1M264.9 77.4h1M270.5 82.8h1M262.9 79h1M259.9 78.8h1M267.5 79.2h1M266.7 78h1M264 83.1h1M263.6 82.4h1M265.2 84.2h1M263.4 77.4h1M262.9 80.7h1M268.7 81.7h1M263.8 82h1M267.8 77.7h1M262.6 79h1M264.5 83.5h1M263.1 80.6h1M266.9 79.6h1M265.5 82.5h1M264.2 87.9h1M264.7 82.7h1M261.8 80.6h1M265.8 81.7h1M266.3 81.1h1M261.6 78.5h1M264.2 82.7h1M259.9 80h1M262.7 85.8h1M263 82h1M264.5 78.3h1M262.8 77.2h1M259.2 82.4h1M261.7 80.5h1M260.9 80.3h1M265 81h1M261.6 82.9h1M263 78.9h1M261.9 84.5h1M263.1 81.6h1M264.7 80.5h1M264.1 82.1h1M262 81.7h1M263.6 85.2h1M263.1 83.1h1M257 87.6h1M269.6 79.7h1M263.5 80.4h1M270.5 80.3h1M265.9 85.8h1M265.4 81.3h1M263.8 81.6h1M266.7 81.1h1M258.2 82.9h1M261.9 79.7h1M264.3 85h1M263.1 83.9h1M262.9 80.1h1M261.7 85.8h1M256.3 84.1h1M263.5 86.7h1M267.6 83.8h1M265.1 80.3h1M265.3 81.1h1M263.2 78.5h1M261.2 83h1M266 78.3h1M263.2 81.3h1M269.1 80.8h1M264.3 81.5h1M266.2 81.3h1M261.1 78.9h1M265.4 83.3h1M263.3 82h1M262.5 81h1M265.4 81.5h1M261.1 82.7h1M261.5 80.2h1M264.9 79.5h1M263.1 81.4h1M263.7 83.5h1M267.1 80.7h1M268.4 82.9h1M265.6 81.2h1M265.4 78.8h1M266.1 83.5h1M269.6 82.8h1M262.3 85.5h1M256.9 81.1h1M263.2 80.6h1M266.8 80.9h1M265.2 82.1h1M268 81.2h1M263.7 86.1h1M265.7 82.4h1M259.2 79.4h1M267.5 81.7h1M264.5 78.5h1M263.1 79.3h1M268.1 82h1M266.8 81.3h1M262.3 79h1M269.2 79.1h1M267.5 82.5h1M262 78.4h1M267.7 81h1M266 83.6h1M264.3 80.6h1M261.2 80.1h1M267.2 85.3h1M264.1 83.8h1M261 80.7h1M263.5 82h1M268 80.3h1M263.6 80.5h1M266.8 84.7h1M265.3 83.3h1M262.4 83.1h1M266.2 83.6h1M256.4 83.7h1M263.3 79.8h1M262.5 77.9h1M261.2 78h1M257.6 82.9h1M260.3 83.3h1M264.1 80.1h1M270.5 85.8h1M268.4 82.8h1M262 76.7h1M261.2 83.2h1M262.7 80.5h1M264.4 80h1M257.9 77h1M275 79.1h1M264.4 80.1h1M258 83.4h1M263.9 76.3h1M265.4 79h1M262.3 77.5h1M268.9 86.6h1M267.9 83.6h1M261 74.5h1M259.6 83.7h1M275.1 82.9h1M259 85.7h1M264.1 83.1h1M261.9 77.3h1M258.1 81.4h1M269.2 76.8h1M269.2 78.1h1M265.8 75.6h1M260.2 80.7h1M266.7 80.3h1M239.6 82.7h1M240.2 80.6h1M239.6 83.7h1M240.5 78.8h1M239.8 83.5h1M251.5 81.3h1M247.6 81h1M256.4 77.6h1M246.2 78.6h1M257.4 77.5h1M248.5 80.4h1M256.9 76.2h1M257 74.1h1M256 75.7h1M243.2 78.6h1M249.8 83.7h1M255.3 79.5h1M245.8 80h1M242.2 78h1M240.3 80.7h1M249.6 80.3h1M239.5 79.4h1M246.6 80.1h1M267.3 60.2h1M267.1 58.6h1M266.4 56.3h1M268.9 54.4h1M264 57.5h1M276.3 79.2h1M235.8 78.6h1" stroke="#000" stroke-width="1" stroke-opacity=".3"/>
</g>
<rect x="256.3" y="48.3" width="27.5" height="23.5" fill="none" stroke="#707070" stroke-width="1"/>
<text x="270.75" y="47.3" font-size="6.9" text-anchor="middle">1.56</text>
<rect x="66.8" y="104.5" width="71.6" height="71.5" fill="none" stroke="#909090" stroke-width="1.1"/>
<g filter="url(#bl)">
<ellipse cx="111.6" cy="156.3" rx="3.6" ry="1.6" transform="rotate(-26 111.6 156.3)" fill="#000" filter="url(#bl2)"/>
<path d="M110.9 156.7h1M111.7 155.7h1M109.5 157.1h1M113.3 155.7h1M112.9 156.5h1M112.2 157.1h1M109.7 157.2h1M116.8 155.9h1M110.5 155.3h1M109.1 158h1M110.3 155.7h1M115.1 155.5h1M111 156.6h1M107.6 155.2h1M114.6 155.6h1M106.1 159h1M109 158.7h1M111.4 158.2h1M112.1 155.3h1M113.4 155.9h1M109.2 157.8h1M118.3 152.5h1M111.1 156h1M109.7 159.5h1M112.5 154.8h1M114.6 155.1h1M110 157.1h1M109.6 159.3h1M114.7 155.3h1M113.8 153h1M112.5 155.5h1M104.1 155.9h1M109.5 154.6h1M109.4 156.4h1M111.3 156.6h1M110.8 156.9h1M115.4 152.9h1M112.5 156.1h1M114.9 155.4h1M113.6 156.1h1M110.8 158h1M111.1 158.4h1M114.9 153.1h1M110.8 158.2h1M114.9 154h1M105.4 161.2h1M107.5 157.6h1M113.7 155.8h1M109.1 157.3h1M118.2 155h1M108.4 158.4h1M109.6 155.8h1M111.4 154.6h1M110.8 156.4h1M110.4 155.4h1M111.9 153.7h1M111.2 158.1h1M113.2 155.9h1M117.3 153.5h1M118.4 150.5h1M110.3 157.5h1M113.1 157.5h1M108 158.1h1M111 155.7h1M114.5 156.6h1M108.8 159.3h1M109.6 155.8h1M109.5 155.5h1M116.6 153.6h1M112.7 156.9h1M114.9 157.2h1M110.9 155.5h1M110 155.5h1M108.2 158.7h1M109.7 158.5h1M110.3 157.6h1M113 156h1M108 155h1M108.6 154.6h1M106 159.6h1M111.4 157.8h1M109.6 158.5h1M113.7 155.9h1M111.6 158.1h1M112.6 154.9h1M114.7 154h1M109 161.4h1M117 154.8h1M113.1 154.8h1M110.4 158.3h1M116.3 154.7h1M112.1 154.5h1M113.9 156.5h1M115.5 154.2h1M110.6 156h1M110.1 154.8h1M108.9 157.5h1M110.5 153.8h1M111.1 159.2h1M114.2 155.4h1M110.8 157.5h1M110.9 158.1h1M107 157.4h1M114.9 156.5h1M108 153.6h1M114.4 156.2h1M109.1 157.3h1M109.3 158.8h1M113 157.9h1M114 155.7h1M110.3 159.1h1M115.1 152.7h1M106.1 156.5h1M106.6 159.6h1M102.7 157.5h1M116.1 152.9h1M110.4 159.6h1M109.9 158.4h1M112.2 156.5h1M115 154.3h1M109.5 157.2h1M102.5 158.4h1M106 157.4h1M113.1 159h1M111.1 155.9h1M107.2 153h1M113.8 154.7h1M116.7 157.6h1M112.4 157h1M96 158.2h1M80.2 159.5h1M98.7 158.8h1M90.8 159h1M99.3 158.8h1M86.6 157.4h1M96.5 157h1M106 157.1h1M96.8 159h1M98.5 159.4h1M103.9 156.3h1M89.4 157.7h1M87.6 159.4h1M90.1 158h1M96.5 158.7h1M101 159h1M97.1 158.6h1M83.3 157.8h1M103 157.6h1M98.4 158.7h1M85.3 158.1h1M90.5 157.5h1M95.2 157.6h1M84.8 158.2h1M87.1 159.1h1M95.9 157.7h1M100.3 158.3h1M102.6 158.6h1M114.7 135.7h1M114.4 135.5h1M78.2 149.6h1M103.4 149.4h1" stroke="#000" stroke-width="1" stroke-opacity=".3"/>
<path d="M109.7 158.5h1M111.4 156.7h1M111.7 156h1M110.2 159.5h1M110.2 155.1h1M113.3 157.4h1M110.6 155.3h1M117.4 155h1M114.2 156.5h1M111.1 153.6h1M110.5 154.1h1M109.5 155.1h1M118.3 154.1h1M115.6 156.3h1M106.9 157.5h1M111.3 157.6h1M118.5 155.4h1M109.4 155.7h1M111 156.5h1M113.1 155.2h1M107.6 155.5h1M108.1 158.9h1M110.7 156.5h1M113.7 155.1h1M107.3 159.4h1M111.2 156.5h1M112.7 153.7h1M108.8 159h1M112 155.9h1M110.5 155.8h1M111 155.2h1M111.2 156.6h1M109.8 158.3h1M110.6 153.9h1M109.5 158.7h1M112.6 154.4h1M110.8 156.5h1M111.5 158.1h1M110.7 156h1M114.7 152.8h1M106.9 155.1h1M111.1 155.8h1M111.4 155h1M115.4 155.3h1M108.6 157.7h1M112.5 155h1M116.3 154.5h1M113.9 157.1h1M112.1 156.4h1M115 155.8h1M112.3 154.9h1M113.6 156.3h1M111.1 159.2h1M108.6 155.4h1M112.9 157.1h1M106.9 156.5h1M104.7 159.3h1M110.2 156.4h1M110.2 156.6h1M105.7 155.6h1M109.8 157.3h1M107.4 157.6h1M111 156.6h1M110.9 157.1h1M116 156.6h1M111.3 154.3h1M105.9 158.4h1M109.7 153.7h1M111.2 155.1h1M114.8 155.4h1M114.2 156.6h1M110.2 158.5h1M108.9 154.7h1M111.6 156.4h1M112 157.6h1M111.8 155.9h1M113.4 154.2h1M106.7 159h1M110.4 157.1h1M111.8 154.6h1M109.1 157.7h1M112.1 155.7h1M111.9 154.8h1M109.8 158.6h1M110.2 156.2h1M112.2 154.4h1M111 154.5h1M112.4 154.3h1M111.6 156.5h1M109.3 156.9h1M111.3 158.8h1M109.8 158.5h1M109.2 155.8h1M112.2 155.4h1M112.9 155h1M111.9 156.5h1M115.5 155.4h1M114.1 155.1h1M112.5 158.2h1M110.3 155.1h1M105.3 158.4h1M113.5 155.3h1M110.2 157.5h1M116.8 154.7h1M110.5 155.1h1M112.9 155.3h1M110.6 158.5h1M114.1 156.8h1M108.9 156.6h1M111.5 157.8h1M110.3 157.1h1M113 151.8h1M115.5 158.1h1M108 158.5h1M119.9 155.1h1M112 155.7h1M114.4 158.8h1M107.3 153h1M108 157.9h1M112 154h1M105.4 159.2h1M113.1 161.1h1M106.8 158.9h1M108.1 155.5h1M111.3 158.6h1M104.6 162.4h1M107.6 157.8h1M120.4 152.6h1M110.1 158.1h1M104.3 158h1M82.7 158.4h1M83.7 158.4h1M84.1 158.8h1M83.4 158.6h1M84.1 160.1h1M91.5 159.4h1M89.8 159.2h1M96.9 158.4h1M92.2 158.5h1M102.8 158h1M103.7 159h1M85.9 159h1M89.2 157.6h1M94.4 158.7h1M84 157.9h1M95.4 159.1h1M92.8 158.8h1M98 158.8h1M87.8 159.2h1M98.2 157.4h1M91.9 158.3h1M91.1 159h1M99.3 159.6h1M87.4 158h1M102.7 156h1M90.3 158.3h1M84.9 158.8h1M114.7 135h1M114.7 131.8h1M116.1 149.3h1M99.3 160h1" stroke="#000" stroke-width="1" stroke-opacity=".3"/>
<path d="M108.2 161.8h1M108.2 157.9h1M112.9 157.3h1M115 156.1h1M113.1 156.5h1M108.1 156.9h1M112.7 154h1M114.6 154.1h1M111.4 157.5h1M110.7 158.9h1M115.9 156.8h1M107.5 159.8h1M111.9 155.9h1M109.7 160.1h1M109.8 158.8h1M108.6 159h1M108.3 157h1M110.5 154.8h1M112 154.7h1M110.9 158.4h1M111.8 156.4h1M114.3 156.6h1M109.9 154.6h1M114.6 159.7h1M115.6 154.1h1M113.5 155.4h1M107.8 158.3h1M107.8 160.1h1M113.5 154.3h1M107.9 158h1M107.9 156.9h1M113.5 154.4h1M109.9 158.1h1M109.2 158.5h1M113.2 157.3h1M107.2 157.3h1M108.8 156.5h1M112.6 155.5h1M115.3 155.3h1M110.5 154.8h1M110 158.3h1M109.5 157.3h1M109.5 157.5h1M106.2 158.5h1M114.6 155.8h1M107.5 157.7h1M109.8 157.4h1M111.4 156.7h1M113.3 156.8h1M110.7 155.1h1M111.3 156.8h1M110.7 160.1h1M104.8 161.1h1M111.8 156.8h1M106.3 156.9h1M116.8 156.4h1M110.3 159.7h1M109.2 156.3h1M111.8 156h1M111.6 154.8h1M110 157.1h1M113 157.2h1M116 156.1h1M110.4 158.4h1M112.1 156.2h1M113 157.1h1M114.7 156.1h1M112.2 158.3h1M107.9 158.5h1M108.8 156.6h1M108.8 159h1M111.7 155.7h1M111.7 156.4h1M110.9 159.5h1M110.5 155.1h1M112.1 155.8h1M110.7 155.3h1M114.7 156.2h1M111.6 155.3h1M111.4 156.4h1M113.8 157.2h1M107.4 157.3h1M108.7 158.9h1M109.6 158.1h1M109 157.2h1M109.9 156.6h1M112.8 153.9h1M106.6 159.1h1M112.3 154.7h1M108.2 156.2h1M112.2 153.7h1M109.5 157.4h1M111 156.8h1M110.2 155.6h1M112.2 155.5h1M110.1 156.7h1M108.6 155.9h1M113.5 156.9h1M111.3 157.9h1M118.7 152.1h1M110.2 156.4h1M107.2 157.8h1M110 158h1M104 159.5h1M110.4 155.2h1M111.1 155.5h1M110.8 155.8h1M109.7 156.3h1M106.6 154.4h1M107.6 157.5h1M112.4 154.7h1M110.3 157.4h1M114 159.1h1M114.6 158.6h1M106.7 154h1M103.2 160.5h1M112.8 154.5h1M107.1 159.8h1M104.2 157.6h1M107.8 157.9h1M110.1 155.3h1M112.4 156.6h1M112.3 155h1M114.8 157.4h1M111.5 154.9h1M112.6 155.2h1M109.7 161.1h1M109.3 161.8h1M95.4 158.9h1M105.5 158.1h1M101.4 159.4h1M88.4 159.2h1M91.4 158.3h1M88.4 158.4h1M95.7 158.6h1M94.4 158h1M91.4 158.7h1M95.8 157.8h1M103.2 157.8h1M88.4 158.1h1M87.9 160.1h1M88.1 157.2h1M104.5 157.6h1M100 157.3h1M90.7 159.9h1M102.5 156.1h1M103.2 159.8h1M101.1 158.6h1M88.6 159.7h1M91.9 158.7h1M93.1 158.9h1M101.6 157.7h1M85.3 159.3h1M96.1 157.2h1M90.3 158.4h1M86.6 159h1M95.3 157.8h1M114.4 136.3h1M114.5 129.4h1M94.7 158.7h1" stroke="#000" stroke-width="1" stroke-opacity=".3"/>
<path d="M109.2 159.7h1M117 153h1M112.7 155.8h1M115.9 151.9h1M117.4 155h1M111.1 154.8h1M114.5 154.5h1M114.5 154.4h1M113.4 154.1h1M111.3 156.6h1M109.4 157.8h1M112.7 155.9h1M108.9 156.1h1M111.7 152.7h1M110.4 155.4h1M116.7 157.3h1M113.3 155.8h1M115.1 155.8h1M108.3 158.3h1M107.5 160.6h1M113.3 156.4h1M114.7 153h1M111.1 156.6h1M108.8 158.2h1M108.8 155h1M111.6 156.2h1M111.7 154.7h1M115.3 153.8h1M115.6 154.5h1M109.6 158.5h1M110.6 155.6h1M107.3 156.1h1M107.2 159.7h1M112 157.2h1M110.6 157.8h1M105.2 158.3h1M106.1 157.6h1M111.1 157.9h1M117.4 155h1M108.1 157h1M109.9 157.7h1M108.1 156.2h1M105 160.1h1M109.5 154.9h1M111.1 155.8h1M106.7 159.3h1M112.8 154.3h1M112.6 156.6h1M113.2 157h1M112.2 155.5h1M111.9 156.9h1M105.4 160.9h1M104.6 158.2h1M114.6 155.7h1M112.8 155h1M110.4 156.3h1M109.9 155.2h1M108 159.7h1M114.7 156.3h1M113 152.7h1M110.6 155.8h1M112.5 154.2h1M109.1 157.7h1M110.6 155.1h1M114 155.2h1M112.5 155.5h1M110.1 159.2h1M111.6 155.3h1M111.6 154.9h1M111.6 154.6h1M114 153.3h1M113.9 154h1M112.8 155.5h1M110.8 155.6h1M113.8 155.8h1M107.7 157.4h1M110 159h1M109.9 159h1M110 155.4h1M108.8 158.6h1M110.3 156.5h1M111.6 157.7h1M115.2 155.2h1M114.6 154h1M113.2 154.9h1M112.5 154.2h1M107 160.7h1M114 155.4h1M110.6 156.9h1M112.4 155.9h1M114.9 155.1h1M107.9 155.6h1M110.4 156h1M109.1 155.3h1M114.3 156.5h1M109.8 155.4h1M108.1 157.7h1M108.5 157.8h1M109.3 157.6h1M110 156h1M109.6 157.7h1M109.9 158.8h1M116 154.6h1M112.6 154.8h1M108.4 157h1M110.3 155.8h1M113.2 156.1h1M110.2 156.3h1M108.4 155.9h1M111.4 159.8h1M108.3 161.9h1M114.9 157.7h1M109.8 154.6h1M107.8 157.9h1M106.2 158.9h1M109.1 158.5h1M114.4 157.6h1M111.5 158.7h1M102.8 155.7h1M103.3 159h1M117 155.4h1M104.2 156.6h1M107.4 155h1M107.7 159.7h1M111.8 156.1h1M110.2 152.2h1M110.4 161.1h1M106.3 158.5h1M103 158.3h1M93.2 159.2h1M106.4 158h1M93.4 158.3h1M98.5 158.7h1M90.2 158.9h1M83.7 159.5h1M95.4 157.5h1M93 158.2h1M92.7 158.9h1M87.8 159h1M89.4 159.1h1M107.9 158.1h1M99.7 158.2h1M94.8 157.1h1M101.3 157h1M96.8 159.7h1M97.3 158.3h1M99.4 157.2h1M86.3 158.6h1M98.1 158.5h1M97.1 157.9h1M94.2 157.4h1M94.9 158.5h1M91.3 159.1h1M88.4 158h1M102.4 158.9h1M100.1 159.2h1M93.6 159.4h1M114.7 126.3h1M114.2 130.6h1M79.5 162.9h1" stroke="#000" stroke-width="1" stroke-opacity=".3"/>
<path d="M112.1 153.7h1M108.9 158.5h1M111.6 158.8h1M111.3 156h1M110.7 155.1h1M110.3 158.8h1M104.3 157.4h1M110.4 154.9h1M110.2 154.3h1M108.5 155.4h1M109.2 158.6h1M114.7 155.1h1M105.9 158.2h1M110.8 155.3h1M107.7 155.3h1M106.7 158.4h1M109.8 158.9h1M106.7 158.8h1M110.1 157.7h1M112.6 155.8h1M113.6 156.6h1M112.5 156.6h1M108.3 152.7h1M110.3 159h1M116.5 152.4h1M108.9 159.5h1M108.2 158.1h1M109.7 158.1h1M109.4 154.9h1M104.2 160.7h1M109.6 156h1M113 154.8h1M119.5 154.4h1M112.9 154.1h1M110.5 155.5h1M118.5 153.5h1M115.5 156.6h1M109.2 156.4h1M110.3 156.1h1M108.9 156.1h1M109 159.5h1M111.9 157.2h1M113.8 156.1h1M111.4 157.5h1M115.1 156h1M108.9 155h1M110.1 154.7h1M108.1 157.5h1M114.2 157.1h1M109 154.4h1M113.1 155.1h1M111.3 156.9h1M113.4 154.9h1M116 156.1h1M115.3 155h1M113.8 157.1h1M116.2 153.3h1M112.9 153.7h1M113.6 157.7h1M110.6 156.2h1M112.3 155.7h1M111.8 157.5h1M110.4 157h1M115.3 150.5h1M107.5 157.5h1M109.6 158.8h1M110 155.6h1M112.9 155h1M112.5 155.3h1M110.5 156.3h1M117.8 152.7h1M108.6 156.9h1M111.8 154.9h1M109.2 158.2h1M109.2 156.9h1M108.4 158.8h1M105.2 157.9h1M111 157.5h1M110.6 156.9h1M116.8 155h1M112.4 155.8h1M106.2 159.7h1M110.4 156.2h1M113.7 155.4h1M114.4 154.5h1M109.4 156.3h1M114.2 154h1M111.9 158.1h1M111.3 156.5h1M111.1 157.2h1M112.9 154.1h1M110.9 156.5h1M108.1 156.8h1M106.3 160.6h1M111.9 157.7h1M115.4 153.5h1M113.3 154.9h1M111.3 155.4h1M113 152.7h1M110.5 157.1h1M111.8 154.9h1M107.1 159.6h1M108 157.7h1M110 158.3h1M118 151.8h1M106.8 157.1h1M108.9 156.4h1M114.5 154.7h1M119.1 153.4h1M116 155.5h1M106.8 159.6h1M105.9 157.3h1M107.3 157.9h1M111.5 155.5h1M113 156.9h1M115.4 155.7h1M109.7 157.8h1M106.5 156.9h1M103.6 156.3h1M111.5 152.2h1M114 159.5h1M101.4 156.3h1M109.1 161.5h1M109.9 156.8h1M111.1 156.1h1M111.5 158.4h1M111.2 153.9h1M116.2 153h1M81.9 158.5h1M86.2 159.3h1M89 157.4h1M94 159h1M92.8 157.2h1M101.8 158.2h1M81.2 158.6h1M93 157.4h1M97.6 157.8h1M97.6 157.5h1M83.9 158.2h1M97.6 159.3h1M92.3 156.8h1M97.1 158.7h1M85.9 158.6h1M101.7 158.2h1M87 157.6h1M97.2 156.6h1M87.3 157.6h1M100.3 157.7h1M88.2 159.2h1M106.4 157.7h1M93.4 157.6h1M96 157.7h1M101.1 159.7h1M101.1 159.8h1M94.1 158.9h1M83.7 158.9h1M115 134.7h1M115 131.5h1M114.4 128.6h1M86.7 163.4h1" stroke="#000" stroke-width="1" stroke-opacity=".3"/>
<path d="M108 158h1M115.4 156.1h1M109 160.3h1M109.3 157.4h1M118.2 152.4h1M112 156h1M111.6 155.1h1M111.6 156.9h1M108.7 158.2h1M108.4 161.8h1M108.9 157.3h1M109.2 157.2h1M106.1 156.1h1M106.3 158.3h1M109.4 158.6h1M110.7 156.9h1M113.2 157.1h1M113.4 155h1M109.1 155.5h1M111.8 157.1h1M109 159.2h1M114.2 153.9h1M109 156.6h1M114.2 155h1M108.4 157.5h1M108.6 155.8h1M110 154.7h1M108.1 158.7h1M110.1 157.3h1M104.9 156.5h1M111.2 154.9h1M113.9 155.2h1M111.4 154.6h1M107.7 158.7h1M110.1 154.6h1M108.8 156.6h1M110.8 157.7h1M110.2 156.2h1M110.5 157.1h1M107.6 159.7h1M112.9 157.2h1M110.8 157.9h1M113.9 157.9h1M110.4 156.6h1M106.6 159h1M111.8 157.9h1M106 156.6h1M110.8 156.7h1M112.6 155h1M114.8 153.2h1M107.9 161.1h1M111.9 155.8h1M108.8 155.4h1M104.3 161.9h1M109 155.6h1M110.1 160.1h1M110.5 155h1M108.2 158.4h1M110.3 156.1h1M108.8 159.2h1M108 156.4h1M111.7 155.9h1M116.2 155.6h1M110.4 156.7h1M113.3 156.4h1M111.8 156.2h1M114.6 157h1M114.5 154.5h1M109.6 157.1h1M111 156.8h1M105.6 161.5h1M109.5 158.2h1M111.3 156.7h1M110.2 155.8h1M109 158.7h1M112.7 155h1M112.9 156.8h1M111.5 158.6h1M112.7 158.2h1M113.9 156.8h1M112 157.3h1M111.1 154.9h1M107 159.7h1M108.7 157.9h1M109.9 158.6h1M110.8 154.9h1M108.5 158.4h1M109.5 158.8h1M111.8 156h1M111.1 157.5h1M108.6 156.8h1M107.8 159.4h1M110.7 156h1M108.6 158.3h1M113.4 157.7h1M107.5 155.9h1M116.5 156.8h1M113 155.5h1M112.5 155.5h1M108.2 159.3h1M106.3 159.7h1M106.8 157.7h1M110.7 156.2h1M111 155h1M107.7 157.3h1M116.5 154.7h1M110.7 154.4h1M114.4 154.1h1M101.4 161h1M104.7 160h1M113.3 157.6h1M108.9 155.7h1M114.9 157.9h1M110.6 157.8h1M112.1 155h1M107 157.2h1M108 154.8h1M105.3 156.5h1M117.3 157.6h1M99.5 159.1h1M107.7 157h1M110.6 157.3h1M110.3 158.5h1M118 155.7h1M99.9 156.2h1M110.1 154.1h1M110 156.9h1M108.1 155.8h1M96.7 158.5h1M96.1 158.3h1M97.8 157.5h1M100.1 158.1h1M84 158.4h1M84.1 158.6h1M81.8 159.3h1M105.5 159.3h1M89.3 158.7h1M83.7 159.7h1M89.9 158.7h1M104 159.3h1M94.2 157.7h1M85.1 159.2h1M82.3 159.8h1M102.6 158.7h1M97.8 156.5h1M99.2 158.8h1M104.1 158.1h1M91.4 159h1M98.4 159h1M94.4 157.7h1M105.6 158.3h1M104.6 157.8h1M90.2 158.6h1M98.5 158.5h1M101.1 159h1M97.4 158.6h1M115.6 132h1M114.1 131.1h1M114.3 135h1M96.2 157.4h1" stroke="#000" stroke-width="1" stroke-opacity=".3"/>
</g>
<rect x="99.2" y="122.9" width="27.5" height="23.1" fill="none" stroke="#707070" stroke-width="1"/>
<text x="112.65" y="122.1" font-size="6.9" text-anchor="middle">1.52</text>
<rect x="145.5" y="104.5" width="72" height="71.5" fill="none" stroke="#909090" stroke-width="1.1"/>
<g filter="url(#bl)">
<ellipse cx="190" cy="156" rx="4.2" ry="1.5" transform="rotate(-10 190 156)" fill="#000" filter="url(#bl2)"/>
<path d="M190.5 153.9h1M193.9 154.9h1M190 157.2h1M195 153.9h1M193.9 157.4h1M179.9 158.3h1M193.4 154.3h1M189.5 154.5h1M189.6 157.5h1M191.5 152.6h1M195.8 156.2h1M183.1 157.3h1M190.9 155.5h1M187.4 156.7h1M183.8 154.8h1M192.1 157.4h1M193.2 154.5h1M183.7 158.1h1M194.3 157.5h1M192.6 154h1M189 157.6h1M187 154.2h1M192.2 157.8h1M192.3 155.4h1M193.1 154.3h1M188.8 158.6h1M192.3 155.5h1M192.1 158.9h1M189.6 156h1M185.9 158.6h1M190.9 156.6h1M189.5 158.5h1M186.2 154.4h1M188.6 158h1M190.3 156.1h1M188.7 157h1M192.2 156.6h1M185.9 157h1M193.7 155.2h1M186 157h1M194.2 156.9h1M195.7 156h1M188.8 156.9h1M186.8 156.4h1M188.5 154.5h1M184.7 158.4h1M191.5 154.7h1M192.5 155.4h1M188.6 157.7h1M191.8 154.6h1M185.3 156.4h1M187.6 156.6h1M194.3 154.8h1M193.6 155.4h1M190.2 158h1M192.8 154.4h1M187.7 155.9h1M189.2 156.8h1M192.9 155h1M195.4 152.9h1M191.4 153.2h1M190.8 153.7h1M183.1 156.5h1M188.8 156.8h1M190 157.2h1M187.9 156.1h1M188.4 157.4h1M186.3 155.2h1M191.9 155.5h1M186.1 158.8h1M189 156.6h1M194.4 156.4h1M191.7 157.6h1M187.6 156.3h1M188.4 157.1h1M190.2 156.8h1M183.7 155.5h1M186.4 156.1h1M190.8 160.6h1M187.3 156.9h1M189.2 156.7h1M193.3 154.3h1M183.6 156.6h1M191 155.1h1M184.5 154h1M191.6 155.1h1M189.1 156.1h1M189.5 157h1M188.7 157.2h1M191.9 155.2h1M188.4 155.7h1M187.1 156.1h1M187.3 156.3h1M187 155.8h1M186.4 157.7h1M189.3 158.3h1M195 153.3h1M182.6 156.6h1M191.3 157.5h1M183.8 158h1M195.8 156.6h1M185.5 156.5h1M196.1 153.8h1M194.8 154.4h1M188.2 156h1M194.9 156h1M190.1 157.1h1M193.1 155.2h1M193.1 156.7h1M178.5 156.2h1M169.4 157.1h1M176.4 156.3h1M177.2 159.4h1M184 156.5h1M185.5 157.5h1M186.1 158h1M185.3 157h1M170.7 158.5h1M174.1 158.1h1M178.7 157h1M174.8 158.2h1M181.3 158.5h1M184.7 157.4h1M179.9 156.6h1M180.9 157h1M184.7 156.5h1M172.9 157.3h1M171.7 158.9h1M181.4 157h1M175.9 156.8h1M171.4 157.3h1M178.4 156h1M171 157.9h1M185.3 157.9h1M174.5 157.5h1M183 157h1M183 157.2h1M167.1 158.2h1M181.4 156.4h1M177.2 157.1h1M179.1 158.2h1M178.7 158.6h1M178.1 158h1M184.4 157.2h1M185.6 157h1M182.7 157.2h1M178.6 157.7h1M163.6 158.7h1M181.7 159.5h1M181.4 157.3h1M175.5 157.3h1M169.4 157h1M170.6 158.5h1M189 155.6h1M182.5 157.1h1M185 156.7h1M180.9 157.5h1M181.4 156.3h1M179 158.3h1M166.8 159.8h1M167.9 159.1h1M171.4 155.9h1M184.7 156.7h1M188.2 156.5h1M181.9 155.8h1M183.1 155.5h1M173.4 156.4h1M179.4 156.4h1M171.8 156.6h1M169.5 160h1M172.9 158.9h1M186.2 155.5h1M168.1 158.2h1M187.2 157.5h1M188.2 158.2h1M176.5 158.3h1M185 159.4h1M180.1 158.3h1M175 157.7h1M195.6 134.5h1M191.7 134.7h1M190.3 134.5h1M189.1 134.5h1M194.9 135h1M195 128.2h1M192.8 133.1h1M192.5 135.5h1M193 135.3h1M192.2 135.8h1M190.3 124.7h1M191.8 131.3h1M191.2 131.2h1M190.9 129.8h1M193.2 133.5h1M194.2 133.5h1M194 133.6h1M194.9 131.1h1M194.3 132.5h1M194.2 130.3h1M190.6 134.6h1M192.8 139h1M193.1 133.3h1M191.9 131.8h1M193.7 128.6h1M193.1 137.3h1M193.3 136h1M195.3 136.8h1M193.6 134.5h1M191.3 132.7h1M191.8 134.5h1M172 160.7h1M163.4 163.9h1M179.5 156.1h1M160 152.9h1" stroke="#000" stroke-width="1" stroke-opacity=".3"/>
<path d="M188.7 155.7h1M188.7 154.5h1M194 154.4h1M191.5 156h1M188.8 155.4h1M189.9 156.1h1M196.1 156.3h1M193.6 155.3h1M192 154.2h1M188.5 155.7h1M187.7 156.9h1M187.9 156.1h1M186.4 154.6h1M184.7 157.2h1M194.7 154.7h1M192.7 156.6h1M184.9 154.8h1M189.4 155.5h1M193 155.8h1M185.7 156.2h1M181.4 156h1M186.5 155.5h1M190.7 157.1h1M189.1 156h1M188.8 156.7h1M188.8 154.4h1M189 157.9h1M188.9 156h1M190 156.6h1M186.1 159.5h1M191.2 158.1h1M190.6 157.4h1M186.2 154.8h1M190.6 155.1h1M191.4 153.4h1M193.7 156.8h1M190.1 155.4h1M191.7 154.3h1M190.4 154.7h1M190.9 154.7h1M190 154.1h1M192.1 155.9h1M193.7 155h1M184.6 156.2h1M187.4 154.8h1M192.9 156.9h1M190.2 154.8h1M187.9 159.1h1M186.9 157.6h1M190.7 156.1h1M187.3 153.8h1M190.6 156.1h1M188.7 156.6h1M190.2 156.9h1M189.8 157.2h1M188.5 157.6h1M184.3 157h1M192.9 158.1h1M182.3 159h1M190.8 159.5h1M188 157.2h1M184.8 157.7h1M190 157.6h1M185.4 156h1M185.9 154.5h1M188.3 156.9h1M189.5 156h1M188.6 158.3h1M188.3 155.6h1M190 156.2h1M181.8 158.5h1M186.5 152.9h1M191.4 157.1h1M185.7 159.9h1M185.5 154.8h1M182.3 155.8h1M193.4 157.4h1M187.7 157.2h1M186.5 156h1M191.2 155.7h1M188.3 157.5h1M191.8 154.1h1M191.7 157.2h1M187.1 156.9h1M190.8 155.2h1M188.6 155.7h1M187.9 156.6h1M189.1 156.6h1M191.9 156.7h1M189 157.7h1M195.4 155h1M190.8 157.6h1M188 157.9h1M188.7 154.5h1M190.5 157.9h1M187 157.2h1M187.6 155.8h1M185.2 155.7h1M185.5 160.7h1M188.2 155.5h1M194.7 155.5h1M191.3 157.4h1M192.1 155.5h1M187.1 158.8h1M182.5 157.9h1M194.7 155.2h1M188.2 154.1h1M188.8 156.4h1M188.4 156.4h1M181.3 158.2h1M180.3 156.3h1M188.2 157.1h1M188 158.4h1M174.7 158.4h1M169.1 158.5h1M177.4 158.4h1M184.7 157.5h1M175.4 156.7h1M178.2 155.7h1M180.2 157.3h1M188.5 154.2h1M176.8 158.5h1M166.2 157.8h1M172.2 157.5h1M185.9 155.8h1M166.7 158.6h1M178.4 157.3h1M173.4 156.5h1M180 158h1M186.7 157.2h1M179.4 158h1M181.9 158.7h1M164.2 158.7h1M171.6 158h1M169.3 157.6h1M170.1 158.3h1M166.9 157h1M168.7 158.2h1M172.2 157.3h1M178.5 157.7h1M177.4 158.1h1M186.4 157.1h1M184.6 157.1h1M181.4 158h1M168.6 157.5h1M184.9 158.2h1M185.9 156.8h1M184.5 156.2h1M186.9 154.8h1M171.3 155.9h1M188.7 157h1M165.8 159h1M169.2 159.1h1M184.7 157.1h1M186.1 156.4h1M181.9 155.7h1M184.3 155.9h1M170.9 159h1M176 157h1M169.9 159.1h1M175.8 159h1M172.3 157.2h1M182.7 156.8h1M186.3 156.8h1M182.6 157.7h1M183.3 158h1M173.7 157.8h1M175 158.1h1M183 156.7h1M187.3 158h1M186.8 157.1h1M169.6 157.7h1M166.3 157.4h1M168.1 158.9h1M167.6 157.8h1M179.9 159.6h1M182.5 156.8h1M170.7 157.7h1M166.1 158.4h1M192.7 136.9h1M193.5 131.4h1M192.2 131.3h1M192.6 133.7h1M193.8 133.9h1M193.6 130.1h1M192.5 133.4h1M192.8 130.6h1M191.3 133.1h1M194.1 132.1h1M195.6 132h1M190.8 134.3h1M194.2 135.6h1M192.1 133.4h1M190.3 139.7h1M191.5 126.3h1M194.3 137.6h1M192.6 135.6h1M192.3 128h1M190.3 131.2h1M190.1 132.7h1M192.4 131.4h1M191.6 127.2h1M193.4 139.4h1M193.8 133.5h1M190.7 135.4h1M192.3 134.1h1M192.9 128.6h1M190.9 132.1h1M194.1 131.6h1M193 134.1h1M180.2 146.1h1M187.1 151.5h1M185.5 155.7h1M190.9 165.2h1" stroke="#000" stroke-width="1" stroke-opacity=".3"/>
<path d="M186.3 157.6h1M183.1 156.3h1M186.7 157.2h1M194.6 154h1M185.1 157.9h1M188.3 155.9h1M188.8 160h1M190.9 155.6h1M188.9 156.3h1M180.1 159.9h1M192.9 156.5h1M188.5 156h1M185.4 157.5h1M189 155.1h1M190 155.4h1M189.2 157.6h1M189.1 154.4h1M190.3 156.9h1M188.9 156.6h1M188.2 154.7h1M190.2 158.6h1M191.2 157.4h1M191.2 155.8h1M193.8 154.7h1M188.7 156h1M188 156h1M195.4 155.7h1M194.6 155.1h1M187.9 156.1h1M187.3 158.2h1M186.7 154.8h1M188.4 155.5h1M191.6 154.3h1M194.2 153.8h1M190.3 155.7h1M190.2 155.9h1M183.5 156.7h1M185.6 156.4h1M187.1 156.5h1M190.9 157.4h1M187.8 156h1M185.5 158.1h1M188.4 156.4h1M189.9 156.8h1M187.3 156.5h1M189.3 157.2h1M189.7 159h1M192.6 153.3h1M192.5 155.9h1M183.6 156.1h1M195.3 156.3h1M187 157.6h1M193.4 157.4h1M187.2 153.7h1M187.8 156.9h1M186.9 157.2h1M184 157.2h1M183.2 157.8h1M194.1 153.1h1M189.3 157.1h1M181.7 157.3h1M188 155.1h1M189.7 158.5h1M187.2 157.1h1M191.1 155.5h1M189 158h1M184.3 154.4h1M192.6 154.9h1M191.9 156.6h1M192.4 156.2h1M197 154.3h1M194.6 155.9h1M190.4 156.5h1M186.3 155.2h1M190.7 156.7h1M185.4 157.3h1M190.9 156.4h1M192.1 155.8h1M185.6 156.5h1M189 156.3h1M193.3 156.6h1M190.9 158.3h1M190.4 156.1h1M184.9 155.9h1M192.9 155.1h1M187.5 155.7h1M191 155.9h1M190.9 157.4h1M185.4 158.5h1M191.3 158.1h1M185.1 158.1h1M182.2 157.3h1M193 155h1M190.5 156.2h1M189.3 156.3h1M193.1 156.8h1M184.1 156.3h1M189 156.9h1M188.3 156h1M189.8 155.9h1M190.2 154.8h1M192.1 156.3h1M188.9 155.9h1M193.7 155.6h1M184.9 156.3h1M190.5 155.2h1M194.3 155.1h1M188 157.8h1M171.9 157.6h1M181.5 156.3h1M162.1 159.1h1M180.2 158.1h1M180.4 157.3h1M167 158.8h1M174.7 157.6h1M174.2 159.4h1M182 158.5h1M181.1 157h1M186.6 155.9h1M182.6 156.8h1M177.5 157.5h1M164.9 156.2h1M178 154.9h1M181.9 157.6h1M173.8 157.8h1M183.7 155.3h1M185.9 155h1M161.4 158.3h1M180.6 156.7h1M176.9 158.3h1M174.8 158.2h1M179.8 157.9h1M184.3 156.5h1M178.8 157.2h1M165.9 157.9h1M174.6 159.4h1M178.2 158.7h1M187.3 158.2h1M169 158.2h1M169.6 158.3h1M184.9 157.3h1M185.2 156.3h1M186.7 157.6h1M182.4 157.2h1M178.2 156.8h1M186.2 157.3h1M168.6 158.8h1M186.8 158.2h1M184.4 156h1M180.9 155.7h1M175.3 157.4h1M165.6 158.1h1M184.5 156.7h1M171.8 158.2h1M185.8 156h1M185.4 157.1h1M169.4 156.3h1M179.6 159.7h1M169.5 157.2h1M181.6 156.4h1M164.8 158.6h1M178.4 157.6h1M180.9 157.4h1M185.9 158.1h1M173.5 157.5h1M170.1 158.1h1M169.4 157.3h1M167.7 159.2h1M164.4 158.3h1M176.9 157.7h1M175.8 156.8h1M182.2 159.4h1M171.6 157.7h1M164.1 158.4h1M187 152.9h1M177.2 155.9h1M186.2 157.2h1M178.9 157.9h1M192 131.8h1M193.2 137.9h1M193.2 130.5h1M194.1 136.4h1M191.5 134.2h1M189.9 136.2h1M192.6 132h1M192 133h1M193.6 131.5h1M190.7 134h1M192.7 132.3h1M194 135.1h1M192.1 129h1M190.9 131.4h1M192.3 134.2h1M192.8 136.1h1M191.5 134.6h1M194 130.8h1M192.5 136.4h1M191.5 134.2h1M193.8 134.7h1M192.3 130.7h1M190.2 136.6h1M193.6 130h1M194.3 136.2h1M192.5 127.5h1M191.8 135.1h1M192.3 136.1h1M194 131.8h1M194 132.6h1M193.5 134.4h1M195.6 127.9h1M178.2 154.1h1M165.9 157.1h1M170 145.5h1" stroke="#000" stroke-width="1" stroke-opacity=".3"/>
<path d="M195.1 155.8h1M192.6 156.2h1M189.2 155.5h1M188.3 158.7h1M187.8 157.2h1M190.1 156.8h1M194.7 157.4h1M188.8 154.5h1M189.6 154.8h1M192.6 155.7h1M187.4 157.8h1M189.8 156.3h1M186.8 158.8h1M193 156.1h1M189.4 158.3h1M186.5 155.2h1M190.2 156.1h1M189.3 155.2h1M191.9 159.7h1M191.6 155.7h1M184.9 154.5h1M197.4 154.3h1M187.1 156.1h1M194.1 154.3h1M189.6 156.6h1M192.6 153h1M189.8 155h1M192.8 158.2h1M190 154.7h1M189.7 158.3h1M190.2 155.2h1M187.6 155.4h1M187.5 156.4h1M191.4 157.5h1M196.1 155.4h1M190.5 157.6h1M186.6 156.2h1M191.8 155h1M192.1 154.9h1M188.8 157.3h1M183.2 157.3h1M186.9 154.2h1M191.5 155.3h1M186.1 156.7h1M192.9 154.8h1M188.6 157.6h1M185.7 155.3h1M186.4 157.3h1M188.4 156.4h1M188.7 156.9h1M188.2 157.7h1M191.3 155.9h1M187.9 155.5h1M190.4 157h1M190.9 156.1h1M191.4 156.1h1M189.9 154.7h1M190.8 155.1h1M188.7 155.4h1M188.7 160.6h1M184.1 155.4h1M183.4 157h1M189.4 156.1h1M188.2 157.2h1M189.5 156.8h1M187.4 156.6h1M188.8 156h1M185.7 158.1h1M192.1 155.4h1M190.3 158.7h1M192.6 156.5h1M189.9 155.3h1M185.4 157.1h1M187.6 156h1M187.2 156.6h1M187 154.2h1M191.9 156.6h1M188.1 154.1h1M188.8 157.6h1M186 157.2h1M190.5 157.6h1M189.4 154.7h1M191.7 155.6h1M185.4 156.1h1M185 156.2h1M194.4 155.3h1M186.5 155.5h1M185.4 158.3h1M189.9 157.3h1M193.2 154.2h1M189.3 156.7h1M191.5 157.1h1M189 156.6h1M184.9 156.7h1M189.3 153.9h1M187.7 154.3h1M187 158.2h1M187.2 156.3h1M189 156.9h1M189.6 156.5h1M193.7 154h1M188.5 155.7h1M194.5 155h1M188.5 156.7h1M186.5 157h1M191.2 154.8h1M187.5 157.8h1M193.1 155.7h1M181 158h1M174.3 158.8h1M182.4 156.5h1M187 156.6h1M178.1 157.6h1M186.1 157.1h1M175.5 157.2h1M165.4 159h1M184.9 157.7h1M172.5 158h1M164.4 158.4h1M166 157.3h1M173 156h1M177.8 158.2h1M186.8 158.6h1M169.9 157.6h1M177.9 159.6h1M175.6 157.4h1M167.1 159.5h1M182.2 155.9h1M182.8 157.3h1M186.2 156.5h1M173.6 158.9h1M182.4 155h1M170 158h1M184.7 156.9h1M167.2 156.1h1M166.9 157.8h1M164.3 158h1M187.2 155.2h1M178.2 157.7h1M186.5 157.9h1M180.2 156.1h1M181.3 158.2h1M170.4 157.3h1M181.2 157.2h1M170.3 156.3h1M180.9 156.3h1M168.9 157.6h1M182.5 156.9h1M184.5 157.3h1M168.7 159.2h1M163.6 157.7h1M173.1 156.2h1M183 156.4h1M168.2 158.3h1M172.6 158.2h1M165.1 158.9h1M165.2 158.7h1M180.1 157.2h1M187.1 157.1h1M176.4 157.8h1M165.2 159.1h1M172.2 159.5h1M173.7 158.3h1M182.5 155.4h1M182 157.7h1M186 156.5h1M180.6 158h1M186.2 156.4h1M178.5 156.8h1M184.2 157.6h1M165.7 158.8h1M183.2 157.4h1M178.1 157.4h1M184.7 157.7h1M185 156h1M186 156.7h1M178.6 156.4h1M182 160h1M191.6 135.1h1M191.3 135.7h1M194.2 136.1h1M193.7 138.2h1M194.3 131.7h1M192.8 133.8h1M192 131.3h1M194 132.9h1M193.9 135.9h1M192.9 133.9h1M193.8 134.1h1M194 136.8h1M192.1 134.4h1M194.8 135.7h1M194.9 136.7h1M195.9 133h1M191.4 136.3h1M193.7 132.8h1M191.4 129.2h1M193.1 129.3h1M190.2 133.9h1M191.4 133.1h1M193.8 133h1M193.4 135.3h1M191.5 135.4h1M190 132h1M193 128.9h1M192 136.7h1M193.1 134.7h1M192.9 134.6h1M191.6 125.5h1M194.2 133.1h1M166.2 151.6h1M166 152h1M183.5 164.2h1" stroke="#000" stroke-width="1" stroke-opacity=".3"/>
<path d="M193.1 156.6h1M190.7 157.7h1M188.9 155.4h1M187.2 156.1h1M181.3 157.1h1M178.9 158.1h1M185.5 156.8h1M191.6 155h1M190 157.4h1M190.8 156.6h1M192.1 156.5h1M187.4 156.4h1M188.9 155.8h1M193 154.7h1M183.5 156h1M188.6 156h1M187.7 154h1M192 154.9h1M191.5 154.8h1M193.8 154.1h1M188.3 158.3h1M192.3 156h1M189.5 155.7h1M194.8 156.1h1M192.4 157.6h1M187.4 156.4h1M196.6 155.5h1M185.4 155.8h1M190.5 153.2h1M189 157.6h1M189.2 156.3h1M191 156.1h1M189.7 156.7h1M190 156.6h1M187.5 157.4h1M189.4 157.7h1M194.6 154.3h1M191 156.5h1M185.1 158.2h1M189.7 154.9h1M190.2 154.4h1M191.8 155.3h1M189.6 155.3h1M186.5 157.1h1M187 156.9h1M187.2 155.5h1M184.2 156.8h1M191.6 155.5h1M182.3 157.8h1M189.5 154.6h1M186.5 158.7h1M192.8 154.7h1M192.3 157.3h1M191 156.6h1M194.5 155.4h1M191 156.6h1M189.8 156.5h1M191 158.7h1M190.2 156.2h1M192.3 155.2h1M191.1 157.4h1M196.3 152.4h1M191 156.4h1M190.6 154.8h1M190.9 157.2h1M188.8 159.1h1M195.3 155.7h1M192.8 154.2h1M187.2 159.4h1M183.5 158.1h1M190.4 155.4h1M198 156.5h1M189.7 156.1h1M185.4 153.7h1M179.3 157.8h1M192.4 155.4h1M185.4 157.9h1M187.9 155.2h1M183.2 158.5h1M191.4 155.9h1M189.3 156h1M190.4 155.9h1M188 156.8h1M187 159.7h1M184.1 155.3h1M183.4 159.5h1M195.4 157.3h1M191.1 156.6h1M189.3 155.3h1M184.6 158.6h1M188.2 156.4h1M186.5 157.1h1M186.4 156.6h1M187.2 156.3h1M197.4 154.5h1M190.9 156.7h1M183.3 155.6h1M191.8 155.6h1M185.4 157h1M193.4 155h1M186.8 156.7h1M187.7 156.4h1M191.3 156h1M193.6 154.5h1M191.9 155.9h1M190.9 155.2h1M185.5 156h1M191.6 156.5h1M181 158.6h1M175.7 157.9h1M180 158.9h1M175 158.4h1M172.2 157.4h1M179.2 158.8h1M167.5 157.7h1M166 158.1h1M178.3 157.1h1M174 158.3h1M186.8 156.1h1M172.5 156.5h1M165.6 158h1M168.6 156.8h1M177.1 158.6h1M188.2 159.2h1M181.8 157.2h1M170.4 158.2h1M182.3 155.1h1M189.1 157.1h1M188.5 155.6h1M179.8 158.4h1M176.6 158.2h1M185.3 155.6h1M182.2 155.8h1M178.5 158.5h1M166 157.8h1M181.9 157.8h1M186.7 156h1M171.8 156.3h1M170.5 159.1h1M164.7 159.3h1M179.9 158h1M182.6 159.1h1M178.3 155.4h1M168.6 159.3h1M180.2 154.8h1M185.8 155.7h1M178.6 159h1M166.2 160h1M178.8 157.4h1M181.7 158h1M183.9 155.9h1M162.8 156.8h1M163.2 158.1h1M173.6 157.2h1M182.7 157.4h1M175.8 157.5h1M182.8 159.3h1M180.9 160.2h1M184.9 155.9h1M174.9 158.3h1M182 158.3h1M186.2 158.9h1M187.3 156.7h1M183.5 158.9h1M170.8 157.4h1M189.1 156.5h1M174.3 158.5h1M187.6 156h1M175.9 157.4h1M171.1 159.7h1M173.7 159h1M188.3 155.7h1M188 154.1h1M186.9 158.1h1M182.4 157.9h1M183.7 157.4h1M166.5 158h1M175.7 159.2h1M192.2 135h1M191.4 135.5h1M192.6 135.5h1M192 132.3h1M193.6 133.1h1M192.1 129.1h1M192.2 135.7h1M191.7 133.2h1M193.5 134.4h1M195.1 135.6h1M191.8 131h1M192.2 133.5h1M193.1 132.9h1M192.6 136.4h1M194.2 133.5h1M191.2 136.4h1M195.9 134.4h1M193.3 136.3h1M193.3 133.1h1M193.9 133.4h1M193.8 138.3h1M193.6 131.7h1M193.3 133.1h1M195.4 131.4h1M194.4 129.9h1M193.7 134.7h1M191.4 137.1h1M195 130.1h1M190.9 136.5h1M192.9 134.2h1M192.8 131.3h1M192.4 131.6h1M197 151.6h1M164.4 150.8h1M194.6 152.7h1" stroke="#000" stroke-width="1" stroke-opacity=".3"/>
<path d="M189.4 157h1M183.9 159h1M189.9 155.6h1M188 155.2h1M191.7 156.4h1M192.6 155.4h1M191.3 157.3h1M183.6 157.8h1M194 157.3h1M189.1 158.1h1M188.1 156.4h1M189.3 156.9h1M188.9 155.6h1M185.1 155.4h1M189.8 155h1M193.4 154.2h1M187.9 157.1h1M190.9 157.2h1M194.3 153.3h1M183.6 158.2h1M194.5 153.5h1M190.4 158.6h1M188.2 155.5h1M188 157.1h1M189.1 160.1h1M191.8 156.3h1M191.2 153.8h1M191.8 156h1M191.6 155.7h1M188 154h1M187 158.1h1M185.6 154.9h1M192.2 156.6h1M190.1 157h1M188 154.9h1M186.9 156.7h1M192.3 155.7h1M189.7 156.8h1M196.8 151.6h1M187.4 155.8h1M188 155.9h1M189.6 156.9h1M189.4 156.9h1M190.5 156.6h1M183.2 159.9h1M190.6 155.4h1M194.7 154.7h1M190.7 156.7h1M184.4 154.5h1M187.8 156.6h1M188.3 156.6h1M193.6 155.3h1M191.7 155.4h1M190.3 157.4h1M193.2 156h1M188.8 156.9h1M188.2 155.3h1M190.2 157.9h1M193.1 154.8h1M183.3 157.6h1M193.1 154.7h1M186.4 158.2h1M184.4 155.9h1M188.3 154.8h1M187.5 153.7h1M186.2 155.5h1M191.1 157.2h1M194.6 154.3h1M195.1 155h1M186.3 156.9h1M191.6 156.2h1M189.7 155.7h1M188.8 156.7h1M195.1 156.5h1M193 155.8h1M193.2 158.2h1M192.7 155.1h1M187.7 157h1M191.5 155.2h1M185.7 156.9h1M184.7 157.1h1M192 155.1h1M193 154.9h1M191.5 155.9h1M191.7 155.1h1M193.9 156.9h1M185.2 156.1h1M184.4 156.8h1M198.3 155.5h1M191.4 155.5h1M183.3 158h1M191 157.1h1M192.5 156.7h1M186.8 158.4h1M188.1 155h1M188.3 155.9h1M190 154.2h1M191.8 155.1h1M187.8 158.3h1M194.4 152h1M190.3 156.5h1M191.1 155.3h1M192.1 156.5h1M194.3 155.3h1M190.2 156.6h1M188.5 157.9h1M193.1 154.7h1M194.7 153.3h1M188.1 155.8h1M171.2 156.4h1M169.3 157.4h1M170.3 157.9h1M184.7 158.9h1M170.6 157.4h1M170.5 159.3h1M181.6 158h1M183.2 158h1M187.6 154.3h1M183.5 155.6h1M168.9 157.6h1M188 158.7h1M166.9 158.4h1M188.7 157.1h1M164.5 157.5h1M183.1 156.4h1M184 155.4h1M176.5 158.7h1M170.4 157.2h1M187.8 155.1h1M184 155.8h1M178.6 158.2h1M171 159.6h1M184.7 158.3h1M182.7 156.5h1M165.8 158.3h1M187.7 158.2h1M174.3 157.1h1M170.8 158.9h1M173.1 157.6h1M180.3 156.4h1M161.9 159.4h1M178.1 157.1h1M183 158.3h1M167.2 158.9h1M170 157.1h1M180.4 157.6h1M165.4 158.2h1M186 157.3h1M176.5 156.2h1M173.8 158.3h1M181 156.3h1M181.2 157.2h1M171.2 159.4h1M178.3 157.3h1M179.2 158.3h1M182.9 157.5h1M181.3 154.7h1M177 156.5h1M178.3 157.5h1M178.5 158.2h1M185.3 155.9h1M172.5 157.5h1M168.8 157.4h1M181.1 157.1h1M187.1 157.4h1M187.5 156.3h1M172.4 158.8h1M176.9 158h1M169.9 157.6h1M169.5 158.8h1M183.3 157.3h1M179.4 158.6h1M175.4 156.7h1M182.3 159.3h1M187.3 156.8h1M183.8 155.1h1M186.1 158.9h1M184.8 158.4h1M190.8 132.3h1M196.2 137.9h1M196.1 133h1M193.4 125.8h1M192.6 133.8h1M194.9 138.8h1M195 136.2h1M192.9 133.3h1M191 132.9h1M192.6 131.8h1M194.6 129.5h1M194.2 135.1h1M193 135.4h1M194.7 137.6h1M195.1 134.8h1M193.2 130.8h1M193.1 133.3h1M191.9 134.1h1M193.3 136.3h1M194.3 132.5h1M193.9 135h1M193.2 135.5h1M194 133.5h1M193 136.2h1M192.8 133h1M193.9 128.7h1M192.7 137h1M192.6 135h1M194.1 135.1h1M193.5 133.5h1M192 136.2h1M192.9 133.6h1M199.6 158.8h1M198.6 155.5h1M170.4 155.3h1" stroke="#000" stroke-width="1" stroke-opacity=".3"/>
</g>
<rect x="178.3" y="122.9" width="27.5" height="23.1" fill="none" stroke="#707070" stroke-width="1"/>
<text x="193.95" y="122.1" font-size="6.9" text-anchor="middle">13.4</text>
<rect x="223.3" y="104.5" width="70.6" height="71.5" fill="none" stroke="#909090" stroke-width="1.1"/>
<g filter="url(#bl)">
<ellipse cx="270" cy="156.2" rx="4.6" ry="1.4" transform="rotate(-8 270 156.2)" fill="#000" filter="url(#bl2)"/>
<path d="M271.9 156.4h1M267.3 157h1M270.1 154.8h1M269.3 156.6h1M273.1 156.9h1M268.3 157.9h1M266.8 159.8h1M272.2 156.4h1M271.7 156.8h1M260.8 159.2h1M266 156.8h1M271.4 156.5h1M268.1 154.8h1M273.4 157.4h1M265.7 156.9h1M270.8 155.2h1M262.9 156.9h1M269.5 154.3h1M272 156.9h1M265.3 156.7h1M265.3 156.8h1M270.3 158.4h1M268.8 157.4h1M271.2 155.4h1M269.2 156.9h1M268.4 155.8h1M270 155.8h1M275.5 155h1M268.4 156.1h1M266.6 158h1M276.8 156.6h1M271 156.3h1M268.8 157.3h1M274.7 155h1M260.2 158.2h1M272.2 156.5h1M272.6 155.3h1M264.7 156.2h1M269.8 153.8h1M272.8 160.7h1M277.9 156.3h1M261.9 157.8h1M268.7 157h1M271 154.3h1M277.1 152.8h1M269.6 153.8h1M267.8 156.2h1M270.4 155.4h1M263.8 159.1h1M269.4 156.8h1M272.8 156.1h1M271 155.3h1M263.3 157h1M268.7 157.1h1M266 156.3h1M270.3 154.9h1M258.1 159.3h1M270.3 156.5h1M270.7 155.9h1M266.1 156.3h1M272.6 155h1M263.9 159.2h1M265.4 156.8h1M272.4 158h1M274.4 153.4h1M273.2 156.4h1M267.7 157.3h1M274.1 157h1M272.3 154h1M266 158.9h1M271.8 156.4h1M279.1 155.6h1M274.8 154.3h1M266.7 153.8h1M274.5 155.3h1M275 155.4h1M265.7 157h1M269.3 156.3h1M274.5 155.1h1M263.6 157.1h1M270.6 157.5h1M270.9 155h1M268.3 158.2h1M266.7 154.7h1M270.4 154.3h1M272 152.4h1M270.7 155.9h1M270.1 157.5h1M269 157.7h1M277.1 156.6h1M268.7 156.3h1M269.2 157.3h1M270.3 155.3h1M270.1 156.5h1M269.2 157h1M275.1 157.8h1M269.4 154.7h1M277.4 154.9h1M267.6 157.6h1M267.9 156.4h1M253.4 157h1M252.3 157.1h1M249.4 156.9h1M254.8 158.8h1M256.2 157.7h1M261.6 157.3h1M265.6 158.5h1M265.3 155.7h1M258.5 157.3h1M258.2 158.1h1M266.1 155.5h1M270.2 153.5h1M263.6 154.9h1M259.1 157h1M254.9 157.2h1M250.1 156.8h1M266.2 153.6h1M265.2 157.2h1M248.4 158.7h1M263.5 155.4h1M263.7 157.2h1M268.3 156.1h1M259.1 157.4h1M252.9 157.2h1M266.3 154.8h1M264.4 157.3h1M255.8 157.6h1M268.9 156.2h1M241.1 159h1M255.7 158.2h1M266.9 158.8h1M256.2 157.9h1M247.8 158.2h1M269 155.5h1M251.1 158.5h1M255.9 159.2h1M254.2 158h1M269.6 156.3h1M255.9 156.6h1M255.7 157.8h1M241.6 158.7h1M268.8 156.5h1M241.4 156.7h1M245.3 157.7h1M261.2 155.6h1M246.2 158.7h1M261.1 157.6h1M248.7 158h1M247.5 158.8h1M247 156.1h1M259.7 157.2h1M267.1 157.8h1M253.9 156.5h1M267.3 156.3h1M272.3 155.1h1M257.9 159.3h1M268.2 155.6h1M266.3 156.2h1M264.4 156.4h1M264.6 154.8h1M254.1 157h1M259.2 155.4h1M261.4 157.4h1M260.1 157.7h1M253.6 156.7h1M258.2 155.6h1M257 156.1h1M250.6 158.9h1M254.8 159.1h1M254.6 156.9h1M272.3 131.2h1M271.8 139h1M273.1 137.8h1M272 134.6h1M271.8 138h1M271.4 128.3h1M272.6 133.6h1M272.5 132.8h1M272.4 131.6h1M270.8 134.4h1M272.3 134.2h1M272.6 129.1h1M272.7 131.4h1M271.4 131.3h1M271.8 133.9h1M271.5 134.1h1M273.7 130.9h1M272.1 127.3h1M271.7 136.9h1M274.5 134.7h1M272.2 160.9h1M274.5 159.5h1M248.6 158.7h1M246.2 162.6h1" stroke="#000" stroke-width="1" stroke-opacity=".3"/>
<path d="M263.9 157.3h1M276 156.3h1M266.4 156.5h1M261.4 157.5h1M277.8 154.6h1M272.3 157.6h1M268.5 157.1h1M270.1 157h1M278.6 155.2h1M265.7 157.1h1M276.4 154.5h1M268.9 156.4h1M271.8 154h1M271.2 157.2h1M271.9 154.5h1M274.2 157.8h1M268.3 156.3h1M267.3 154.7h1M268.4 157h1M273.7 155.6h1M268.9 155.6h1M260.6 154h1M265.4 158.7h1M263.2 157.6h1M267.4 156.8h1M271.7 155h1M265.1 157.7h1M263.6 154.8h1M269.5 154.9h1M270.1 157.4h1M269.6 154.5h1M272.9 156.5h1M266.6 158.2h1M269.2 156h1M275.9 154.7h1M269.9 155.2h1M271 155.8h1M270.2 155.9h1M268.8 156.4h1M264.6 157.2h1M270.4 154h1M269.7 158.1h1M267.4 156.2h1M260.9 156.6h1M269.5 157.2h1M262.7 156.6h1M267 156.9h1M266.3 156.5h1M264.7 156.7h1M267.3 156.3h1M266.5 157.7h1M264 157h1M263.3 158h1M266.8 156.5h1M272 157.8h1M270.3 154.4h1M269.7 156.6h1M267.5 156.9h1M272.5 157.1h1M271.3 154.6h1M265.2 157.7h1M266.8 156h1M262.4 158.1h1M268.3 155.8h1M271.5 156h1M272.6 153.7h1M269 154.5h1M267 155h1M272.8 158.1h1M274.2 153.6h1M272.8 154.6h1M269 157.2h1M268.2 154.2h1M265.6 157.6h1M265.5 155.8h1M273.1 155.7h1M266.4 159.7h1M266.1 156.6h1M275.5 156h1M269.7 155h1M275.8 153.9h1M270.7 155.2h1M276 156h1M268.8 157h1M269.5 156.9h1M279.9 155h1M271.6 154.5h1M269.8 156.6h1M273.1 155.1h1M275.1 154.1h1M267.9 154.7h1M266.3 156.4h1M265.3 155.4h1M277.4 155.7h1M265.8 155.2h1M262.1 156h1M268.1 156.1h1M267.8 155.4h1M269.5 158.8h1M273.6 155.6h1M256.7 157.7h1M258.7 159.6h1M250.1 158.3h1M264.7 158.5h1M243.9 157.9h1M257.6 157.5h1M266.5 156.1h1M252.3 159h1M266.9 156.6h1M269.4 155h1M254.1 158.3h1M269.4 157.5h1M247.5 157.9h1M249.8 158.8h1M247.2 158.7h1M253.3 157.2h1M247.6 159h1M243.5 158.5h1M243.2 158.8h1M260.4 157.3h1M260.1 156.6h1M263 157.7h1M248.7 158.5h1M270.3 157.1h1M268 155.4h1M258.6 156.4h1M256.7 156.9h1M268.7 154.6h1M256.7 158h1M262.7 157.4h1M265.6 156.8h1M265.5 156.5h1M256.1 157.1h1M263.8 156.8h1M255.9 158.7h1M266.7 159.4h1M270.7 155.1h1M251.8 157.6h1M258.5 158.5h1M257 157.5h1M262.4 157.8h1M265.9 156.8h1M247.7 158.4h1M250.6 159h1M265.2 157.6h1M243 158.8h1M268.8 154.8h1M252.9 158.6h1M267.9 158.9h1M267.1 156h1M257.2 159.6h1M244.9 158h1M260.1 158.6h1M249.4 158.7h1M255.2 153h1M261.7 155.1h1M266.9 158.5h1M252.6 158.6h1M263.2 157.6h1M244.7 158.1h1M262.8 157.4h1M256.5 156h1M258.1 156h1M263 156.8h1M267.1 155.9h1M267.4 154.7h1M250.6 157.7h1M257.2 158.4h1M247.9 157.5h1M264.6 155.4h1M273.1 134.2h1M271 129.9h1M271.5 129.6h1M273.2 133.2h1M270.4 133.1h1M273.2 128.1h1M272.3 133.5h1M271.8 129.9h1M271.9 133.1h1M270.8 133.9h1M270.4 136h1M271.6 133.3h1M272.2 134.5h1M270.2 131.7h1M271.2 132.8h1M272.2 134.5h1M273.1 130.3h1M271.6 130.6h1M271.6 138.7h1M271.8 135.4h1M242.7 151.3h1M261.3 156.1h1M271.7 147.1h1M276.5 157.8h1" stroke="#000" stroke-width="1" stroke-opacity=".3"/>
<path d="M271.4 155.9h1M264.3 156.9h1M272.8 155.4h1M268.4 154.9h1M263.3 155.3h1M273 156.7h1M267.9 155.7h1M265.7 157.6h1M272.5 155h1M273.6 155.9h1M269.4 155.9h1M270.5 154.8h1M269.5 156h1M264.1 157.8h1M266.6 154.4h1M259.3 156.7h1M270.5 154.2h1M277.6 155.6h1M269.8 155.9h1M270.7 154.6h1M266.8 156.8h1M269.4 157.6h1M266.7 155.7h1M273.6 155.8h1M267.1 156.8h1M273.4 156.4h1M267.6 157.1h1M263.4 156.1h1M275 157.4h1M272.1 156.6h1M274.4 155.2h1M276 154.5h1M263.2 156.4h1M263.2 156.6h1M274.8 156.5h1M262 156.1h1M271 158.7h1M267.1 154.2h1M274.7 155.8h1M271.4 155.2h1M270.9 156.1h1M269.2 155.1h1M270.5 157.4h1M266.4 155.1h1M268.7 156.3h1M271.1 154h1M276.3 157.2h1M270.7 157h1M267.6 156h1M280.2 154.9h1M267.1 156.3h1M274.6 156h1M269.2 154.2h1M270.1 155.8h1M275.2 156.2h1M273.3 155.8h1M265.5 155.2h1M271.3 156.1h1M268.6 156.8h1M270.2 157.9h1M269.5 155.5h1M266.1 155.6h1M264.8 157.6h1M261.9 156.1h1M273.2 155.4h1M265.5 157.2h1M269.2 156.4h1M272.8 155.1h1M273.2 155.7h1M268.5 154.3h1M273 155.5h1M264.8 157.1h1M266.2 157.3h1M269.6 157.2h1M265.8 157h1M265.1 155.8h1M266.9 158.1h1M269.1 155.2h1M266.2 158.2h1M269.1 158.3h1M271.9 156.3h1M271.5 155.7h1M273.9 155.3h1M268.6 155.8h1M270.9 156.5h1M263.3 158.4h1M267.3 156h1M271.1 156.7h1M260.1 157.6h1M267.5 156.6h1M274 155.7h1M270.1 156.1h1M268.4 156.6h1M272 155.3h1M273.9 155.7h1M267.3 155.6h1M267.7 156.5h1M275.5 156.1h1M264.5 157.5h1M270.5 156h1M264.3 157.8h1M262.1 158.5h1M267.5 158.1h1M258 156.7h1M252.2 157.6h1M267.5 157.7h1M265.2 154.7h1M258 157.9h1M261 155h1M254.2 158.6h1M248.5 156.1h1M259.3 156.7h1M255.2 157.9h1M265.8 155.9h1M258.9 156.6h1M257.1 156.8h1M267.9 157h1M264 160.2h1M255 156.5h1M256.4 156h1M256.1 157.2h1M268.4 153.5h1M265.1 155.1h1M265.5 156.4h1M269.6 156.3h1M264.6 157.8h1M265.5 158.1h1M257.2 158.8h1M248.7 157.9h1M266.9 156.3h1M266.3 155.5h1M268.7 156.5h1M255.4 156.9h1M247.9 158.3h1M243.4 159.2h1M251.6 158.7h1M260.9 155.5h1M257.8 156.7h1M255.9 158h1M252.4 157.8h1M249.8 157.8h1M265.4 156.1h1M263.4 155.9h1M263 158.1h1M258.2 156.1h1M258.5 155.9h1M242.4 159.1h1M238.9 158.3h1M242.2 158.4h1M265.3 156.7h1M260.7 159.3h1M254.1 157.1h1M245.4 157.4h1M247.1 160h1M265.6 155h1M244 156.9h1M266 156.4h1M247.9 158.2h1M257 156.5h1M264.9 156h1M253.2 156.5h1M244.9 156.9h1M269.4 156.6h1M253.3 157.5h1M257 159.5h1M249.9 159.7h1M254.4 157.8h1M266.5 156.3h1M263.4 156.7h1M267.4 157.2h1M271.2 130.6h1M273.7 135.3h1M272.1 140h1M273.6 130.5h1M271.1 127.7h1M273.8 129.7h1M273.6 127.6h1M271.1 129.6h1M273.4 133.2h1M274.8 136.3h1M270.5 129.9h1M271.9 133.8h1M274.2 130.7h1M269.9 135.6h1M273.8 130.1h1M272.5 139.4h1M272.4 133.1h1M272.9 133.4h1M272.8 130.1h1M272.1 130h1M271.3 159.4h1M263.7 146.1h1M254.2 159.3h1" stroke="#000" stroke-width="1" stroke-opacity=".3"/>
<path d="M273 156.9h1M266.4 154.7h1M268.9 156.8h1M273 155.7h1M264.7 157.1h1M274.4 156.2h1M271.1 154.7h1M265 156h1M272.2 154.5h1M273.3 155.1h1M265.5 155.3h1M269.1 157.3h1M268.3 157h1M263.4 156.9h1M266.3 154.2h1M266.8 156.1h1M265.6 159.5h1M272.5 156.1h1M272.5 158.5h1M265.1 159h1M274.1 153.9h1M270 155.2h1M266.1 154.6h1M265.1 156.6h1M267.4 156.8h1M266.5 155.9h1M267.7 156.2h1M262.3 157.7h1M270 159h1M268.7 158.4h1M269.9 156.4h1M274.9 156h1M269.4 156.6h1M273.9 154h1M272.9 156.8h1M264.2 155.2h1M276.3 156.9h1M266.5 156.6h1M275.2 155.9h1M272.9 155.6h1M266 154.4h1M269.4 156.9h1M276 155.2h1M273.7 155.2h1M270.9 156.4h1M267.5 158.2h1M264.9 159.9h1M271.4 153.1h1M266.6 157.7h1M267.9 153.5h1M269.7 156.5h1M270.4 155.3h1M267.4 156.9h1M265.4 158.6h1M270 157.1h1M266.9 156.1h1M270.5 155.6h1M267.5 154.8h1M273.2 153.8h1M270.1 154.7h1M271.6 157.4h1M274 155.7h1M269.6 153.6h1M271.7 155h1M269.3 158.1h1M274.5 157.4h1M266.9 158.5h1M264.9 156.9h1M270.8 154.2h1M273.3 152.9h1M271.7 156.3h1M262.9 157.4h1M261.5 157.1h1M268.5 157.3h1M268.3 157.6h1M265.2 157.4h1M264.3 158h1M271.9 156.2h1M271.6 157.2h1M267.9 158h1M270.5 158.4h1M266.8 157.4h1M264.2 157.4h1M269.8 156h1M266.3 154.9h1M271.1 157.7h1M270.9 154h1M264.7 156.8h1M263.1 158.7h1M260.6 157.2h1M271 156.1h1M270.5 158h1M267.5 156.4h1M267.5 157.6h1M272.5 154.4h1M268.5 155.4h1M264.2 155.3h1M270.8 158.1h1M273.6 156.9h1M269.2 153.5h1M257.7 157.7h1M243.2 158.4h1M248.8 156.9h1M259.5 156.7h1M260 157.2h1M250.5 157.6h1M263 155.9h1M266.3 157.4h1M271.2 155h1M251.6 157.7h1M262.4 157.6h1M253.1 155.2h1M247.1 157.3h1M256.1 156.1h1M253.6 158.5h1M243.2 158h1M259.3 157.6h1M253 157.4h1M269.8 156.9h1M253.4 157.2h1M246.4 156.6h1M246.4 158.9h1M253 158.5h1M268.1 156.4h1M249.6 157h1M267.7 158.9h1M264.8 156.4h1M266.7 154.7h1M252.7 157.5h1M251.9 157.8h1M267.6 155.4h1M248 158.3h1M251.6 158.4h1M259 157h1M266 155.5h1M257.6 157.2h1M269.3 156h1M248.3 158.6h1M244.4 158.2h1M249.4 158.8h1M247.6 158.5h1M254.4 158.4h1M263.4 158.4h1M254.8 157.5h1M239.3 158.8h1M261.2 158.4h1M245.1 158.3h1M261.7 157.1h1M244.6 159.4h1M268.5 156.8h1M265.3 156.9h1M256.9 155.6h1M264 156.2h1M271.2 154.9h1M261 156.4h1M250.6 158.5h1M252.2 156.1h1M255.7 157.6h1M264.9 156h1M270.7 155.6h1M259.4 157h1M259.6 156.9h1M253 157.9h1M252.9 158.4h1M252.4 157.9h1M244.4 158.3h1M265.2 156.4h1M258.8 157.5h1M268.2 156.6h1M240.7 159.3h1M269.8 136h1M272.8 132.2h1M271 136.6h1M271.5 134.6h1M271.8 132.3h1M272 137.5h1M271.3 135.2h1M270.7 132.9h1M271.3 133h1M270.5 130.1h1M269.5 132.6h1M273.7 134.7h1M272.8 139.1h1M272.5 131.3h1M271.2 135.4h1M272.1 136.8h1M273.5 126.1h1M271.8 136.1h1M271.5 136.7h1M272 132h1M255.6 147.8h1M239.8 156.4h1M269 161.2h1" stroke="#000" stroke-width="1" stroke-opacity=".3"/>
<path d="M269.7 156h1M266.4 157.5h1M275.4 153.9h1M268.3 157.4h1M268.5 155.6h1M276 156.8h1M269.1 158.1h1M266.9 155h1M277.5 154h1M271.6 153.3h1M272.1 156.8h1M267.5 158.2h1M270.6 155.5h1M271.9 152.6h1M263.4 157.7h1M276.2 157.3h1M262.4 157.4h1M268.1 158h1M261.4 159.2h1M270.1 156.1h1M263.9 158.5h1M269.9 153.7h1M272.6 158.3h1M261.6 157.3h1M272.3 155.9h1M268.9 155.3h1M271.8 157.2h1M269.6 156.2h1M265.7 158h1M271.1 156.7h1M273.5 156.5h1M270.9 157h1M266.2 156.3h1M281.4 155.8h1M272 156.8h1M272.3 155.5h1M271 158.3h1M270.6 154.8h1M274.6 157.3h1M272.8 156.1h1M271.5 157.2h1M266.4 155.8h1M271.7 158.5h1M269.9 156.3h1M268.4 157.8h1M270.8 155.2h1M268.8 154.6h1M267.2 157h1M272.8 156.3h1M266.8 158.7h1M267.9 156.9h1M264.7 155.4h1M271.2 157h1M271.4 154.9h1M266.3 155.9h1M281.3 158.6h1M271.8 157.3h1M265.6 158.8h1M265.7 156.1h1M267.4 158.1h1M273.9 155.8h1M267 154.4h1M265 156.1h1M266.2 158h1M267.3 157.1h1M269.5 155.4h1M271.5 157.4h1M271.7 155.1h1M267.2 156h1M276.8 154h1M274.9 153.9h1M272.8 158h1M272.7 157.7h1M265.5 155.6h1M265 156.9h1M271 159.8h1M264.6 156.4h1M266.8 158.3h1M270 158.2h1M265.7 155.6h1M268.5 155.7h1M272.3 153.9h1M262.9 159.3h1M274.9 153.9h1M273.3 155.3h1M269.3 154.2h1M270 159.3h1M277.1 157h1M275.6 156.3h1M269.4 156.2h1M266.2 154.8h1M267.9 156.7h1M270.5 159.1h1M267 155.8h1M263.9 153.9h1M263.7 157.1h1M266.3 157.7h1M264.5 154.9h1M268 156h1M265.8 157.3h1M246.8 157.4h1M248.5 158.6h1M253.1 156.1h1M256.3 158.7h1M261.2 154.7h1M251.5 157.9h1M254.2 158.8h1M260.8 157.5h1M252 157.9h1M255.4 156.8h1M264.6 156.4h1M260.5 156.4h1M264.4 160h1M246.9 158.2h1M266.8 158.7h1M269.5 156.6h1M263.7 157.3h1M255 157.6h1M264.7 154.6h1M249.4 157.8h1M264.3 157.8h1M269.6 154.1h1M253.3 156.3h1M260.2 158.7h1M256 157.4h1M261.4 157.3h1M266.3 159.3h1M244.2 158.4h1M269.4 155.2h1M270.6 157.8h1M242.9 158.3h1M267.1 155.5h1M248 158h1M259.3 155.8h1M264.5 157.4h1M267.9 155.5h1M255.6 157.3h1M254.2 157.9h1M268.5 155.9h1M269.2 154.1h1M249.6 157h1M261.3 158.2h1M256.8 156.2h1M254.1 157.4h1M248.4 157.6h1M264.6 157h1M247.6 157.5h1M264.5 156.3h1M261 158.8h1M269.1 156.2h1M249.5 155.1h1M268.1 157.5h1M253.3 157.6h1M265.3 156.5h1M265.6 157h1M249.6 157.2h1M258.1 156.1h1M267 158.5h1M260.4 157.7h1M251.1 157h1M263.7 157.3h1M269.2 156.2h1M252.9 157.2h1M244.8 158.5h1M267.4 155.1h1M259.1 159.4h1M257.3 158.4h1M252.1 158.7h1M259.4 157.1h1M264 157.3h1M275.1 132.1h1M272 132.9h1M271.3 130.2h1M272.7 127.2h1M271.6 130.6h1M270.9 136.5h1M270.5 130.4h1M272.4 129.7h1M272.4 134.2h1M272.4 131.7h1M272.4 131.4h1M270.9 132.4h1M273.7 133.5h1M272 132.9h1M272.3 133h1M272.2 139.4h1M270 135.6h1M271.3 134.9h1M273.6 128.9h1M271.8 132.9h1M245.1 152.3h1M256.1 163.2h1M244.9 160.1h1" stroke="#000" stroke-width="1" stroke-opacity=".3"/>
<path d="M264.9 158.4h1M270.9 155.8h1M271.8 156.2h1M265.7 156h1M265.3 156h1M277 155.5h1M270.2 157.2h1M261.5 157.9h1M268 157.4h1M275.6 154.6h1M266.5 157h1M268.4 155.1h1M272.8 155.3h1M266.2 155.8h1M273 154.8h1M269.6 157.1h1M272.6 156.5h1M273.2 156.6h1M267.9 158h1M263.7 155.8h1M263.6 156.6h1M273.1 157.6h1M263.6 156.9h1M274.7 156.9h1M264.3 157.7h1M273 153h1M273.6 155.7h1M270.5 156h1M263 158h1M275.3 155.2h1M261.9 156.5h1M268.3 157.4h1M270.7 157.4h1M276.6 155.5h1M274.5 156.1h1M275.3 159.4h1M273.1 156.9h1M269.3 158.6h1M275.9 155.7h1M265.9 158.1h1M272.8 158.7h1M270.8 157.2h1M272.9 155.4h1M268.5 155h1M271.9 157.9h1M269.1 156.5h1M263.5 157.3h1M271.2 157.1h1M264.3 156.3h1M272.8 154.4h1M269.6 156.5h1M265.8 156.4h1M268.1 156.3h1M277.4 154.2h1M271.7 156.2h1M267 158.4h1M269.2 157h1M273.7 156.1h1M264.8 156.4h1M268.4 155.7h1M271.5 156.6h1M270.2 156.1h1M272.9 156.6h1M259.9 159.4h1M272.1 155.8h1M264.9 154.5h1M269.8 155.1h1M269.9 157.5h1M277.9 155.1h1M265.8 159.5h1M264.2 157.9h1M267.7 157.7h1M259.7 158.2h1M268.6 154.2h1M263.5 156.6h1M276.4 156.4h1M270.3 156.4h1M267 154.3h1M273.2 155.4h1M273.3 155.6h1M271.2 153.5h1M264.4 156.7h1M270.8 157.6h1M260.7 157.4h1M264.4 159h1M268.8 155.9h1M262.6 158.6h1M266 155.6h1M272 156.7h1M279.6 154.6h1M268.5 157.1h1M267 157.3h1M274.6 158.5h1M263.6 157.5h1M270.9 157.4h1M269.9 155.3h1M265.6 155.7h1M274 156.2h1M267.9 157.4h1M266.8 155.9h1M254.4 158.3h1M265.6 155.2h1M257.4 157.1h1M266.5 158.3h1M254.8 156.2h1M268.3 156.6h1M266.6 158.5h1M251.5 156.9h1M263 156.3h1M256.5 157.4h1M269.9 153.1h1M268.4 157.7h1M248.8 158.5h1M257.8 158.2h1M258.2 156.8h1M251.5 156.5h1M246.6 158.4h1M269.9 156.3h1M255.7 157h1M268.2 156.8h1M250.4 159.9h1M252.3 157.2h1M262.2 156.2h1M263.3 154.8h1M255.1 156.4h1M260.7 157.9h1M254.1 157.1h1M258.9 155.9h1M268.8 158.2h1M257.1 155.9h1M255.9 159h1M264.7 153.9h1M269.6 156.6h1M264.9 158h1M263 156.4h1M248.7 157.7h1M247.1 157.8h1M260.6 157h1M250 156.8h1M260.4 155.6h1M242.9 158.3h1M258.7 158.5h1M248.5 157.9h1M262.6 156h1M260 156.2h1M266.3 156.3h1M267.8 155.6h1M257.2 157.4h1M264.9 155.5h1M258.8 156.2h1M250.7 156.1h1M265.5 154.7h1M251.8 157.2h1M257.4 158.7h1M266.8 155h1M249.8 157.8h1M260.7 157.8h1M268.1 157.3h1M261.1 156.4h1M266.7 159h1M253.5 158.3h1M259.6 158.3h1M268.2 157.4h1M266.7 155.4h1M258.2 156.1h1M248.3 156.2h1M255.5 157.4h1M256.9 157h1M242.2 158.3h1M262.8 157.5h1M272.5 134.8h1M272.4 130.7h1M273.1 132h1M271.7 134.6h1M272.9 129.4h1M270.7 131.1h1M274.5 136.6h1M272.1 128.5h1M273.1 130.1h1M272.7 133.3h1M270.8 125.9h1M271.8 130h1M271.2 133.1h1M271.7 133.4h1M272.2 131.3h1M273 130.3h1M272.8 131.1h1M271.8 134h1M272.2 134.5h1M272.4 130.3h1M258.7 158.7h1M247.8 152.3h1M256.9 163.6h1" stroke="#000" stroke-width="1" stroke-opacity=".3"/>
</g>
<rect x="256.3" y="122.9" width="27.5" height="23.1" fill="none" stroke="#707070" stroke-width="1"/>
<text x="270.25" y="122.1" font-size="6.9" text-anchor="middle">7.76</text>
<rect x="66.8" y="182.4" width="71.6" height="71.9" fill="none" stroke="#909090" stroke-width="1.1"/>
<g filter="url(#bl)">
<ellipse cx="106.8" cy="236.4" rx="5.6" ry="2.9" transform="rotate(0 106.8 236.4)" fill="#000" filter="url(#bl2)"/>
<path d="M108.2 237.9h1M101.8 236.5h1M103.9 236.9h1M106.9 236.1h1M106 237.5h1M101.4 237.6h1M109.7 239.6h1M111.9 237h1M104.8 235.9h1M103.3 236.8h1M105.9 240.5h1M103.8 237.1h1M106.2 238.1h1M102.3 238.7h1M103.6 236h1M109.3 234.7h1M107.7 239.2h1M105.5 237.1h1M107.4 237.5h1M106.1 238.5h1M114.3 233.2h1M103.2 237.9h1M107.8 238.4h1M111.9 236.8h1M106.7 236.1h1M108.9 236.2h1M107.6 236.5h1M108.4 237.3h1M107.7 239.5h1M105.7 234h1M106 236h1M109.4 234.3h1M105.1 237.7h1M108.1 238h1M111.1 237h1M104.3 235.7h1M109.2 235.6h1M107.4 238.9h1M104.1 240h1M110.1 237.4h1M102.7 234.6h1M107.1 240.7h1M103.3 236.4h1M110.3 236h1M105 231.9h1M109.7 235.3h1M104 239.2h1M104.9 236.2h1M116.9 235.3h1M110.1 235.5h1M109.2 238.2h1M107 238h1M106.6 239.6h1M105.3 236.2h1M102.4 236.5h1M110 236.8h1M99.1 235.3h1M109.3 238.1h1M100.3 232.5h1M104.4 236.1h1M106.2 238.3h1M111.6 237.4h1M102.8 235.8h1M110.6 239h1M112.4 235.9h1M108.9 236.2h1M115.3 238.1h1M111.4 235h1M105.6 236.7h1M108.3 236.5h1M109.4 234.7h1M105.8 238.5h1M108.5 237.2h1M112.6 237.5h1M103.6 236.1h1M111.1 236.7h1M110.5 236.4h1M106.5 237h1M110 236h1M107.1 236.8h1M109.3 235.4h1M103.9 237.9h1M105 232.6h1M105.3 238.4h1M103.3 236.6h1M107.2 239.5h1M102.2 237.1h1M105.7 238.7h1M108 235.5h1M109.1 235.9h1M105.4 233.3h1M111.4 235.7h1M104.1 237.9h1M108.3 238.4h1M106.4 234.9h1M100 237.6h1M105.6 239.8h1M103.9 235.8h1M107.6 232.6h1M111.5 236.8h1M107.3 237.4h1M105.5 236.2h1M106.9 235.6h1M107.1 237.9h1M102.7 235.2h1M100.4 239.4h1M97 234.6h1M99.1 240.2h1M107.1 236.6h1M100.5 234.4h1M104.9 232.4h1M102.2 236.8h1M105.3 238.7h1M99.5 237.4h1M103.3 236.3h1M104.2 238.8h1M109.5 234.5h1M106.6 235.3h1M106.9 234.7h1M103.6 234.6h1M108 234.3h1M107.4 240.4h1M114.5 234.8h1M102.2 235.6h1M108.1 236.7h1M110.5 237.4h1M99.1 239.4h1M101.5 232.5h1M107 237.8h1M105.4 236.7h1M106.1 238.7h1M108.5 235.7h1M104.2 232.4h1M110.5 235.4h1M110.7 236.2h1M108 235.7h1M105.7 238.1h1M113.1 238.4h1M103.4 239.3h1M107.7 234.4h1M105.8 235.8h1M103 235.3h1M111.6 238h1M108.1 233.7h1M113.9 240.4h1M105.8 237.9h1M115.8 236.9h1M101.7 238.1h1M103.7 238.8h1M105.1 237.4h1M106.9 235.2h1M114.5 237.1h1M102.1 236.3h1M105.1 237.1h1M104.4 234.2h1M106.5 236.3h1M107.4 236.3h1M107.5 235.1h1M105.6 233.3h1M106.7 234.8h1M99 238.7h1M103.7 232.8h1M109.3 235.9h1M105.4 235.9h1M109.6 235.3h1M103.8 237.8h1M104.5 236.8h1M107.7 233.8h1M108.8 236.3h1M104.9 235.9h1M103.9 236.9h1M111.1 233.6h1M109.1 237.3h1M104.6 237.5h1M113.2 239.1h1M107.2 234.4h1M104.5 236.4h1M101.2 236.2h1M109.2 236.4h1M114.1 235.6h1M107.2 234.8h1M110.6 236.6h1M108.4 236.8h1M105 238.8h1M107.8 234.4h1M120.1 234.8h1M104.5 236.2h1M103.3 238.6h1M97.2 231.8h1M107.2 239.4h1M107.7 234.2h1M116.4 236.4h1M104.6 234.1h1M96 233.3h1M103.5 236.4h1M112.8 237.6h1M102.1 237.3h1M98.1 237.4h1M99.1 235.3h1M105.8 235.3h1M98.5 235.6h1M95.4 238.1h1M100.4 237.7h1M84.5 238.6h1M81 236.7h1M86.4 238.8h1M84.8 236.8h1M92.2 238.7h1M84.3 239.5h1M90.5 237.7h1M94.3 235.5h1M107.5 215.6h1M107.7 218.6h1M109.5 211h1M109.1 199.3h1M110.4 219.5h1M108.9 208.1h1M110.8 208.1h1M101.8 243.1h1M92.2 211.1h1" stroke="#000" stroke-width="1" stroke-opacity=".3"/>
<path d="M101.9 239.1h1M107.9 233.6h1M105.3 238.2h1M107.1 237.8h1M109.2 233.8h1M110.9 234.1h1M106.1 239.1h1M108 231.8h1M103.6 237.7h1M107.8 235.2h1M105.3 236.8h1M104.1 235h1M105.7 235.2h1M108.3 235.8h1M104.1 236.2h1M103.7 236.7h1M104.6 237.3h1M108 237.3h1M110.6 234.2h1M101.7 238.2h1M101.2 237.5h1M106.5 236.6h1M103 238.3h1M109.3 235.4h1M99.4 236.8h1M106.1 237.7h1M109.4 236.1h1M107.1 234.2h1M109.3 233.8h1M101.7 239.6h1M107 233.9h1M102.3 235.6h1M102.9 236h1M107.2 237.2h1M95.9 235.4h1M105 237.5h1M107.3 234.9h1M107.1 238.4h1M111.8 235.6h1M111.3 236.4h1M104.5 238.7h1M106.9 235.4h1M108.9 237.9h1M108.1 234.5h1M107.3 232.4h1M108.3 236.3h1M109 237.3h1M106.9 239h1M111.3 235.6h1M103.1 237.6h1M101.7 236h1M110.8 234.7h1M115 234.9h1M112.9 235.2h1M104 236.1h1M102 235.5h1M102.6 237.8h1M102.1 237.4h1M108.4 234.9h1M107.8 235.6h1M102.2 234.8h1M106.1 237h1M105.3 236h1M107.3 238.8h1M106.9 234.6h1M102.5 233.7h1M100 236.5h1M100.3 235.7h1M101.5 234.7h1M108.8 239.4h1M105.1 232.4h1M110.4 231.8h1M103.6 232.5h1M106 235.7h1M108.9 231.6h1M108.7 238.2h1M104.4 235.3h1M106.7 234.6h1M106.8 236.2h1M108.6 236.5h1M105.2 235.3h1M103.7 235.7h1M106.2 234h1M112.5 237.8h1M103.7 237.6h1M108.6 235.2h1M105.5 235.9h1M108.7 238.2h1M104 236.1h1M109.6 239.2h1M112.7 241.1h1M108.6 237.5h1M103.6 235h1M107.1 237.3h1M105.2 237h1M108.1 242h1M104.8 235.7h1M98 238.5h1M102.8 232.7h1M113.4 237.9h1M112 233.5h1M103 235.6h1M103.6 236.8h1M105.6 237.2h1M109.4 235.7h1M105.8 237.2h1M107.5 236.8h1M109.7 237.2h1M103.6 233.6h1M110.2 234.2h1M106.9 235.7h1M107.9 237.3h1M105.5 238.2h1M111.6 235.2h1M109.7 234.9h1M102 235h1M103.2 237h1M108.2 235.8h1M107 234.7h1M107.1 242.3h1M109.1 236.4h1M106.1 235.9h1M102.1 234.1h1M107.7 236.9h1M110.9 234.7h1M107.3 237h1M110.8 239h1M111.1 237.2h1M109.2 233.7h1M107.8 240h1M109.7 236.4h1M105.5 236.6h1M109.1 235.1h1M112.5 237.1h1M109.2 235.9h1M108.1 238.8h1M105 236.4h1M114.2 235.6h1M109.7 234.7h1M113.9 240.3h1M98.3 236.6h1M102.3 232h1M107.2 236.5h1M104.9 233.4h1M108.4 235h1M110.8 235.5h1M101.4 238.2h1M103.5 235.9h1M105.9 234.1h1M107.8 236.3h1M106.3 236.1h1M104.8 238.8h1M103.7 233.4h1M111.9 237.1h1M104.1 235.8h1M107.9 235.4h1M107.6 237.2h1M112 235.6h1M107.4 238.1h1M114.7 238.5h1M108.2 235.4h1M103.5 232.1h1M104.3 233.8h1M104.1 235.8h1M110.2 234.8h1M107.9 236.1h1M113.2 239.4h1M107.6 237.2h1M107.9 238.3h1M98.6 233.4h1M111.4 237.3h1M104.4 235.4h1M111 233.7h1M111.4 235.5h1M106.1 234.8h1M107.6 238.6h1M105 234.5h1M108.6 237.4h1M103.6 236.6h1M116 236.3h1M109.5 232.6h1M111.3 231.3h1M107.7 236.1h1M107.4 238h1M112.2 235.8h1M91.3 238.1h1M104.9 236h1M93.5 233.9h1M103.6 228.3h1M106.6 239.2h1M111.3 238.9h1M106.7 231.8h1M109.6 230.6h1M110.5 235.2h1M104.4 234.7h1M108.7 235.8h1M112.4 235.7h1M101.7 235.8h1M106.9 233.6h1M101.5 236.6h1M80 237h1M96.6 236.3h1M87 237.2h1M96 237.5h1M89.5 237.4h1M88.7 237.4h1M95.4 236.7h1M98.5 237.4h1M97.5 236.7h1M94.1 235.8h1M78.6 237h1M112 208.4h1M110 205.7h1M108.9 219.1h1M110.9 212.7h1M111.9 212h1M108.3 202.5h1M112.6 223.7h1M82.9 213.7h1M117.5 218.7h1" stroke="#000" stroke-width="1" stroke-opacity=".3"/>
<path d="M108.3 238h1M112.3 241.2h1M110.9 238.2h1M102.5 231.8h1M108.4 232.8h1M110.6 237.4h1M104.2 234.2h1M104.6 238.9h1M107.7 234.2h1M107.1 235.7h1M106 233.5h1M105.1 238.3h1M108 236.2h1M105.6 235.2h1M107.9 238.8h1M100.8 236.1h1M106.1 234.9h1M110.6 237.4h1M109 236.9h1M109.1 239.8h1M108.1 235.1h1M102.5 235.3h1M109.4 238h1M104.9 239.5h1M101.5 236.6h1M102.5 234.7h1M101.1 240.4h1M103.8 233.9h1M108.1 237h1M106.3 238.4h1M109.9 234.4h1M109 231.1h1M104.4 237.3h1M107.1 234.3h1M106.7 237h1M113 236.9h1M108.6 236.3h1M107.7 238.9h1M104.1 237.3h1M109.3 234.2h1M107.8 236h1M107.1 235.2h1M107.6 236.3h1M101.6 241.8h1M104.9 233.6h1M102.2 237.1h1M100 236.6h1M104.7 236.7h1M102.4 233h1M107.5 236.4h1M112.3 239.2h1M110.3 238h1M113.5 237.3h1M105.6 230.8h1M107.2 237.9h1M111.8 233.4h1M107 234.7h1M109 237.2h1M106.6 238.5h1M107 235.7h1M104 237.3h1M114.7 237.6h1M111.4 236.5h1M105 237.6h1M106 233.7h1M110 236.2h1M110.6 235.2h1M105.4 237.7h1M103.5 238.6h1M109 238.3h1M105.5 234h1M111.4 236h1M102.8 237.1h1M110.2 235.7h1M109 237.1h1M106.9 235.6h1M108.8 237.9h1M108.4 236.3h1M109.9 235.2h1M108.5 239.7h1M104.1 234.7h1M104.2 238.3h1M104.6 235.5h1M106 239.9h1M107.1 236h1M101.3 235.2h1M99.9 234.6h1M101.7 236.7h1M107.9 237.1h1M110.9 237.7h1M108.4 237.6h1M112.1 239.5h1M106.7 238h1M101.1 233.9h1M108.9 235.5h1M112.9 236.6h1M102.6 235.3h1M103.9 237.8h1M105.7 240.3h1M113.5 231.6h1M105.1 233.7h1M106.2 237.1h1M107.1 236.9h1M105.9 238.5h1M109.1 234.7h1M105.2 234.5h1M105.7 237.1h1M104.5 236.2h1M105.3 234.1h1M108.5 236h1M101.4 238.4h1M103.7 234.7h1M109.7 236.9h1M110.4 235.6h1M107 235h1M108.7 237.1h1M108.3 236.3h1M112 236.7h1M101.7 237.1h1M109.3 236.2h1M111.6 236.1h1M110 234.3h1M111.5 237.7h1M104.6 238h1M102.3 236.1h1M110 237.1h1M107.7 234.5h1M106.7 235.7h1M97.3 238.8h1M106.6 234.7h1M107.4 237.2h1M106.2 233.4h1M109.9 236.7h1M107.8 235.6h1M108.6 237.5h1M101.5 236.5h1M104.5 235.1h1M108.8 237h1M108.4 235.4h1M109.4 234.9h1M110.7 236.8h1M105.4 235.3h1M101 237.6h1M109.4 240.9h1M111.1 235.9h1M102.8 234.3h1M107.6 236.3h1M109.2 235h1M104 233h1M104 237.6h1M108.3 237.7h1M108.7 234.9h1M104.9 235.4h1M109.8 236.7h1M101.8 239.7h1M109.4 236.7h1M104.5 237.7h1M103.6 234.7h1M107.9 236.4h1M110 237.5h1M109.6 235.2h1M113.1 235.2h1M100.9 236.8h1M107.5 240.5h1M105 237.8h1M104.1 238.2h1M105.9 235.6h1M106.8 233.9h1M104.8 238.6h1M108.5 236.2h1M104.3 234h1M103.2 239.8h1M103.5 235h1M99.2 237.3h1M108.1 239.2h1M110.2 238.6h1M108 240.3h1M112.8 236.7h1M105.3 235.7h1M100.5 236.4h1M103.4 234.3h1M112.7 240.3h1M100.4 233.5h1M100.6 236.1h1M106 235.9h1M103.1 232.7h1M94.1 231.8h1M104.5 232.9h1M103.4 234.9h1M111.2 241.8h1M105.9 237h1M119.5 234.8h1M112 234.4h1M102.5 238.3h1M105.7 236.5h1M110.5 233.5h1M99 234.9h1M106 233.9h1M106 234.3h1M99.7 230.8h1M85.5 239h1M92.8 237.7h1M87.6 238.1h1M76.1 236.9h1M78.9 237.9h1M98.4 232.4h1M79.4 238.2h1M78.5 237.4h1M88.2 235.6h1M84.8 237.8h1M77.5 236.7h1M108.6 211.6h1M110.1 221.7h1M107 203.1h1M110.5 212.4h1M112.5 187.7h1M107.3 213.5h1M107.2 211.6h1M107.9 233.4h1M84.1 209.8h1" stroke="#000" stroke-width="1" stroke-opacity=".3"/>
<path d="M103.9 238h1M108.9 236.5h1M108.9 238.5h1M107.6 238.5h1M103.2 236.9h1M105.7 236.6h1M108.8 237h1M112.9 235h1M101.6 240.3h1M100 234h1M106.5 236.2h1M105.8 236.3h1M105.2 239.2h1M100.1 234.9h1M108.6 237.2h1M105.5 237.2h1M107.4 238.3h1M102.7 233.6h1M109.2 238.6h1M103.8 235.4h1M99.4 237.6h1M105.6 235.5h1M104.7 237h1M102.4 235.6h1M99 235.6h1M106.5 239.8h1M106.1 237.1h1M102.1 235.2h1M107.6 235.2h1M110.1 237.9h1M106.9 234.9h1M109.5 240.7h1M114.6 236.7h1M109.1 238.2h1M101.6 235.9h1M107 234.8h1M109.1 238.9h1M106.1 235.9h1M109.5 239.8h1M103.4 237.5h1M108.8 236.2h1M106.4 235.8h1M109.7 236h1M112 239.8h1M113.2 234.1h1M103 238.5h1M103.5 235.4h1M115.8 236.4h1M107.2 238.5h1M113.6 237.1h1M96.2 232.9h1M104.9 239.5h1M104.3 235.1h1M108.4 238.3h1M106.9 241h1M112.8 236.7h1M110.8 238.1h1M101 235.6h1M104.9 236.4h1M108.8 235.5h1M105.6 235.8h1M104.8 236.4h1M110.8 236.4h1M103.5 238.3h1M109.2 236.3h1M106.5 235.4h1M101.9 237.4h1M108.3 232.8h1M106.1 233.7h1M105 239h1M106.9 235.5h1M107.9 234.7h1M111.1 234.6h1M105.4 236.6h1M107.4 233.7h1M111.9 235.2h1M107.5 238.5h1M101.7 234h1M108.1 235.1h1M104.5 234.4h1M105.7 236.1h1M102.8 234.3h1M103.8 235.6h1M107.1 238.5h1M105 239h1M110.8 235.6h1M104.6 236.1h1M106.3 237.5h1M102.9 235.6h1M103.5 240.7h1M106.7 237.8h1M102.4 234.6h1M106.1 235.8h1M100.3 238.5h1M101.4 238.5h1M99.8 236h1M110.6 237.1h1M106.6 238.2h1M107.7 233.7h1M109.1 237.8h1M104.6 236.9h1M101.3 238.4h1M105.3 238.6h1M104.5 237.4h1M107.4 233.3h1M105.3 235.8h1M112.2 237h1M103.9 238.8h1M105.8 236.7h1M106.4 233.9h1M106 234.3h1M102.6 236.5h1M102.2 237.1h1M105.3 235.7h1M102.5 236.3h1M108.4 236h1M101 236.7h1M104.6 233.5h1M104.9 234h1M103.6 233.9h1M105.2 236.1h1M107.4 238.1h1M108.6 235.1h1M101.1 232.9h1M105.6 235.8h1M108.6 236.2h1M105.2 234.3h1M100.6 235.7h1M111.2 236h1M112.9 239h1M106.1 234.5h1M109.8 236.7h1M106.2 239.2h1M106.5 235.6h1M108 234.9h1M108.7 233.9h1M110.6 236.3h1M105.9 237.4h1M103 234.7h1M106.5 236.6h1M108.2 236.2h1M107.1 238.5h1M109.4 236.2h1M104.1 236.1h1M104 236h1M111 237.3h1M106.1 238.5h1M108.5 236.4h1M103.8 235.6h1M106.4 235.9h1M112.2 237.9h1M103.5 238.9h1M107.6 233.3h1M104.7 236.7h1M103.9 236.6h1M106.5 236.4h1M115.2 237.3h1M106.3 236.1h1M100.1 239.2h1M105.3 234.3h1M105.7 237.3h1M106.5 236.9h1M107.6 235.6h1M106.6 237.6h1M110 237.9h1M99.8 236h1M108.6 234.9h1M101.5 239.6h1M107.4 236.7h1M106.2 235.7h1M109.4 237.2h1M107.8 237.1h1M103.8 237h1M107.6 237.4h1M106.8 234.9h1M109.1 236.2h1M100.9 235.5h1M110.8 235.4h1M100.8 239.1h1M109.4 239.4h1M107 238.2h1M104.9 241.2h1M103.8 234.6h1M97.5 229.8h1M111.8 240.3h1M119.2 241.5h1M98.3 229h1M114.2 235.1h1M95.5 232.4h1M112.3 233.8h1M106.8 236.2h1M102.9 234.6h1M97.4 239.9h1M106.2 235.7h1M92.5 235.4h1M105.2 236.4h1M104.8 232.3h1M112.2 230.1h1M99.8 235.1h1M108.5 229.2h1M100 234.4h1M83.7 235.4h1M100 232.8h1M78.8 235.9h1M82.8 237.1h1M90.5 238.1h1M84.8 235.6h1M84.4 238.7h1M83.7 239.3h1M95.9 236.8h1M86.1 236.7h1M108.5 206.7h1M109 213h1M107.4 223.2h1M108.4 211.8h1M109.9 215.5h1M109.7 216.6h1M108.9 214.3h1M98.1 235.1h1M97.4 207.8h1" stroke="#000" stroke-width="1" stroke-opacity=".3"/>
<path d="M106.6 236h1M103.4 234.5h1M112.3 234.9h1M105.4 239.2h1M107.7 234.4h1M106.6 236.6h1M108.2 234.8h1M98.5 237.5h1M108.6 236.9h1M104.7 235.6h1M104 237.9h1M105.6 237.6h1M105.1 235.1h1M102.1 233.6h1M111.1 237.9h1M108.8 239h1M105.4 236.7h1M106.3 239.6h1M99.3 238.3h1M109.8 236.1h1M107.3 234.9h1M107.6 236.6h1M113.3 234.1h1M105.7 234.3h1M109.2 237.1h1M102.9 237h1M109 235.1h1M107.5 237.5h1M111.2 236.7h1M105.1 234.4h1M110.9 235.5h1M105.9 238.3h1M102.3 239.6h1M104 233.3h1M107 237.8h1M102.3 239.9h1M104.6 238h1M108.6 232.3h1M111.6 235.2h1M106.9 238.2h1M107.4 236.5h1M107.7 234.8h1M108.8 233.3h1M106.6 235.3h1M105.3 237.2h1M106.6 236.8h1M101.2 233.4h1M109.4 234.3h1M104 235.7h1M110.5 234.2h1M111.3 238h1M111 238.2h1M111.9 237.1h1M113.8 235.3h1M107.8 237.5h1M107.6 238.8h1M114.4 237h1M106.3 236h1M101.7 234.2h1M105 233.9h1M103.4 235.9h1M110.7 237.3h1M101.5 238.7h1M104.7 237.7h1M110.8 236.4h1M104.9 236.4h1M104.5 236.4h1M102.8 235.6h1M108.4 238.1h1M104.3 237h1M104.3 235.8h1M108.8 237.5h1M104.7 234.4h1M110.4 239h1M107.1 235.4h1M105.7 237h1M106.7 239.3h1M105.5 238.1h1M107.1 238.4h1M109.4 237.1h1M107 237.9h1M105.5 235.7h1M105.5 237.5h1M105 234.1h1M111.4 238.4h1M112.3 234.1h1M104.1 240.1h1M104.6 236.6h1M102.9 234.6h1M109.3 238h1M106.3 236.2h1M107.3 233.4h1M107.4 235.7h1M104.4 238.8h1M103 237.7h1M107.5 237.1h1M104.9 235.7h1M104.8 240.9h1M101.4 237.1h1M111.6 237.5h1M107.2 237.1h1M106.3 233.6h1M100.5 236.4h1M107.6 233.5h1M105.5 238.7h1M103 236.1h1M106.9 236.2h1M104.2 233.5h1M105.1 236.7h1M105.1 236.1h1M103.4 236.9h1M99.5 241.4h1M106.9 235.8h1M106.3 235h1M105.4 238.1h1M108.7 238.4h1M106 235.7h1M105.4 236.3h1M110 238.5h1M103.9 236.7h1M110.3 237.3h1M103.4 233h1M108.5 235h1M108.4 236.1h1M99.3 237h1M104 237h1M107.8 236.4h1M105.1 234.8h1M105.6 236.9h1M111.5 234.7h1M104.3 239.3h1M112.3 237.8h1M103.5 239.4h1M105.5 237.8h1M102.7 239.4h1M109.2 239h1M109.7 233.5h1M106.6 237.2h1M116.7 236.5h1M103 241h1M100.9 237.4h1M103.7 233.6h1M105.7 237.1h1M107.6 235.1h1M110.5 235h1M107 235.7h1M105.1 239.1h1M111.1 237.9h1M107.5 238h1M106.3 235.9h1M101 234.9h1M109.2 232.7h1M107.5 235.7h1M101.4 237.2h1M105 236.6h1M110.2 236.3h1M107 234.9h1M109.7 235.1h1M106 234.3h1M102.3 238.2h1M107.1 236.8h1M104 235.5h1M110.7 231.6h1M109.4 234.7h1M113.3 238.1h1M101.8 235.7h1M101.6 238h1M97.1 234.6h1M108.1 236.9h1M108.7 235.2h1M106.4 237.4h1M109.3 235.9h1M109.8 235.7h1M108.3 236.3h1M109.8 236.8h1M108.7 238.5h1M107.3 235.1h1M103.6 235.4h1M108.6 241.6h1M109.9 239.5h1M105.7 234.1h1M101.4 238.1h1M105.1 233.3h1M95.5 234.3h1M97.5 235.8h1M112.1 236.2h1M99 234h1M112.5 237.1h1M98.1 242.6h1M109.6 238.8h1M108.1 234.3h1M106 235.2h1M98 237.6h1M100.8 231.3h1M104.8 234.1h1M105.1 231.7h1M102.3 235.8h1M107.1 237.3h1M101.2 238h1M112.7 233.8h1M98.5 235.6h1M88.1 233.8h1M88.1 237.1h1M77.7 234.7h1M80.6 236.5h1M77.2 237.6h1M87.7 237.9h1M87.8 238.3h1M99.5 234.9h1M96.6 237.3h1M94.4 234.4h1M109.5 213.9h1M107.5 209.5h1M110.9 214.5h1M110.7 217.9h1M111 202.5h1M112.5 218.8h1M118.9 227.5h1M100 213.2h1M95.8 210.6h1" stroke="#000" stroke-width="1" stroke-opacity=".3"/>
<path d="M106.8 237.1h1M102.7 238.1h1M107.6 235.3h1M114.1 236.7h1M106.9 238.9h1M106.1 235.2h1M105.4 238.4h1M102.5 235.8h1M101.2 240.5h1M108.1 239.6h1M108 236h1M106.2 238.1h1M105.6 239.2h1M105.2 237.6h1M108.2 237.6h1M98.9 237h1M110.1 236.2h1M106.7 235.8h1M108.2 235.1h1M107.9 231.8h1M107 235.5h1M105.8 236.3h1M109.2 236.1h1M108.5 234.3h1M110.1 239.6h1M104.2 237.9h1M105 235.2h1M100.7 237.7h1M104.6 233.2h1M106 236.8h1M103.5 235.9h1M106.1 233.1h1M105.6 235.8h1M104.5 236.9h1M109.2 239.6h1M106.2 239.2h1M107.9 235.6h1M104.8 239.4h1M109.4 235.6h1M114.1 235.4h1M102.1 238.1h1M106.2 235.8h1M102.6 235.2h1M107.4 236.1h1M105.5 237h1M109.9 235h1M105.2 237.2h1M103.1 235.7h1M102.9 235.1h1M106.4 238.9h1M111.2 231.2h1M105.1 237h1M104.4 236.1h1M105.7 235.7h1M108.5 236.3h1M107.5 235.6h1M102.4 236.7h1M109.9 235.7h1M108.7 238.6h1M104 233.7h1M105.5 234.9h1M105.7 236.6h1M104.8 236.2h1M102.5 239.1h1M105.9 234.9h1M107.4 234.2h1M112.5 236.4h1M104.2 235.2h1M101.1 234.2h1M99.7 235.7h1M105.3 236.4h1M104.7 234.3h1M107.9 234.9h1M105.5 234.1h1M103.5 237.5h1M105.3 234.6h1M109.9 234.3h1M106.7 236.7h1M104.1 237.3h1M113.6 235.2h1M103.8 236.2h1M103.7 238.4h1M115.3 235.1h1M111.3 234.8h1M102.5 239.4h1M109 236.2h1M105.5 236.8h1M103.5 235.7h1M114.7 238.6h1M108 237.1h1M108.9 233.3h1M108.8 236.2h1M100.5 238.1h1M108.1 235.6h1M101.6 234.7h1M107.2 234.6h1M109.3 235.4h1M108.4 236h1M108.7 236h1M107.9 237h1M109 237.2h1M106 237.4h1M101.1 232.9h1M110.5 235.3h1M104.8 236.7h1M103.2 235.5h1M107.6 237.5h1M105.7 234.9h1M105.1 239.3h1M99.3 236.4h1M104.6 237.6h1M105.5 238.5h1M105.6 237.6h1M104.4 236h1M108.6 236.5h1M100 237.3h1M109.7 232.6h1M111.5 237h1M107.8 233.5h1M105.5 237.2h1M110.2 238.2h1M101.7 238.3h1M108.2 235h1M106.3 235.5h1M111.9 237h1M105.1 237.3h1M107 233.1h1M109.8 232.8h1M110.1 236.5h1M104.6 233.9h1M103.5 234.3h1M104.7 235.6h1M105.4 240.1h1M109.4 238.5h1M104 235.3h1M106.8 237.2h1M102.7 234.8h1M100.8 234.5h1M106.4 238.6h1M106.8 235.4h1M109 234.5h1M106.4 237.6h1M108.2 237.3h1M112.4 236.7h1M106 237.9h1M110.3 235.5h1M104.2 238h1M107.5 236h1M109.5 233.2h1M107.7 238.3h1M102.5 236.9h1M104.2 237.3h1M101.3 238.5h1M109.4 237.1h1M99.4 234.5h1M111.8 236.6h1M104 234.9h1M107.7 238h1M105.5 236.6h1M106.9 239.2h1M107.3 238.2h1M107.5 236.4h1M108.8 234.2h1M108.2 235.6h1M106.6 238h1M105.1 234.9h1M105.2 239h1M109.3 239.5h1M103.5 239.1h1M101.6 233.5h1M108.6 237.2h1M109.4 236h1M110.2 237.9h1M106.6 234.9h1M103.9 236h1M106.8 237.3h1M107.2 237.9h1M105.2 237.9h1M115.7 236.5h1M107.3 233.7h1M105 236.1h1M102.3 235.3h1M106.3 237.3h1M107.4 241.8h1M103.1 235.5h1M101.6 239.8h1M104.8 235.2h1M104.3 238.4h1M113.5 237.3h1M109.9 242h1M110.4 236.6h1M116.1 234h1M106.1 233.5h1M103.2 236.3h1M111.8 238.9h1M105.4 234.2h1M102.4 236.7h1M104.5 235.2h1M101.2 239.5h1M115.4 236.1h1M86.1 237.6h1M87 236.1h1M88.9 237.9h1M87.2 238h1M93 237.6h1M90.5 234.4h1M102.1 235.7h1M89.9 237.5h1M85.2 237.2h1M101.2 236.1h1M110.8 215.7h1M108.3 218.1h1M107.8 205.8h1M105.8 210.2h1M108.7 203.7h1M108.2 225.7h1M112.8 213.2h1M103.7 218.8h1M89.5 217.5h1M97.4 210.2h1" stroke="#000" stroke-width="1" stroke-opacity=".3"/>
</g>
<rect x="99.2" y="199.4" width="27.5" height="27.2" fill="none" stroke="#707070" stroke-width="1"/>
<text x="113.15" y="199.1" font-size="6.9" text-anchor="middle">2.27</text>
<rect x="145.5" y="182.4" width="72" height="71.9" fill="none" stroke="#909090" stroke-width="1.1"/>
<g filter="url(#bl)">
<ellipse cx="191" cy="235.2" rx="4.2" ry="3" transform="rotate(-6 191 235.2)" fill="#000" filter="url(#bl2)"/>
<ellipse cx="184" cy="236.6" rx="4.5" ry="1.7" transform="rotate(-4 184 236.6)" fill="#000" filter="url(#bl2)"/>
<path d="M180.8 236.2h1M192.8 235.4h1M187.6 235.5h1M194.5 237.9h1M181.4 236.3h1M193.2 236.3h1M184 237.6h1M192.7 237.6h1M168.6 236.6h1M189 236.2h1M176.3 237.2h1M169.4 238.9h1M180.7 235.2h1M183.5 236.5h1M189.6 233.9h1M178.9 236.4h1M194.6 234.9h1M191.8 234.5h1M193.1 235.1h1M192.4 236.2h1M184.4 235.5h1M180.7 237h1M193.4 235.7h1M195.3 233.4h1M179.6 236h1M169.3 236.6h1M186.6 237.4h1M178.1 236.2h1M180.3 237.4h1M184.6 233.6h1M187.9 239.6h1M184.8 238.2h1M192.4 235.5h1M192.9 232.5h1M192.9 237.7h1M192.4 233.9h1M182.2 235.9h1M195.1 236.1h1M187.9 235.9h1M192.4 232.2h1M192.1 234.7h1M172.5 236.5h1M192.9 234.3h1M173.7 238.6h1M165.7 238.2h1M187.9 238.1h1M184.2 235.1h1M184.8 236.4h1M171.4 235.6h1M189.2 235.9h1M191.2 237.2h1M186.9 235.1h1M172.3 235.1h1M179.2 237.4h1M190 240.9h1M192.8 236.8h1M182.3 236.8h1M187.8 239.2h1M183.4 233.9h1M171 237.7h1M180.3 238.1h1M175.1 234.9h1M190.2 234.1h1M184.6 234.6h1M191.3 235.1h1M191.9 236.2h1M191.9 234.8h1M177 234.5h1M192.5 233.2h1M195 234.1h1M196.7 234.7h1M173.3 236.5h1M189.7 237.5h1M190.5 238.4h1M181.3 233.7h1M187.8 238h1M187.2 236.8h1M187 237.4h1M186.2 237.4h1M188 236h1M183.2 235.3h1M186.5 237.7h1M189.6 234.6h1M183.6 237h1M181.8 234.9h1M189.6 235.1h1M195.5 236.9h1M188.5 235.3h1M183.7 236.7h1M188 236.2h1M191.2 234.8h1M187 235.6h1M190.9 239.2h1M188.6 234.4h1M188 237.7h1M193.9 233.9h1M193.9 231.9h1M195.5 236.5h1M183.9 235.6h1M190 237.6h1M192.2 235.1h1M184.3 238.7h1M187.4 236.4h1M185.9 237h1M195 236h1M187.2 236.3h1M192.1 237.8h1M186.6 234.6h1M185.4 235.8h1M184.4 236h1M190.1 235.1h1M192.4 231.5h1M187.4 233.8h1M189.6 238.9h1M191.6 234.6h1M187.9 235.1h1M191.5 233h1M187.8 236.7h1M187.8 239.2h1M194 235.6h1M198 232.9h1M192.4 236.6h1M191.5 236.4h1M191.4 235.5h1M189.4 233.3h1M190.3 234.6h1M189.4 234.6h1M190.4 235.2h1M196.8 234.7h1M186.7 237.3h1M184.8 234.3h1M189.3 235.8h1M187.3 236.4h1M185.4 237.8h1M187.7 238.2h1M190.7 234.3h1M194.3 234.9h1M190.2 234.2h1M182.8 232.8h1M189.6 240.5h1M188.3 236.8h1M194.5 234.7h1M194.1 238.2h1M183.4 233.6h1M190.4 235h1M186.2 233.4h1M188.7 232.8h1M190.7 238.5h1M186.3 237.4h1M187.7 233.1h1M191.9 237.2h1M193.5 232.7h1M187.4 239.8h1M191.4 235h1M190.9 233.4h1M190.3 235.4h1M190.2 236.8h1M184.8 233.4h1M182.8 236.6h1M188.1 241.3h1M185.8 236.5h1M187.8 235h1M183.7 237.4h1M187.9 235.3h1M188.3 238.4h1M190.9 237.9h1M194.3 233.8h1M185.2 234.8h1M185.3 237.3h1M185.6 235.7h1M187.1 234.7h1M191 237.2h1M187.6 236.6h1M187.3 236.3h1M185.4 237.2h1M190.5 212.5h1M193.1 215.9h1M192.3 222.5h1M193 212.5h1M192.6 219.4h1M190.2 219.8h1M194.6 227.3h1M190.8 219.4h1M190.7 214h1M192.6 216.3h1M189.9 214.1h1M190 223.7h1M191.3 208.6h1M194.1 211.7h1M190.8 215.2h1M189 223.6h1M191.2 221.5h1M191.8 214.9h1M191.5 219.1h1M194.1 214.8h1M194.3 233.3h1M187.2 236.9h1M200.7 226.6h1M168.9 208.1h1M175.4 244.5h1" stroke="#000" stroke-width="1" stroke-opacity=".3"/>
<path d="M188.2 232.9h1M187 236.6h1M195.3 231.5h1M173.1 236.3h1M193.7 234.9h1M191.6 235.4h1M186.8 233.6h1M191.3 233h1M188.1 233.8h1M190.4 238.3h1M187.3 237.2h1M174.6 236.4h1M195.5 234.3h1M181.7 236.7h1M183.9 232.6h1M183.1 236.2h1M183.1 237.3h1M192.9 232.4h1M182.8 235h1M188.4 236.5h1M191.6 234h1M190.3 238h1M193.4 235.3h1M180.2 236.1h1M171.1 237.5h1M171.9 237.8h1M171.6 237.5h1M188.5 235.2h1M181.6 238.5h1M193.2 235.2h1M179.1 235.3h1M170.5 238.7h1M185.3 236.2h1M193.8 231.3h1M187.9 240h1M196.2 236.6h1M179.4 238h1M185.9 239.1h1M184.9 234.5h1M188.5 235.1h1M195 237h1M171.8 238.4h1M170.8 234.9h1M167 237.3h1M195.3 234.2h1M187 234.5h1M176.3 238h1M192.3 232.2h1M191.1 234.5h1M189 235.5h1M189.5 234.1h1M192.2 234.2h1M162.6 237.3h1M187.5 235.3h1M188.5 234.4h1M175.1 236.4h1M170.1 237.5h1M188.5 232h1M195.8 230.8h1M195.5 236.9h1M192.2 233.4h1M187 238.1h1M187.3 234.1h1M190.4 233.8h1M194 235.6h1M187.9 235.3h1M184.4 235.9h1M195.7 239.7h1M180.8 235.6h1M183.8 237.9h1M195.7 232h1M165.5 238.2h1M194.4 236h1M187.9 234.7h1M183.1 233.2h1M188.3 233.6h1M188.6 233h1M190.7 234.9h1M181.8 238.5h1M189.5 234.3h1M182.6 234.7h1M183.1 230.1h1M186.6 234.6h1M186.3 234.8h1M182.7 237.8h1M182.1 237.5h1M181.6 235.3h1M196.3 235.4h1M187.1 236.3h1M186.8 232.8h1M180.6 233.4h1M187.6 233.9h1M193.8 235.9h1M186.8 233.6h1M186.4 238.4h1M188.1 233.8h1M191.3 235.1h1M182.2 238.3h1M191.9 234.4h1M187.1 235.4h1M195.7 235.4h1M195.5 231.4h1M186.4 235.7h1M188 235.9h1M187.7 238.8h1M194.4 233.7h1M184.3 236.8h1M186.3 235.3h1M188.1 238.8h1M190.3 234h1M195.8 237.2h1M188.8 237.4h1M187.1 238.1h1M189.5 236.7h1M188.8 235.6h1M179.8 240.1h1M182.8 234.7h1M188.1 234.4h1M185 236.4h1M186.3 237.9h1M190.1 241.8h1M190.8 233.7h1M196 230.9h1M184 235.8h1M193.9 235h1M184.1 234.6h1M187 235h1M179.9 240.4h1M187.3 234.4h1M186.4 233.8h1M193.1 241.6h1M187.6 239.2h1M188 236h1M198.6 233.6h1M184.1 238.7h1M184.4 236h1M185.5 238.2h1M192.4 238.5h1M187.2 237h1M185.4 234.1h1M192.7 237.4h1M184.4 235.4h1M185.5 236.6h1M184.6 234.8h1M193.9 232.6h1M191.9 234.9h1M187.4 234.7h1M191.9 237.2h1M185.2 236h1M188.8 232.4h1M183.4 234.7h1M190.4 234.8h1M182.3 234.8h1M200.2 235.6h1M193 236.7h1M189 233.4h1M190.3 232h1M195.3 234.7h1M191.4 237.7h1M192.3 235.5h1M188.3 236.7h1M186.6 234.3h1M187.9 237.8h1M186.9 237.1h1M179.9 235.2h1M191.9 234.1h1M187.5 234h1M185.2 237.6h1M184.3 238.4h1M188.8 236.2h1M191.6 234.1h1M186.2 237h1M179.9 236.7h1M184.7 236.1h1M188.2 235.9h1M195.9 215h1M190.7 211.7h1M190.5 226h1M190.7 214.9h1M192.6 219.3h1M191.1 211.5h1M192.2 214.4h1M188.3 222.9h1M190.4 217.9h1M192 220.4h1M193.4 214h1M188.4 220.9h1M192.6 216.3h1M189.5 220.3h1M190.7 227.2h1M190.7 212.8h1M188.5 218.1h1M188.4 214.7h1M188.7 226.4h1M194.1 213.2h1M209.8 229.7h1M166.2 233.4h1M158 227.4h1M173.1 225.2h1" stroke="#000" stroke-width="1" stroke-opacity=".3"/>
<path d="M176.2 238.1h1M191.2 237.8h1M173.3 236.7h1M188.4 234.9h1M191.7 234.1h1M184.5 233.1h1M195 233.4h1M167.1 236.9h1M194.3 235.6h1M187.1 235.3h1M191.1 235.2h1M174 237h1M181.4 236.5h1M193.9 233.4h1M164.7 238.2h1M175.7 238.9h1M176.2 234.7h1M178.8 239h1M185.4 237.1h1M196.1 232.1h1M174 237.4h1M191.3 232.7h1M183.2 236h1M178.4 234.2h1M192.7 231.1h1M192.2 236.7h1M186.1 236.1h1M175 237.9h1M173 236.5h1M178.2 238.5h1M186.4 234.3h1M171.1 237.8h1M190.8 236.9h1M175.8 236.3h1M194.7 234.9h1M174.9 235.8h1M187.2 236h1M175 236.7h1M195.7 235.6h1M187.9 233h1M192.7 233.3h1M188.7 237.6h1M193.3 235.7h1M190.3 237.8h1M175.8 237.6h1M174.6 235.9h1M195 232.6h1M196.6 236.1h1M173.9 236.1h1M188.6 234.7h1M190.6 233.6h1M182.6 235.7h1M191.5 234.3h1M182.1 237.8h1M193.1 236.2h1M197 236.9h1M168.9 238.1h1M185.7 237.3h1M191.5 232.8h1M173.8 237.2h1M170.2 237.7h1M195.3 234.7h1M193 236.1h1M193.1 234.5h1M194.9 231.5h1M187.4 237.1h1M177.3 236.6h1M182.6 237.2h1M186 235.3h1M195.5 235.8h1M188.8 236.7h1M195.2 239.4h1M166.5 238.1h1M196.3 234.8h1M186.3 232.9h1M183.8 235.4h1M187.5 232.9h1M180.6 239.1h1M188 233.4h1M196.1 234.1h1M185.3 236h1M189 236.4h1M189 235.6h1M180.9 234.3h1M182.3 234.9h1M190 237.8h1M187.8 235.3h1M192.8 236.7h1M184.2 234.9h1M192.5 235.3h1M195.3 238.1h1M191.6 236.3h1M188.8 235.8h1M197.9 236.1h1M192.2 232.7h1M185.1 235h1M188 236.9h1M186.7 235.9h1M183.1 235.6h1M181.2 236.1h1M188 233.2h1M192.6 235.8h1M181 236.3h1M187.8 233.4h1M183.6 238.1h1M193.4 235.7h1M190 236.2h1M191.4 234.5h1M190.2 236.5h1M182.2 233h1M187 237.2h1M187.3 236.3h1M181.7 234.8h1M188.2 240.2h1M190.9 235h1M187.7 233.9h1M188.4 234.3h1M191.8 236.2h1M183.6 236.4h1M188.7 235h1M192.3 235.3h1M195.5 233.4h1M187 236h1M188.9 236.9h1M185.3 236.5h1M189 233h1M193.7 234.6h1M180.6 234.1h1M187 236h1M192.9 233.3h1M188 235.7h1M186.1 237.4h1M184.9 236.5h1M188.2 237.3h1M195.6 233.6h1M190.5 233.5h1M190.1 236.3h1M187 236h1M188.8 231.3h1M190.4 237.3h1M186.7 236.7h1M191.4 237.3h1M187.3 235.3h1M185.5 236.6h1M185.3 235.7h1M193.2 235.2h1M191.7 237.1h1M186.2 234.6h1M190.9 236.6h1M186.3 237.2h1M194.2 236.6h1M186.3 235.8h1M187 233.7h1M189.8 234.8h1M183.6 239.1h1M194.5 236.2h1M186.2 239.2h1M185.8 235.2h1M191.5 236h1M188 238.1h1M193.6 233.9h1M183.7 237.9h1M187.4 233.3h1M193 234.2h1M189 230.3h1M188.5 234.1h1M183.8 235.3h1M192.8 232.3h1M191.8 231.8h1M187.4 235.5h1M187.8 237.4h1M188.8 235.5h1M186.4 235.9h1M192 237.8h1M190.9 234.7h1M188.7 217.8h1M190 222.5h1M190.2 212.9h1M191.8 213.8h1M193.2 211.9h1M190.2 221.8h1M187.7 217.9h1M190.6 210.9h1M189 215.2h1M191.6 216.4h1M194 216.1h1M190.9 218.9h1M193.1 209.8h1M190.2 211.5h1M189.4 212.8h1M191.7 219.3h1M189.6 215.5h1M190.9 214.5h1M193 208.8h1M190.6 213.4h1M201.7 239.2h1M205.6 218.7h1M174.1 211.3h1M175.9 236.2h1" stroke="#000" stroke-width="1" stroke-opacity=".3"/>
<path d="M193 234.1h1M196.8 235.4h1M195.2 236.1h1M172.4 236.8h1M195.7 234.6h1M195 232.3h1M197.3 231.6h1M196.2 236h1M190.3 238h1M174.7 236.5h1M186.3 236.8h1M189.3 235.8h1M179.9 236.7h1M197.5 236.7h1M181.9 237.9h1M180.9 235.2h1M169.7 236.1h1M190.5 236.3h1M180.6 234.7h1M185.6 237.6h1M186.5 236.1h1M191.9 235h1M193.2 236.3h1M187.9 234.3h1M169.1 237.8h1M187 233.8h1M185.1 239.2h1M180.8 237.6h1M183.1 234.9h1M173.6 236.7h1M191.9 234.1h1M181.1 236.8h1M190 236h1M181.2 235.3h1M182.6 234.2h1M170.9 238.3h1M187.3 236.4h1M192.7 235.9h1M180.6 237h1M190.7 235.5h1M192.3 233.1h1M167.2 237.7h1M175.3 237.9h1M190.8 235h1M188.6 237.3h1M172.1 237.5h1M192 233.2h1M191.3 235.6h1M193.9 236h1M182.4 233.7h1M186.5 236h1M183.7 236h1M181.4 234.9h1M189.2 233.9h1M186.4 237.7h1M192.6 229.2h1M193 239.2h1M175.1 237.3h1M195.2 232.2h1M185 235.7h1M173.8 238.7h1M181.6 239.4h1M195.1 232.8h1M183.2 236.7h1M192.4 235.1h1M192.4 234.9h1M182.2 236h1M192.2 234.4h1M177.9 237h1M173.2 236.4h1M186.2 235.9h1M185.1 237.3h1M185.5 239.2h1M190.3 235.7h1M190.7 234.9h1M189.9 235.5h1M187.8 230.3h1M186 233.9h1M190.6 235.8h1M184.3 235h1M190 237h1M186 233.1h1M186 235.2h1M192.3 235.2h1M191.3 234.8h1M192.7 233.1h1M187.3 236.8h1M188.9 235.2h1M192.3 236.3h1M186 237.2h1M186.5 237.9h1M193.5 234.1h1M194.2 234.4h1M191.4 237.7h1M185.4 234.5h1M187.7 235.3h1M189.7 232.9h1M188.9 232.9h1M196.2 233.9h1M193.5 232.9h1M188.8 236.4h1M188.2 234.2h1M193.9 234.7h1M185.6 238.6h1M189.3 235.2h1M188.2 235.1h1M185.4 237.6h1M183.9 234.4h1M186.8 236.2h1M187.2 236.2h1M185.7 236h1M186.4 235.9h1M191.9 237h1M192.7 233.5h1M191.5 233.8h1M188.4 239.9h1M195 237.6h1M185.5 239.4h1M197.8 234.9h1M190.2 236.6h1M194.1 235.3h1M190.7 236.3h1M189.3 236.2h1M189.2 233.6h1M192.6 234.6h1M186.1 236.1h1M191.1 235h1M187 236.7h1M185.7 237h1M189 231.9h1M188.1 238.4h1M193.7 231.3h1M193.1 235.5h1M193.6 239.2h1M188.5 236.4h1M185.2 236.6h1M187.2 237.1h1M187.9 235.3h1M187 235.2h1M192.4 233.7h1M187.9 237.2h1M188.4 235.9h1M184.4 237.1h1M186.3 236h1M193.7 235.5h1M188.8 239.2h1M185.9 236.5h1M198.7 233.6h1M186.3 237.2h1M190.9 232.9h1M191.3 236h1M187 234.8h1M196.1 236.1h1M187.5 235.2h1M193.8 233.4h1M188 234.6h1M190.9 236.7h1M183.4 238.6h1M180.5 236.1h1M185.1 235h1M182.8 238.7h1M186.3 234.3h1M183.3 235.9h1M185.8 234h1M189.4 233.2h1M184.9 237.9h1M193.6 235.2h1M193.3 234.2h1M185.4 242.3h1M187.1 233.4h1M186.2 237.7h1M189.8 235.9h1M188.9 235h1M188.8 237.2h1M188.8 232.7h1M191.1 221.2h1M190.2 216.3h1M192.1 212.8h1M191.5 210.5h1M192 211.8h1M192.1 213.3h1M192.2 205.8h1M189.2 213.9h1M191.2 217.9h1M193.3 216.7h1M192.7 216.4h1M194.1 219.7h1M192.9 214.4h1M187.6 213.9h1M191.4 216.2h1M191.6 212.6h1M189.6 216.9h1M193.3 215.8h1M188.6 208.7h1M193.4 213.6h1M193.9 208.7h1M167.7 230.9h1M164.9 230.4h1M182.2 205.1h1" stroke="#000" stroke-width="1" stroke-opacity=".3"/>
<path d="M178.1 237h1M172.7 237.1h1M186.2 235.8h1M177.3 239.2h1M180.2 234.9h1M185.2 235.7h1M190.2 235.9h1M170.2 237h1M190.9 235.2h1M194.8 233.2h1M183.4 237.3h1M196.2 232.2h1M192.6 235.2h1M192.9 236.1h1M194 233.1h1M187.1 234.9h1M187.9 235.6h1M188 233.4h1M192.9 233.9h1M174.2 235h1M184.4 236.1h1M193.5 232.6h1M192.3 234.5h1M181.2 235.8h1M175.7 238.1h1M183.3 235h1M181.3 235.7h1M191.6 235.1h1M192.9 237.8h1M192.7 237.6h1M178.4 235h1M191.3 236h1M190.5 235.8h1M191.3 236.6h1M189.5 234h1M180.1 237.5h1M190.9 237.4h1M167.3 237.7h1M179 236.4h1M181.6 237.1h1M166.1 237.5h1M196 238.3h1M190.5 236.8h1M187.1 235.5h1M193.6 235.4h1M193.5 236h1M171.7 236.7h1M196.5 229.4h1M180.1 236h1M192.1 235.6h1M180.8 236.8h1M193.6 235.3h1M175.3 236.9h1M184.2 237.6h1M194 236.1h1M183.8 233.9h1M193.1 235.5h1M191.9 234.3h1M188.4 235.7h1M195.6 233.8h1M186.3 237.6h1M193.7 234.5h1M166.5 237.7h1M171.2 239h1M178.6 235.7h1M180.7 235.7h1M188.7 234.4h1M180.3 234.7h1M191.7 238.6h1M177.7 235.5h1M195.7 241h1M186.7 238.1h1M189.2 234.6h1M185.7 233.1h1M194.9 236.2h1M182.6 237.8h1M189.2 235.2h1M190.8 238.7h1M185.9 238.6h1M188.1 235.2h1M186.2 237.1h1M188.2 234.2h1M187.6 233.7h1M184.4 234.4h1M187.7 236.2h1M189.7 237.5h1M187 238.9h1M189.8 234.2h1M188.8 237.6h1M184.9 234.6h1M187.6 237.3h1M191 234.8h1M190.4 234.6h1M187.2 237.9h1M186.8 234.7h1M184.8 236.1h1M189.6 238.5h1M190.5 235.8h1M185 235.8h1M190.3 233.8h1M186.3 235.4h1M188.2 234.9h1M187 234.2h1M188 233.8h1M190.9 237.1h1M191 235.7h1M182.9 238.1h1M188.1 234.9h1M190.5 233.4h1M187.5 234.5h1M186.2 235.4h1M189.8 234.8h1M188.6 236.9h1M187.3 239.6h1M192.1 235.6h1M190.9 237h1M188 234.6h1M188.9 236.3h1M183.9 237h1M193.2 235.2h1M188.9 236.3h1M188.1 234.8h1M185.5 233.5h1M191.4 234.9h1M188.4 235.7h1M189.8 238h1M193.8 235.9h1M186.1 233.2h1M184.9 238.8h1M192.8 234.4h1M187.9 238.3h1M191.1 232.2h1M185.3 237.9h1M185.9 235.9h1M190 237.8h1M192.2 234.9h1M182.9 236.3h1M189.7 233.9h1M186 235.6h1M193.6 233.6h1M185.3 237.7h1M187.6 236.3h1M189.7 236.4h1M192.3 234.8h1M181 235.6h1M188.5 234.4h1M192.7 234h1M186.8 235.1h1M194.8 236h1M184.8 236.8h1M190.7 235.7h1M193.9 233.6h1M186.8 235.1h1M190.5 234.1h1M183.4 234.1h1M194.1 235.1h1M189.2 232.9h1M197.7 234.4h1M190.7 233.7h1M197.7 235.2h1M193.7 236h1M191.7 239h1M184.2 240.4h1M192.8 235.3h1M190 236.5h1M192 237.8h1M188.4 239.3h1M195.5 235.3h1M185.5 237.7h1M187.8 234.3h1M189.8 234.6h1M191.7 235.6h1M188.5 238.8h1M186.9 238.1h1M191.3 233.1h1M190.5 213.8h1M189.4 214h1M191.7 223.7h1M191.2 225.5h1M189 214.4h1M190.4 212.3h1M192.4 218h1M188.5 208.9h1M189.6 210.1h1M193.5 217.3h1M187.5 217.3h1M189.8 209h1M192.9 218.4h1M191.9 218.5h1M193.7 215.8h1M192.1 216.9h1M190.2 215.7h1M188.7 213h1M191.5 211.5h1M189.7 216.7h1M193.5 214.7h1M166.6 211.8h1M171.6 212.6h1M158.1 217.8h1" stroke="#000" stroke-width="1" stroke-opacity=".3"/>
<path d="M194 238.7h1M191.7 237.1h1M190.4 234.6h1M190.9 238h1M178.7 237.2h1M195.2 237.6h1M173.7 238h1M173.2 236.6h1M194.3 236.8h1M188 232.1h1M191.8 235.3h1M182.7 236.5h1M188.7 236h1M182.7 235.8h1M194.7 235h1M188 235h1M170.9 237.5h1M178.9 234.9h1M192.2 233.2h1M173.4 238.1h1M192.3 234.2h1M184.4 236.5h1M176.9 236.6h1M183.9 232.2h1M194.1 236.8h1M191.4 235.3h1M178.7 237.3h1M190.1 235.6h1M196.9 234.2h1M193.8 234.1h1M175.1 237.8h1M187.6 234.6h1M181.8 235.5h1M192.3 232.6h1M195.1 234.4h1M183.8 235.9h1M191.2 240.8h1M184.9 234.3h1M195.3 233.7h1M188.9 236.9h1M194.2 238.4h1M191.9 237.2h1M191.2 237.1h1M176.6 237.9h1M181 233.2h1M190.5 237.5h1M177.1 238.4h1M170.5 236.5h1M183.7 236h1M175.1 236.2h1M192.8 237h1M182.9 232.7h1M196.7 235.8h1M191.7 235.7h1M190.7 237.7h1M162.5 237.5h1M189.1 235.7h1M194.6 236.4h1M191.4 232.8h1M185.9 235h1M195.4 235h1M173.1 235.3h1M186.3 236.4h1M184.1 236.7h1M187 238.1h1M194.6 233.8h1M183.4 232.8h1M188.9 234.1h1M185 237h1M185.7 233h1M187.1 237.6h1M193 233.9h1M180.4 236.3h1M191.4 235.4h1M181.5 235.5h1M194.6 235.9h1M193.1 236.7h1M181.3 239.1h1M186.8 237.4h1M193.3 235.2h1M183.7 235.6h1M191.6 236.3h1M179.6 239.3h1M190.8 236.5h1M189.4 233.6h1M186 237.4h1M188.6 235.4h1M191.7 232.8h1M186.2 235.1h1M192 236.4h1M183.7 237.2h1M189.4 236.1h1M193 237.9h1M188.9 234.8h1M187.7 234.8h1M189.5 235.2h1M188.8 238.9h1M191 237h1M190.3 236.3h1M187.1 236h1M183 235.7h1M175.9 237.2h1M185.7 234.3h1M186.9 235.7h1M188.9 235.9h1M188.6 234.9h1M187.4 233h1M191.4 235.9h1M190.8 234.7h1M181.2 231.9h1M189.3 231.9h1M188.9 237h1M194.2 234h1M187.2 235.1h1M180.8 237.7h1M183.8 236.8h1M184.8 235.6h1M192.4 234.9h1M190.1 233.2h1M182.7 235.3h1M180.7 236.5h1M183.5 236.3h1M184.4 237.6h1M184.8 238.3h1M184.3 235.8h1M193.6 235.3h1M193.4 232.9h1M189.3 232.7h1M191.9 236.2h1M188.8 237.1h1M179.8 235h1M184.8 235.7h1M193.9 232.6h1M193.3 232.5h1M188.4 233.6h1M196.1 235.7h1M185.2 235.2h1M182.9 235h1M181.3 237.6h1M191.1 234.7h1M192.7 234.9h1M184.5 236.4h1M192.9 238.3h1M189.9 239.2h1M184.2 233.1h1M186.4 236.2h1M183.8 237.7h1M189.6 238.9h1M190 235h1M186.9 235.4h1M184.9 233.7h1M189.7 231.5h1M185 236.2h1M189.4 238.2h1M185.9 238.2h1M189 233.7h1M193.5 239.5h1M186.1 235h1M189.8 237.7h1M187.2 237.7h1M189.3 232h1M185.6 235.9h1M195.2 234.8h1M190.1 240.7h1M186.5 237.3h1M187.2 234.4h1M185.2 235h1M195.8 235.5h1M186.6 235.4h1M192.3 232.2h1M186.7 236h1M188.6 238.8h1M187.4 233.8h1M182.6 236h1M190.4 234.5h1M194.8 219.2h1M190.6 224.1h1M191.6 214.5h1M192.9 208.3h1M189 210h1M191.8 215.2h1M189.5 211.9h1M189.8 217.8h1M195 219.2h1M188.8 210.6h1M188.2 209.9h1M189.5 218.9h1M188.8 217.1h1M189.1 219.8h1M188.4 215.9h1M187.6 218.9h1M188.5 211.5h1M190.6 213.5h1M188.6 220.6h1M190.4 216.1h1M174 219.1h1M209.8 220.6h1M197 219.6h1M200.1 238h1" stroke="#000" stroke-width="1" stroke-opacity=".3"/>
</g>
<rect x="178.3" y="199.4" width="27.5" height="27.2" fill="none" stroke="#707070" stroke-width="1"/>
<text x="193.25" y="199.1" font-size="6.9" text-anchor="middle">8.23</text>
<rect x="223.3" y="182.4" width="70.6" height="71.9" fill="none" stroke="#909090" stroke-width="1.1"/>
<g filter="url(#bl)">
<ellipse cx="269.5" cy="235.2" rx="4.4" ry="2.9" transform="rotate(-6 269.5 235.2)" fill="#000" filter="url(#bl2)"/>
<ellipse cx="262" cy="236.6" rx="4.8" ry="1.7" transform="rotate(-4 262 236.6)" fill="#000" filter="url(#bl2)"/>
<path d="M266.1 233.4h1M252.4 236h1M264.9 235.4h1M266.4 237.9h1M258.9 236.3h1M274.1 236.1h1M276.9 233.9h1M245.9 235.7h1M278.6 236.9h1M269.9 237.8h1M268.2 238.5h1M276.3 232.3h1M266.5 234.8h1M265.4 235.7h1M262.4 232.9h1M249.2 236.5h1M258.2 233.8h1M251.3 237.3h1M257.7 237h1M257.3 237.3h1M247.4 237.6h1M275.1 233.1h1M268 234.4h1M269.6 236.7h1M278.7 229.3h1M275.2 232.5h1M258.2 236.6h1M257.2 233.5h1M275.1 235.3h1M277.5 235.8h1M275.3 236.3h1M274.1 237.2h1M261.2 232.2h1M265.6 236.1h1M263.9 233.6h1M257.5 239.6h1M253.4 235.2h1M257.3 235.5h1M262.5 236.6h1M268.9 236.8h1M260.8 236.1h1M272.9 233.4h1M259.2 235.8h1M262.4 235.9h1M252.2 237.9h1M255.4 237.7h1M271.5 235.8h1M245.1 236.8h1M255.3 237.7h1M269.9 237.6h1M268.4 239h1M266.7 235.4h1M262.7 234.3h1M266.9 234.8h1M260.5 236.2h1M270.6 236.2h1M260.6 236.7h1M257.5 236.1h1M276 234.9h1M265.2 236.5h1M248.4 238h1M268.1 233.2h1M268.7 235.7h1M271.4 235.7h1M252.7 236h1M261.7 235.4h1M248.6 237.5h1M275.2 230.8h1M273.4 234.8h1M269.7 233.9h1M274.3 232.9h1M240.9 237.5h1M251 236.1h1M264.5 235.9h1M258 236.1h1M269.8 236.2h1M269 233.6h1M270.9 234.4h1M266.9 237.1h1M263.9 234.2h1M263.7 234.4h1M265.8 236.6h1M268.6 237.5h1M272 235.7h1M273.4 238.2h1M264.4 237.6h1M263 239.1h1M262.7 235.3h1M264.5 238.2h1M258.9 236.2h1M271.3 237.5h1M269.1 236.3h1M272.2 238.4h1M270.9 232.6h1M270.2 236.8h1M267.1 234.5h1M269.9 237.4h1M270.9 237.6h1M262 235.9h1M262.1 239.5h1M267.4 235.9h1M266.7 237.1h1M267.5 234.7h1M259.9 235.9h1M268.8 237.8h1M266.9 236h1M266.4 235.2h1M264.2 236.7h1M267.2 238.6h1M259.2 236.7h1M267.4 234.7h1M264.5 236.3h1M273.3 237.1h1M265.8 236.5h1M261.8 234.9h1M261.3 233.5h1M273.3 235.3h1M262 237.3h1M266.9 235.8h1M266.6 233.1h1M272.1 234.3h1M272.7 235h1M268.6 237.1h1M269.3 238.7h1M263.5 235.2h1M268.2 234.4h1M265.4 236h1M268 235.7h1M265.4 238.7h1M262.7 234.8h1M260.4 237h1M262.2 239.3h1M276.4 233.2h1M265.1 240.3h1M260.9 237h1M269.9 235.4h1M263.7 237.8h1M266.6 234.6h1M268.1 236.5h1M270.2 236.2h1M268.6 235.1h1M262.1 234.8h1M260.1 236.4h1M275 232.4h1M267.7 238.6h1M266.2 234.6h1M268.4 235.2h1M273.1 234.9h1M263.7 237.6h1M263.4 236.4h1M269.5 237.6h1M268.7 235.7h1M270.6 236.5h1M268.2 234.8h1M270.1 230.9h1M264.9 234.4h1M269.7 234.7h1M267.8 235.7h1M271 231.8h1M269.9 236.6h1M263 237.5h1M262.4 235.8h1M262.9 235.1h1M270 235h1M272 234.6h1M268.5 236.1h1M268.9 234.4h1M267.9 238.4h1M266 236.5h1M261.7 237h1M270.1 236.5h1M265.4 238.4h1M271.3 234.7h1M264.5 235.9h1M262.2 233.8h1M269.8 216.4h1M271.5 208h1M272.6 224.7h1M272.8 205.2h1M273.1 216.4h1M271.3 219.4h1M274.9 215.4h1M268.6 207.9h1M271.7 211.5h1M273.1 224.2h1M271.2 211.5h1M272.6 216.4h1M271.9 216.7h1M269.4 211.1h1M270.3 218.5h1M269.5 207.5h1M272.5 210.3h1M272.9 215.5h1M270.8 212.1h1M256.2 240.8h1M269.4 212.3h1M276.5 232.6h1M276.8 216.9h1" stroke="#000" stroke-width="1" stroke-opacity=".3"/>
<path d="M274.5 233.9h1M271.9 235.2h1M269.6 235h1M258 236.3h1M256.9 239.4h1M263.4 236h1M249.8 237.1h1M250 237.6h1M263.9 238h1M274.9 233.5h1M274.9 237.2h1M270.3 239.3h1M258.3 236.3h1M270.7 235.3h1M268.4 234.4h1M262.5 234.3h1M260.9 235.5h1M257.6 235.6h1M249.9 236.5h1M254.2 235.8h1M265.8 233.9h1M273.4 231.8h1M241.8 236.7h1M250.9 236h1M275.5 239h1M260.2 235.7h1M272.3 238.3h1M271.6 238.1h1M272.4 237h1M268.5 233.1h1M259.6 234.7h1M270.8 237.8h1M271.5 236.8h1M273.6 233.3h1M262.9 237.3h1M270.4 234.1h1M276.6 236.4h1M251.9 235.9h1M270.7 232.3h1M246.8 238.6h1M269.2 233.3h1M267.6 232.1h1M262 236.9h1M253 237.5h1M246.1 237.1h1M275.6 237.6h1M256.7 236.5h1M268.7 234.5h1M275.3 234.3h1M267.2 235.1h1M258.6 235h1M271.8 235.9h1M264.4 236.2h1M269.7 239.6h1M247.6 237h1M264 233.6h1M270.8 233.2h1M276.5 238.7h1M277.2 235.3h1M262.6 237.5h1M266.6 236.9h1M271 237.7h1M273.3 235.9h1M271.6 236.2h1M276 234.7h1M255.3 235h1M260.4 234.3h1M269.3 236.8h1M271.6 239.7h1M270.2 238.6h1M262.7 234.4h1M274.8 234.1h1M269.5 236.2h1M238.5 238.5h1M253.5 238.1h1M262.4 235.3h1M264.3 237.4h1M265.1 236.6h1M269.6 234.5h1M271.6 235.7h1M268.2 236.1h1M276.3 232.4h1M262.3 236.2h1M266.5 235.4h1M262.9 235.5h1M270.1 238.4h1M268 236h1M265.3 237.5h1M269.9 230.1h1M267.2 237.6h1M272.8 236.9h1M268.7 235.6h1M265.5 238.2h1M269.2 233.7h1M272.6 233.1h1M274 232.9h1M265.9 238.5h1M269.7 237.9h1M266.5 236.9h1M262.8 236.9h1M270 235.9h1M269 236.7h1M268 237.3h1M267.3 236.4h1M264.5 237.2h1M269.9 234.3h1M276.3 236.1h1M269.5 233.9h1M271.6 237.5h1M266 238.1h1M271.2 236.4h1M265.4 233.9h1M272.4 234h1M270.3 236.1h1M266.7 237.9h1M264.1 234.6h1M266.2 235.2h1M264 235.2h1M271.9 235.6h1M265.4 234h1M272.4 235h1M270.6 237h1M267.2 239.6h1M265.5 233.8h1M275.2 235.9h1M266.9 238h1M258.8 236.9h1M263.2 235.9h1M267.8 237.8h1M272.4 237.4h1M270.7 235h1M265.4 235.6h1M272.2 237.8h1M267.2 235.8h1M265.4 238.5h1M260 234.1h1M268.2 238.1h1M269.2 231.5h1M267.9 235.2h1M272.5 235.9h1M262 237h1M270.2 233.6h1M267.2 233.8h1M267.9 237.4h1M262.4 237.6h1M256.5 232.8h1M267.7 234.8h1M272.7 233.6h1M268 235.2h1M264.7 238.3h1M266.8 237.5h1M264.5 235.9h1M268.8 235.5h1M268.6 236.1h1M265.2 236.7h1M266.2 235.3h1M269.9 234.7h1M271.7 235.6h1M269.8 233.9h1M258.8 238.3h1M264.7 240.8h1M265.5 237.5h1M268 233.9h1M269.1 235.1h1M270.8 236.1h1M260.4 238.9h1M267.2 236.7h1M269.4 235.4h1M272.8 234.5h1M266.8 235.4h1M267.3 234.5h1M266.6 236.9h1M264.4 236.2h1M273.8 236.4h1M261.4 234.3h1M270.5 221h1M270.9 210.8h1M275.7 211.8h1M270.3 213.2h1M270.2 215.1h1M275.9 210.8h1M271.7 215.9h1M270.1 212.3h1M270.5 214.6h1M272.6 221.1h1M268.6 216.8h1M271.9 220.2h1M276.5 216.2h1M274 217.4h1M270.2 217h1M272.6 210.3h1M274.5 216.1h1M269.2 209.8h1M275.8 216.4h1M247 226h1M281.6 233.8h1M239.7 230.6h1M262.5 243.4h1" stroke="#000" stroke-width="1" stroke-opacity=".3"/>
<path d="M254.3 237.6h1M276.1 236.2h1M272.2 234.2h1M268.3 236h1M254.5 235.9h1M275.8 237.9h1M256.6 234.6h1M269.7 234.9h1M273.9 232.2h1M270.3 237h1M268.6 235.2h1M262.9 239.7h1M275.8 237.4h1M261.8 235.8h1M256.5 234.5h1M266.4 237.1h1M271.3 234.1h1M272.3 233h1M271 236.3h1M251.8 237h1M242.9 237.4h1M251.1 237.7h1M268.8 238.5h1M263.6 240.6h1M256.8 237.4h1M272.7 234.4h1M263.8 236.7h1M272.2 232.5h1M254.8 236.2h1M265.3 235h1M263.7 237.2h1M273.3 233.3h1M266.9 235.9h1M274.9 237.2h1M263.1 235h1M268.1 236.9h1M250.3 238h1M267.4 231.4h1M269.8 234.6h1M273.8 237.5h1M273.6 240.8h1M265.6 237.5h1M266.6 237h1M276.6 233.8h1M272.4 237.3h1M267.9 234.6h1M263.4 236.9h1M259.3 235.3h1M268.2 235.2h1M275.8 237.3h1M267.8 235h1M262.8 236.2h1M264.8 237.5h1M252.4 237.2h1M268.6 232h1M273.2 234.4h1M252.4 235.5h1M265 235.7h1M272.9 232.5h1M252.3 238.2h1M273 231.4h1M266.3 236.5h1M257.7 235h1M255.4 236.7h1M260.5 235.3h1M249.7 236.7h1M267.9 236h1M262.7 235.1h1M253.8 237.7h1M262.6 236.6h1M277.6 234h1M264.1 235.3h1M274.1 234.6h1M266.2 236.5h1M264.2 237.6h1M268.9 234.3h1M268.5 234.4h1M267.6 235.4h1M268.2 236.7h1M265.6 238h1M264.5 234.9h1M258.5 233.9h1M264.6 236.4h1M275.4 235.4h1M269.8 235.8h1M264.2 239.2h1M265.4 234.1h1M266.8 234h1M268.3 235.8h1M260.9 234h1M263.7 232.8h1M270.1 234.8h1M265 237.4h1M273 236.3h1M266.8 235.2h1M266.1 238h1M273 234.5h1M271.3 234.2h1M265 235.8h1M264.6 236.5h1M271.5 234.5h1M265.4 237.6h1M268.2 233.5h1M263.1 234.9h1M259.7 236.6h1M272.8 236.4h1M264.2 237.7h1M273.3 234.8h1M267.3 236.3h1M268.3 239.4h1M266.3 235.2h1M265.2 233.7h1M265.3 236.1h1M272.7 234.2h1M263.4 236.9h1M265.8 237.2h1M266.8 239.8h1M266.9 235.9h1M267.9 238.1h1M268.3 236.4h1M275.4 236.4h1M265.6 234h1M266.1 236.3h1M272.9 239.2h1M273.4 233.2h1M263.9 233.7h1M265.9 233.9h1M269 235.7h1M263.3 235.8h1M269.9 234.6h1M267.2 235.1h1M265 236h1M261.2 237.2h1M264.7 236.3h1M266.7 234.6h1M273.4 235.1h1M258.1 236h1M266.7 233.9h1M267.8 237.2h1M266.6 239.9h1M264.4 235.4h1M261.4 239.4h1M271 233.3h1M265.3 231.6h1M267.4 235.9h1M266.9 233.1h1M268.8 232.2h1M267.5 236.5h1M262.9 235.1h1M268.5 238.1h1M266.9 235.5h1M262.6 236.4h1M266 238.2h1M267.6 234.2h1M269.8 235.8h1M263 236.8h1M269.6 232.3h1M268.6 237.1h1M274.9 236.4h1M271.8 232.7h1M266 236.9h1M273.3 235.2h1M263.9 236.3h1M262.7 234.5h1M266.7 235.2h1M269.7 235.4h1M266.9 236.4h1M274.8 235.7h1M266.3 233.7h1M263 234h1M267.2 238h1M268.4 234.5h1M270.8 236.7h1M263.9 234.5h1M262.6 231.5h1M273 219h1M270.2 212.3h1M271.3 219.9h1M268.2 215.7h1M271.9 213.2h1M272.9 207.6h1M273.4 218.4h1M273.8 217.1h1M271.1 213.9h1M271.3 210.7h1M271.7 215.6h1M267.6 213.2h1M272.6 219h1M271.8 214.8h1M273.8 215.4h1M273.2 216.4h1M269.9 215.3h1M269.7 209.9h1M260.4 239h1M258.6 216.7h1M242.8 245.8h1M272.3 212.8h1M273.3 212.3h1" stroke="#000" stroke-width="1" stroke-opacity=".3"/>
<path d="M276.1 235.9h1M264.5 235.1h1M264 237.9h1M251 235.2h1M266.6 233.8h1M275.1 229.9h1M270 235.3h1M266.7 236.4h1M269.6 238.5h1M254.7 235.3h1M273.8 234.7h1M270.9 237h1M252.8 239.1h1M250.7 236.8h1M264.9 235.3h1M270.9 235.8h1M253.1 237.5h1M263.6 235.2h1M270.5 237.2h1M269.3 234h1M274.4 233.3h1M276.1 238.2h1M246.8 237.5h1M275.2 234.3h1M259.6 238.8h1M265.3 236.2h1M271 237.8h1M248.2 237.8h1M264.6 235.8h1M264.7 235.9h1M258.5 236.3h1M256.5 237.4h1M271.7 236.1h1M271.2 235.5h1M271 234.6h1M270.2 235.9h1M264 238.3h1M278.1 233.3h1M250.1 236.5h1M263.1 235.5h1M275.5 232.9h1M263 236h1M260.1 234.8h1M276 238h1M274.8 235.7h1M263.6 239.1h1M270.7 231.4h1M272.4 236h1M276.8 231.7h1M261.6 236.5h1M272 234.8h1M270.4 234h1M270.1 235h1M252.9 236.3h1M273.8 233h1M272 238.7h1M258.3 234.4h1M268.2 235.8h1M257.4 234.4h1M266.6 236.4h1M275 236.6h1M268.8 236.1h1M269.3 235.7h1M248.2 236.4h1M264 235.4h1M266.8 237.6h1M265.2 235.1h1M240.6 237h1M246.7 235.3h1M258.7 232.5h1M274.8 236.9h1M266 236h1M274.2 235.8h1M270.8 235.4h1M265.3 235.9h1M262.4 234.5h1M262.1 237.3h1M265.9 233.6h1M267 237.4h1M265.1 234.1h1M266 237.2h1M264.7 233.2h1M259.7 234.1h1M269.6 234.8h1M265 231.9h1M267.3 236.5h1M267.9 238h1M265.2 236h1M266.1 236.1h1M262 234.4h1M264.8 236.8h1M265.9 234.2h1M267.5 235.9h1M267.9 234.5h1M269.3 235.1h1M269.8 233.8h1M264.4 237.8h1M270.5 233.8h1M266.6 236.5h1M270.6 233.2h1M269.3 237.7h1M269.8 237.9h1M267.5 236.4h1M267.3 233.7h1M265 235.6h1M267.2 235.2h1M265.2 236.1h1M264.8 239h1M264.5 235.6h1M261.9 233.3h1M270.3 238.2h1M267.5 235.2h1M273.2 234.5h1M264 237h1M267.1 239h1M270.6 238.2h1M263.2 238h1M266.6 236.4h1M266.1 235.7h1M265.3 234.9h1M270.4 237.2h1M271.8 238.5h1M271.4 233.7h1M267.4 238.9h1M268 232.8h1M271.7 233.7h1M265.6 235.7h1M266.9 235.3h1M260.3 236h1M266.5 237h1M259.9 236.9h1M267.7 236h1M264 236.2h1M265.4 236.2h1M258.6 237.9h1M258.3 234.8h1M266.1 240.1h1M267.8 236.9h1M267.7 234.1h1M264.9 233h1M262.6 238.5h1M263.6 238.3h1M265.7 238h1M265.6 236.3h1M259.7 236.3h1M273 234.3h1M266.7 236.1h1M276.6 234.2h1M265.2 236.7h1M265.8 236.1h1M267.2 236.8h1M267.4 237.5h1M265.4 238h1M267.4 236.4h1M268.3 238h1M260.9 237.3h1M267.8 238.3h1M262.3 236.1h1M264.3 238.3h1M276 234.9h1M267.1 233.4h1M266 234.1h1M266.3 235.9h1M273.1 236.6h1M263.8 234.6h1M266.1 239.1h1M255 239.3h1M269.3 233.9h1M267.9 233.7h1M264.3 236.9h1M257 239.9h1M272.2 234.8h1M271 234.4h1M261.7 234.6h1M260.2 239.1h1M271.9 217.3h1M270.2 216.5h1M268.9 208.9h1M273.3 211.7h1M273 210.7h1M271.9 212h1M271.4 213.6h1M272.9 212.8h1M271.6 216.3h1M270.2 210h1M272.7 218.8h1M271.6 221h1M270.3 213h1M273.5 212.3h1M269.9 211.6h1M272 216.2h1M272.5 212.8h1M272.2 204.5h1M276.2 212.2h1M239.8 236h1M261.8 235.6h1M277.9 233.2h1" stroke="#000" stroke-width="1" stroke-opacity=".3"/>
<path d="M257.5 238.3h1M272.6 237h1M273.7 232.9h1M267.5 232.9h1M275.7 236h1M272.8 229.4h1M274.4 233.7h1M276.8 232.9h1M269.3 236.5h1M256.7 237.4h1M257.5 238.2h1M260.9 236.2h1M260.5 236.4h1M251 237.1h1M274.1 237.6h1M271.9 234.4h1M274.3 234h1M273 236.1h1M274.9 237.8h1M240.9 238.6h1M262.1 237.7h1M265.9 237.9h1M257.6 235.7h1M272.7 234.4h1M272 235.9h1M265.4 236.7h1M252.1 236.5h1M258.5 235.6h1M265.2 236.2h1M270.4 232.2h1M265.8 233.9h1M269.8 238.1h1M272.8 235.7h1M268.9 235.9h1M269 233.4h1M269.7 236.9h1M274.6 233.9h1M254.7 234.6h1M273.7 237h1M244.4 236.4h1M275.2 235.3h1M269.8 236.7h1M270.2 231.8h1M259.5 235h1M254.8 234.5h1M271 235.3h1M258.9 236.1h1M246.9 237.3h1M268.7 236.4h1M258.4 235.4h1M247.7 236.9h1M270.2 234.2h1M274.7 233.6h1M261.4 237.7h1M275.7 234.3h1M274.3 233.4h1M271.1 239.3h1M270.6 236.9h1M261.4 237h1M265.3 236.4h1M273.9 233.9h1M277 233.1h1M276.6 236.8h1M252.9 235.8h1M262.4 238.8h1M260.7 235.1h1M268.4 233.3h1M261.3 234.6h1M255 237.5h1M246.2 236.8h1M262.9 237h1M274.2 238h1M266.6 236.5h1M263.8 235.9h1M270.9 236h1M270 235.8h1M265.1 237.8h1M266.9 235.6h1M266.5 235.3h1M262.8 235.1h1M267.1 237.6h1M265.5 239.3h1M271 234.1h1M270.7 235.4h1M263.2 233h1M270.4 237.4h1M261.3 236.8h1M267.1 238.6h1M263.4 235.8h1M265.5 237.1h1M267.7 235.6h1M272.2 235.7h1M267.6 234.4h1M267.1 235.3h1M264.1 234.4h1M271.8 236.1h1M265.2 234.9h1M263.5 237.3h1M265 235.3h1M263.3 237.7h1M261.9 234.3h1M268.4 233.5h1M273.3 231.9h1M266.8 239.4h1M268.3 234h1M265.2 238.3h1M268.7 234.5h1M270.4 232.8h1M260.1 234.4h1M270.6 236.5h1M264.8 237.3h1M271.3 232.9h1M269 235.9h1M268.4 234.7h1M270.6 237h1M265.2 235h1M262.3 235.8h1M263.5 236.4h1M269 235.4h1M262.5 236.3h1M264.8 236.8h1M269.6 238.9h1M262.9 235.3h1M266.7 236h1M264.2 236.4h1M259.5 235h1M269.7 235.2h1M265.6 234.3h1M265.2 235.7h1M266.5 235.6h1M270.8 232.8h1M265.3 235.9h1M262.8 237.6h1M275.9 232.8h1M269.3 237.2h1M266.7 234.8h1M269.1 238.9h1M263.6 235.7h1M264.3 234.8h1M262.4 236.9h1M260.8 236.5h1M271.2 237.9h1M263 232.6h1M266 236.4h1M261.9 239.2h1M265.8 235.6h1M271.7 235.7h1M264 238h1M262.3 237.1h1M267 236.4h1M266.9 236.7h1M266.8 235.6h1M271.4 237h1M263.8 238.1h1M264.5 238.6h1M266 235.5h1M261 236.3h1M266.8 236.7h1M269.3 237h1M266.6 235.4h1M269.4 233.3h1M267.5 236.7h1M272.1 233.2h1M268.7 236.3h1M264.5 234.7h1M275.5 234.3h1M263.6 235.7h1M266.5 236.3h1M263.5 238.5h1M266.8 233.7h1M270.3 233.2h1M269.9 237.5h1M262.4 235.9h1M269.2 237.5h1M261.9 236.5h1M269.7 211.7h1M273.8 223.6h1M270.7 210.3h1M271.1 212.2h1M271.4 215.7h1M275.3 213.2h1M271.5 211.4h1M270.6 211.6h1M271.9 210.4h1M272.4 214h1M267 216.8h1M270.7 208.8h1M272.5 212.2h1M272.9 214.9h1M270.8 199.3h1M272.1 216.4h1M274.8 218.3h1M269.4 212.8h1M278.4 220.6h1M273 207.7h1M270.1 223.1h1M252.1 227.2h1" stroke="#000" stroke-width="1" stroke-opacity=".3"/>
<path d="M244.8 238.7h1M249.8 239.4h1M253.3 237h1M267.4 239h1M269.7 232.9h1M271.7 234.9h1M276.5 234.8h1M274.2 232.6h1M251.7 237h1M269.3 230.3h1M257.7 234.2h1M275.1 234.4h1M275.9 236.8h1M262.8 236.3h1M252.6 235.3h1M261.7 238.8h1M251.2 238.3h1M258.5 237.7h1M265.7 235.1h1M264.1 234.1h1M267.8 235.6h1M268.5 237.3h1M270.3 236h1M277.3 234.2h1M255.5 235.6h1M267.8 236h1M273.8 240.4h1M259.7 237.1h1M273.9 235.5h1M276.7 235.4h1M267.8 234.5h1M274.1 232.9h1M255.8 235.9h1M255.7 237.5h1M270 238.5h1M271 233.5h1M272 233.3h1M266.1 236.3h1M258.2 237.5h1M273.4 234.5h1M269.8 234.1h1M261.2 237.3h1M273.2 232.8h1M254.7 236.5h1M257.5 235.7h1M268 237h1M270.5 237.8h1M267.9 237h1M256.6 237.7h1M258.3 235.7h1M271.7 233.5h1M266.3 239.5h1M274.1 235.6h1M252.8 235.4h1M260.9 234h1M274.5 237.1h1M262.6 236.1h1M250.1 236.5h1M273.3 237.4h1M265.9 235h1M272.6 237.8h1M270.2 230.2h1M260.4 236.8h1M271.5 232.5h1M240.5 237.1h1M252.9 238.3h1M274.1 236h1M270.1 230.3h1M258.5 236.2h1M273.6 235.5h1M274 236.2h1M254.8 236.6h1M258.9 234.9h1M276.1 235h1M271.7 236.4h1M266.6 235.5h1M272.1 233.1h1M270.6 236.8h1M262.9 234.6h1M272.6 234.4h1M269.5 236.6h1M267.5 234.3h1M268.6 231.6h1M265.8 234h1M269.2 233.3h1M258.6 233h1M264 237h1M270.6 234h1M269 235.7h1M270.2 233.5h1M263.8 236.1h1M268 236.1h1M268.3 235.4h1M266.9 235.8h1M264.8 237.5h1M270.9 238.1h1M262.5 236.2h1M269.3 232.6h1M267.6 236h1M269.9 233.4h1M266.6 233.1h1M264.7 236.6h1M272.4 233.4h1M265.5 234.6h1M268.8 236.2h1M262.6 236.3h1M268.1 233.4h1M264.4 237.5h1M272.7 233.9h1M276.2 236.5h1M268.6 237.2h1M264.5 236.6h1M269.4 234.5h1M263.5 238.7h1M266.1 236.7h1M263.6 234.3h1M274.2 235.3h1M267.4 238.2h1M264.6 234.5h1M268.5 234.7h1M271.4 234.5h1M264.7 237.5h1M268.4 235.7h1M262.5 236.8h1M265.8 236.3h1M260.8 232.7h1M264.7 236.9h1M261.3 235.6h1M269.5 237h1M273.9 238.9h1M262.5 234.6h1M266 237.5h1M265.5 232.4h1M267.6 236.7h1M265.5 236.1h1M274.3 235.8h1M268 240h1M268.9 238.3h1M265.3 239.2h1M266.4 235.8h1M264.7 233h1M271.2 236.4h1M264.2 235.9h1M267.9 234.5h1M264.6 237.6h1M263 234.2h1M269.8 237.5h1M269.7 234.8h1M271.6 237.4h1M269.3 236.3h1M263.5 238.7h1M268.4 237.9h1M258.4 238h1M270.2 235.2h1M262.3 235.3h1M260.2 236.4h1M269.1 235.2h1M270.6 233.3h1M264.9 234.3h1M258.7 237.1h1M263.5 239h1M271.1 236.8h1M261.4 235.2h1M267.2 238.4h1M265.3 235.4h1M263.6 236.3h1M266.8 234.5h1M264.8 235.9h1M268.4 235.3h1M267.4 238.1h1M265 234.4h1M268.5 234.3h1M270.9 233.3h1M267.1 232.1h1M267.5 233.7h1M272.2 216.4h1M273.3 217.2h1M270 211.9h1M273.5 205h1M268.1 217h1M271.6 212h1M272.7 211.8h1M271 209.1h1M271 215h1M270.5 219.2h1M273.6 215.8h1M271.7 211h1M273.7 209.7h1M270.2 215.9h1M269.3 213.2h1M269.5 211.1h1M275 212.1h1M269.5 214.5h1M259.7 224.8h1M260.2 226.1h1M259.2 206.3h1M272.4 239.4h1" stroke="#000" stroke-width="1" stroke-opacity=".3"/>
</g>
<rect x="255.6" y="199.4" width="27" height="27.2" fill="none" stroke="#707070" stroke-width="1"/>
<text x="269.6" y="199.1" font-size="6.9" text-anchor="middle">6.57</text>
<text x="112.7" y="38.8" font-size="6.8" text-anchor="middle">M</text>
<line x1="335.5" y1="85" x2="335.5" y2="182" stroke="#000" stroke-width="1"/>
<line x1="332.9" y1="181.5" x2="335.5" y2="181.5" stroke="#000" stroke-width="1"/>
<text x="331.8" y="183.61" font-size="6.4" text-anchor="end">0</text>
<line x1="332.9" y1="149.5" x2="335.5" y2="149.5" stroke="#000" stroke-width="1"/>
<text x="331.8" y="151.61" font-size="6.4" text-anchor="end">5</text>
<line x1="332.9" y1="117.5" x2="335.5" y2="117.5" stroke="#000" stroke-width="1"/>
<text x="331.8" y="119.61" font-size="6.4" text-anchor="end">10</text>
<line x1="332.9" y1="85.5" x2="335.5" y2="85.5" stroke="#000" stroke-width="1"/>
<text x="331.8" y="87.61" font-size="6.4" text-anchor="end">15</text>
<line x1="335.5" y1="181.5" x2="479.5" y2="181.5" stroke="#000" stroke-width="1"/>
<line x1="346.5" y1="174.2" x2="346.5" y2="173.8" stroke="#000" stroke-width="1"/>
<line x1="343.82" y1="173.5" x2="348.98" y2="173.5" stroke="#000" stroke-width="1"/>
<rect x="342.5" y="174.5" width="8" height="7" fill="#fff" stroke="#000" stroke-width="1"/>
<line x1="359.5" y1="156.7" x2="359.5" y2="155.3" stroke="#000" stroke-width="1"/>
<line x1="357" y1="155.5" x2="362.1" y2="155.5" stroke="#000" stroke-width="1"/>
<rect x="355.5" y="157.5" width="8" height="24" fill="#000" stroke="#000" stroke-width="1"/>
<line x1="372.5" y1="173.4" x2="372.5" y2="172.3" stroke="#000" stroke-width="1"/>
<line x1="370.1" y1="172.5" x2="375.2" y2="172.5" stroke="#000" stroke-width="1"/>
<rect x="368.5" y="173.5" width="8" height="8" fill="#ddd" stroke="#000" stroke-width="1"/>
<line x1="394.5" y1="173" x2="394.5" y2="172.6" stroke="#000" stroke-width="1"/>
<line x1="391.94" y1="172.5" x2="396.86" y2="172.5" stroke="#000" stroke-width="1"/>
<rect x="390.5" y="173.5" width="8" height="8" fill="#fff" stroke="#000" stroke-width="1"/>
<line x1="407.5" y1="94.5" x2="407.5" y2="94" stroke="#000" stroke-width="1"/>
<line x1="405.05" y1="94.5" x2="410.25" y2="94.5" stroke="#000" stroke-width="1"/>
<rect x="403.5" y="94.5" width="8" height="87" fill="#000" stroke="#000" stroke-width="1"/>
<line x1="420.5" y1="135.1" x2="420.5" y2="131.5" stroke="#000" stroke-width="1"/>
<line x1="418.16" y1="131.5" x2="423.14" y2="131.5" stroke="#000" stroke-width="1"/>
<rect x="416.5" y="135.5" width="8" height="46" fill="#ddd" stroke="#000" stroke-width="1"/>
<line x1="442.5" y1="162.1" x2="442.5" y2="159.7" stroke="#000" stroke-width="1"/>
<line x1="439.6" y1="159.5" x2="444.7" y2="159.5" stroke="#000" stroke-width="1"/>
<rect x="438.5" y="162.5" width="8" height="19" fill="#fff" stroke="#000" stroke-width="1"/>
<line x1="455.5" y1="121.1" x2="455.5" y2="117.5" stroke="#000" stroke-width="1"/>
<line x1="453.05" y1="117.5" x2="458.25" y2="117.5" stroke="#000" stroke-width="1"/>
<rect x="451.5" y="121.5" width="8" height="60" fill="#000" stroke="#000" stroke-width="1"/>
<line x1="468.5" y1="151" x2="468.5" y2="144.9" stroke="#000" stroke-width="1"/>
<line x1="466.38" y1="144.5" x2="471.42" y2="144.5" stroke="#000" stroke-width="1"/>
<rect x="464.5" y="151.5" width="8" height="30" fill="#ddd" stroke="#000" stroke-width="1"/>
<polyline points="346.5,163.5 346.5,141.5 359.5,141.5 359.5,145.5" fill="none" stroke="#000" stroke-width="1.05"/>
<text x="360.34" y="151.61" font-size="7" text-anchor="middle" class="st" style="stroke-width:0.45px;letter-spacing:0.68px">**</text>
<polyline points="393.5,129.5 393.5,78.5 420.5,78.5 420.5,111.5" fill="none" stroke="#000" stroke-width="1.05"/>
<line x1="406.5" y1="78.1" x2="406.5" y2="82.1" stroke="#000" stroke-width="1"/>
<text x="407.94" y="91.01" font-size="7" text-anchor="middle" class="st" style="stroke-width:0.45px;letter-spacing:0.68px">***</text>
<text x="421.89" y="127.21" font-size="7" text-anchor="middle" class="st" style="stroke-width:0.45px;letter-spacing:0.58px">***</text>
<polyline points="441.5,128.5 441.5,101.5 468.5,101.5 468.5,127.5" fill="none" stroke="#000" stroke-width="1.05"/>
<line x1="454.5" y1="101.2" x2="454.5" y2="105.2" stroke="#000" stroke-width="1"/>
<text x="456.39" y="114.41" font-size="7" text-anchor="middle" class="st" style="stroke-width:0.45px;letter-spacing:0.58px">***</text>
<text x="469.2" y="142.61" font-size="7" text-anchor="middle" class="st" style="stroke-width:0.45px">*</text>
<text x="359.5" y="191.3" font-size="7.3" text-anchor="middle" textLength="31.7" lengthAdjust="spacingAndGlyphs">MCF-10A</text>
<text x="407.6" y="191.3" font-size="7.3" text-anchor="middle" textLength="25.1" lengthAdjust="spacingAndGlyphs">SKBR3</text>
<text x="455.4" y="191.3" font-size="7.3" text-anchor="middle" textLength="21.6" lengthAdjust="spacingAndGlyphs">BT549</text>
<text x="309.4" y="132.4" font-size="6.9" text-anchor="middle" transform="rotate(-90 309.4 132.4)" textLength="55.4" lengthAdjust="spacingAndGlyphs">% of Mitotic cells</text>
<text x="317.6" y="132.6" font-size="6.9" text-anchor="middle" transform="rotate(-90 317.6 132.6)" textLength="85.3" lengthAdjust="spacingAndGlyphs">(HistoneH3-pS10 positive)</text>
<rect x="483.1" y="109.5" width="12" height="3" fill="#fff" stroke="#000" stroke-width="1"/>
<text x="498.2" y="113.5" font-size="7" style="font-weight:normal;stroke-width:.12px" textLength="21.8" lengthAdjust="spacingAndGlyphs">Control</text>
<rect x="483.1" y="120.7" width="12" height="3" fill="#000" stroke="#000" stroke-width="1"/>
<text x="498.2" y="124.7" font-size="7" style="font-weight:normal;stroke-width:.12px" textLength="11.4" lengthAdjust="spacingAndGlyphs">24h</text>
<rect x="483.1" y="131.9" width="12" height="3" fill="#ddd" stroke="#000" stroke-width="1"/>
<text x="498.2" y="135.9" font-size="7" style="font-weight:normal;stroke-width:.12px" textLength="11.4" lengthAdjust="spacingAndGlyphs">48h</text>
<line x1="37.5" y1="317" x2="37.5" y2="415" stroke="#000" stroke-width="1"/>
<line x1="34.9" y1="414.5" x2="37.5" y2="414.5" stroke="#000" stroke-width="1"/>
<text x="34.3" y="416.71" font-size="6.7" text-anchor="end">0</text>
<line x1="34.9" y1="395.5" x2="37.5" y2="395.5" stroke="#000" stroke-width="1"/>
<text x="34.3" y="397.71" font-size="6.7" text-anchor="end">20</text>
<line x1="34.9" y1="375.5" x2="37.5" y2="375.5" stroke="#000" stroke-width="1"/>
<text x="34.3" y="377.71" font-size="6.7" text-anchor="end">40</text>
<line x1="34.9" y1="356.5" x2="37.5" y2="356.5" stroke="#000" stroke-width="1"/>
<text x="34.3" y="358.71" font-size="6.7" text-anchor="end">60</text>
<line x1="34.9" y1="336.5" x2="37.5" y2="336.5" stroke="#000" stroke-width="1"/>
<text x="34.3" y="338.71" font-size="6.7" text-anchor="end">80</text>
<line x1="34.9" y1="317.5" x2="37.5" y2="317.5" stroke="#000" stroke-width="1"/>
<text x="34.3" y="319.71" font-size="6.7" text-anchor="end">100</text>
<line x1="37.5" y1="414.5" x2="182" y2="414.5" stroke="#000" stroke-width="1"/>
<rect x="47.5" y="407.5" width="11" height="7" fill="#fff" stroke="#000" stroke-width="1"/>
<line x1="70.5" y1="399.46" x2="70.5" y2="399.08" stroke="#000" stroke-width="1"/>
<line x1="67.05" y1="399.5" x2="74.05" y2="399.5" stroke="#000" stroke-width="1"/>
<rect x="64.5" y="399.5" width="12" height="15" fill="#000" stroke="#000" stroke-width="1"/>
<line x1="100.5" y1="377.93" x2="100.5" y2="376.48" stroke="#000" stroke-width="1"/>
<line x1="95.8" y1="376.5" x2="104.2" y2="376.5" stroke="#000" stroke-width="1"/>
<rect x="92.5" y="378.5" width="15" height="36" fill="#fff" stroke="#000" stroke-width="1"/>
<line x1="119.5" y1="347.08" x2="119.5" y2="345.14" stroke="#000" stroke-width="1"/>
<line x1="115.64" y1="345.5" x2="122.36" y2="345.5" stroke="#000" stroke-width="1"/>
<rect x="113.5" y="347.5" width="11" height="67" fill="#000" stroke="#000" stroke-width="1"/>
<line x1="149.5" y1="374.25" x2="149.5" y2="370.66" stroke="#000" stroke-width="1"/>
<line x1="146.05" y1="370.5" x2="153.05" y2="370.5" stroke="#000" stroke-width="1"/>
<rect x="143.5" y="374.5" width="12" height="40" fill="#fff" stroke="#000" stroke-width="1"/>
<line x1="167.5" y1="343.01" x2="167.5" y2="341.56" stroke="#000" stroke-width="1"/>
<line x1="164.05" y1="341.5" x2="171.05" y2="341.5" stroke="#000" stroke-width="1"/>
<rect x="161.5" y="343.5" width="12" height="71" fill="#000" stroke="#000" stroke-width="1"/>
<polyline points="101.5,339.5 101.5,335.5 119.5,335.5 119.5,339.5" fill="none" stroke="#000" stroke-width="1.05"/>
<text x="108.87" y="332.67" font-size="6.2" text-anchor="middle" class="st" style="stroke-width:0.25px;letter-spacing:0.14px">***</text>
<polyline points="148.5,333.5 148.5,329.5 166.5,329.5 166.5,333.5" fill="none" stroke="#000" stroke-width="1.05"/>
<text x="156.94" y="326.57" font-size="6.2" text-anchor="middle" class="st" style="stroke-width:0.25px;letter-spacing:0.29px">***</text>
<text x="62.2" y="424.5" font-size="7.3" text-anchor="middle" textLength="31.2" lengthAdjust="spacingAndGlyphs">MCF-10A</text>
<text x="109.8" y="424.5" font-size="7.3" text-anchor="middle" textLength="25" lengthAdjust="spacingAndGlyphs">SKBR3</text>
<text x="158.6" y="424.5" font-size="7.3" text-anchor="middle" textLength="21.8" lengthAdjust="spacingAndGlyphs">BT549</text>
<text x="16.5" y="365.7" font-size="7.1" text-anchor="middle" transform="rotate(-90 16.5 365.7)" textLength="98.5" lengthAdjust="spacingAndGlyphs">% of Mitotic cells with CA (&gt;2)</text>
<rect x="184.7" y="345.8" width="12.5" height="3" fill="#fff" stroke="#000" stroke-width="1"/>
<text x="199.5" y="349.9" font-size="7" style="font-weight:normal;stroke-width:.12px">Control</text>
<rect x="184.7" y="357" width="12.5" height="3" fill="#000" stroke="#000" stroke-width="1"/>
<text x="199.5" y="361.1" font-size="7" style="font-weight:normal;stroke-width:.12px">Compound 43</text>
<line x1="311.5" y1="317" x2="311.5" y2="413" stroke="#000" stroke-width="1"/>
<line x1="308.9" y1="412.5" x2="311.5" y2="412.5" stroke="#000" stroke-width="1"/>
<text x="307.9" y="414.71" font-size="6.7" text-anchor="end">0</text>
<line x1="308.9" y1="388.5" x2="311.5" y2="388.5" stroke="#000" stroke-width="1"/>
<text x="307.9" y="390.71" font-size="6.7" text-anchor="end">10</text>
<line x1="308.9" y1="364.5" x2="311.5" y2="364.5" stroke="#000" stroke-width="1"/>
<text x="307.9" y="366.71" font-size="6.7" text-anchor="end">20</text>
<line x1="308.9" y1="340.5" x2="311.5" y2="340.5" stroke="#000" stroke-width="1"/>
<text x="307.9" y="342.71" font-size="6.7" text-anchor="end">30</text>
<line x1="308.9" y1="317.5" x2="311.5" y2="317.5" stroke="#000" stroke-width="1"/>
<text x="307.9" y="319.71" font-size="6.7" text-anchor="end">40</text>
<line x1="311.5" y1="412.5" x2="454" y2="412.5" stroke="#000" stroke-width="1"/>
<line x1="326.5" y1="406.29" x2="326.5" y2="405.81" stroke="#000" stroke-width="1"/>
<line x1="322.75" y1="405.5" x2="329.75" y2="405.5" stroke="#000" stroke-width="1"/>
<rect x="320.5" y="406.5" width="11" height="6" fill="#fff" stroke="#000" stroke-width="1"/>
<line x1="344.5" y1="401.04" x2="344.5" y2="396.03" stroke="#000" stroke-width="1"/>
<line x1="340.64" y1="396.5" x2="347.36" y2="396.5" stroke="#000" stroke-width="1"/>
<rect x="338.5" y="401.5" width="11" height="11" fill="#000" stroke="#000" stroke-width="1"/>
<line x1="373.5" y1="395.31" x2="373.5" y2="394.83" stroke="#000" stroke-width="1"/>
<line x1="370.25" y1="394.5" x2="377.25" y2="394.5" stroke="#000" stroke-width="1"/>
<rect x="368.5" y="395.5" width="11" height="17" fill="#fff" stroke="#000" stroke-width="1"/>
<line x1="391.5" y1="357.59" x2="391.5" y2="353.29" stroke="#000" stroke-width="1"/>
<line x1="388.33" y1="353.5" x2="395.27" y2="353.5" stroke="#000" stroke-width="1"/>
<rect x="386.5" y="358.5" width="11" height="54" fill="#000" stroke="#000" stroke-width="1"/>
<line x1="421.5" y1="400.56" x2="421.5" y2="399.13" stroke="#000" stroke-width="1"/>
<line x1="418.18" y1="399.5" x2="425.02" y2="399.5" stroke="#000" stroke-width="1"/>
<rect x="416.5" y="401.5" width="11" height="11" fill="#fff" stroke="#000" stroke-width="1"/>
<line x1="439.5" y1="341.83" x2="439.5" y2="335.62" stroke="#000" stroke-width="1"/>
<line x1="435.73" y1="335.5" x2="442.67" y2="335.5" stroke="#000" stroke-width="1"/>
<rect x="433.5" y="342.5" width="11" height="70" fill="#000" stroke="#000" stroke-width="1"/>
<polyline points="373.5,348.5 373.5,344.5 391.5,344.5 391.5,348.5" fill="none" stroke="#000" stroke-width="1.05"/>
<text x="381.84" y="341.17" font-size="6.2" text-anchor="middle" class="st" style="stroke-width:0.25px;letter-spacing:0.29px">***</text>
<polyline points="421.5,328.5 421.5,324.5 439.5,324.5 439.5,328.5" fill="none" stroke="#000" stroke-width="1.05"/>
<text x="429.92" y="322.67" font-size="6.2" text-anchor="middle" class="st" style="stroke-width:0.25px;letter-spacing:0.24px">***</text>
<text x="335.5" y="422.2" font-size="7.3" text-anchor="middle" textLength="32.3" lengthAdjust="spacingAndGlyphs">MCF-10A</text>
<text x="383" y="422.2" font-size="7.3" text-anchor="middle" textLength="27.3" lengthAdjust="spacingAndGlyphs">SKBR3</text>
<text x="430.5" y="422.2" font-size="7.3" text-anchor="middle" textLength="22.8" lengthAdjust="spacingAndGlyphs">BT549</text>
<text x="286.5" y="366.8" font-size="7.1" text-anchor="middle" transform="rotate(-90 286.5 366.8)" textLength="75.5" lengthAdjust="spacingAndGlyphs">% of Mitotic cells with</text>
<text x="294.5" y="365" font-size="7.1" text-anchor="middle" transform="rotate(-90 294.5 365)" textLength="61.5" lengthAdjust="spacingAndGlyphs">multipolar spindles</text>
<rect x="456.5" y="342.7" width="12" height="3" fill="#fff" stroke="#000" stroke-width="1"/>
<text x="471" y="346.8" font-size="7" style="font-weight:normal;stroke-width:.12px">Control</text>
<rect x="456.5" y="354.8" width="12" height="3" fill="#000" stroke="#000" stroke-width="1"/>
<text x="471" y="358.9" font-size="7" style="font-weight:normal;stroke-width:.12px">Compound 43</text>
<line x1="37.5" y1="472" x2="37.5" y2="570" stroke="#000" stroke-width="1"/>
<line x1="34.9" y1="569.5" x2="37.5" y2="569.5" stroke="#000" stroke-width="1"/>
<text x="34.3" y="571.71" font-size="6.7" text-anchor="end">0</text>
<line x1="34.9" y1="550.5" x2="37.5" y2="550.5" stroke="#000" stroke-width="1"/>
<text x="34.3" y="552.71" font-size="6.7" text-anchor="end">20</text>
<line x1="34.9" y1="530.5" x2="37.5" y2="530.5" stroke="#000" stroke-width="1"/>
<text x="34.3" y="532.71" font-size="6.7" text-anchor="end">40</text>
<line x1="34.9" y1="511.5" x2="37.5" y2="511.5" stroke="#000" stroke-width="1"/>
<text x="34.3" y="513.71" font-size="6.7" text-anchor="end">60</text>
<line x1="34.9" y1="491.5" x2="37.5" y2="491.5" stroke="#000" stroke-width="1"/>
<text x="34.3" y="493.71" font-size="6.7" text-anchor="end">80</text>
<line x1="34.9" y1="472.5" x2="37.5" y2="472.5" stroke="#000" stroke-width="1"/>
<text x="34.3" y="474.71" font-size="6.7" text-anchor="end">100</text>
<line x1="37.5" y1="569.5" x2="184.8" y2="569.5" stroke="#000" stroke-width="1"/>
<rect x="40.5" y="565.5" width="4" height="4" fill="#fff" stroke="#000" stroke-width="0.9"/>
<rect x="46.5" y="565.5" width="4" height="4" fill="#000" stroke="#000" stroke-width="0.9"/>
<rect x="52.5" y="565.5" width="3" height="4" fill="#eee" stroke="#000" stroke-width="0.9"/>
<rect x="57.5" y="566.5" width="4" height="3" fill="#ccc" stroke="#000" stroke-width="0.9"/>
<rect x="63.5" y="566.5" width="4" height="3" fill="#a0a0a0" stroke="#000" stroke-width="0.9"/>
<rect x="68.5" y="565.5" width="4" height="4" fill="#999" stroke="#000" stroke-width="0.9"/>
<line x1="76.5" y1="562.7" x2="76.5" y2="562.3" stroke="#000" stroke-width="1"/>
<line x1="75.15" y1="562.5" x2="77.79" y2="562.5" stroke="#000" stroke-width="1"/>
<rect x="74.5" y="563.5" width="4" height="6" fill="#3a3a3a" stroke="#000" stroke-width="0.9"/>
<line x1="82.5" y1="562.7" x2="82.5" y2="562.3" stroke="#000" stroke-width="1"/>
<line x1="80.77" y1="562.5" x2="83.41" y2="562.5" stroke="#000" stroke-width="1"/>
<rect x="80.5" y="563.5" width="3" height="6" fill="#555" stroke="#000" stroke-width="0.9"/>
<line x1="91.5" y1="537.7" x2="91.5" y2="532.5" stroke="#000" stroke-width="1"/>
<line x1="90.43" y1="532.5" x2="93.07" y2="532.5" stroke="#000" stroke-width="1"/>
<rect x="89.5" y="538.5" width="4" height="31" fill="#fff" stroke="#000" stroke-width="0.9"/>
<line x1="97.5" y1="541.5" x2="97.5" y2="537.7" stroke="#000" stroke-width="1"/>
<line x1="96.05" y1="537.5" x2="98.69" y2="537.5" stroke="#000" stroke-width="1"/>
<rect x="95.5" y="542.5" width="4" height="27" fill="#000" stroke="#000" stroke-width="0.9"/>
<line x1="102.5" y1="535.4" x2="102.5" y2="533.8" stroke="#000" stroke-width="1"/>
<line x1="101.67" y1="533.5" x2="104.31" y2="533.5" stroke="#000" stroke-width="1"/>
<rect x="101.5" y="535.5" width="3" height="34" fill="#eee" stroke="#000" stroke-width="0.9"/>
<line x1="108.5" y1="535.4" x2="108.5" y2="532.5" stroke="#000" stroke-width="1"/>
<line x1="107.29" y1="532.5" x2="109.93" y2="532.5" stroke="#000" stroke-width="1"/>
<rect x="106.5" y="535.5" width="4" height="34" fill="#ccc" stroke="#000" stroke-width="0.9"/>
<line x1="114.5" y1="534.4" x2="114.5" y2="531.5" stroke="#000" stroke-width="1"/>
<line x1="112.91" y1="531.5" x2="115.55" y2="531.5" stroke="#000" stroke-width="1"/>
<rect x="112.5" y="534.5" width="4" height="35" fill="#a0a0a0" stroke="#000" stroke-width="0.9"/>
<line x1="119.5" y1="536.3" x2="119.5" y2="533.8" stroke="#000" stroke-width="1"/>
<line x1="118.53" y1="533.5" x2="121.17" y2="533.5" stroke="#000" stroke-width="1"/>
<rect x="118.5" y="536.5" width="3" height="33" fill="#999" stroke="#000" stroke-width="0.9"/>
<line x1="125.5" y1="517.1" x2="125.5" y2="510.8" stroke="#000" stroke-width="1"/>
<line x1="124.15" y1="510.5" x2="126.79" y2="510.5" stroke="#000" stroke-width="1"/>
<rect x="123.5" y="517.5" width="4" height="52" fill="#3a3a3a" stroke="#000" stroke-width="0.9"/>
<line x1="131.5" y1="528" x2="131.5" y2="524.8" stroke="#000" stroke-width="1"/>
<line x1="129.77" y1="524.5" x2="132.41" y2="524.5" stroke="#000" stroke-width="1"/>
<rect x="129.5" y="528.5" width="3" height="41" fill="#555" stroke="#000" stroke-width="0.9"/>
<line x1="140.5" y1="543.1" x2="140.5" y2="541.2" stroke="#000" stroke-width="1"/>
<line x1="138.93" y1="541.5" x2="141.57" y2="541.5" stroke="#000" stroke-width="1"/>
<rect x="138.5" y="543.5" width="4" height="26" fill="#fff" stroke="#000" stroke-width="0.9"/>
<line x1="145.5" y1="543.1" x2="145.5" y2="540.6" stroke="#000" stroke-width="1"/>
<line x1="144.55" y1="540.5" x2="147.19" y2="540.5" stroke="#000" stroke-width="1"/>
<rect x="144.5" y="543.5" width="3" height="26" fill="#000" stroke="#000" stroke-width="0.9"/>
<line x1="151.5" y1="541.7" x2="151.5" y2="538.3" stroke="#000" stroke-width="1"/>
<line x1="150.17" y1="538.5" x2="152.81" y2="538.5" stroke="#000" stroke-width="1"/>
<rect x="149.5" y="542.5" width="4" height="27" fill="#eee" stroke="#000" stroke-width="0.9"/>
<line x1="157.5" y1="544" x2="157.5" y2="540.6" stroke="#000" stroke-width="1"/>
<line x1="155.79" y1="540.5" x2="158.43" y2="540.5" stroke="#000" stroke-width="1"/>
<rect x="155.5" y="544.5" width="3" height="25" fill="#ccc" stroke="#000" stroke-width="0.9"/>
<line x1="162.5" y1="544" x2="162.5" y2="541" stroke="#000" stroke-width="1"/>
<line x1="161.41" y1="541.5" x2="164.05" y2="541.5" stroke="#000" stroke-width="1"/>
<rect x="160.5" y="544.5" width="4" height="25" fill="#a0a0a0" stroke="#000" stroke-width="0.9"/>
<line x1="168.5" y1="543" x2="168.5" y2="539.5" stroke="#000" stroke-width="1"/>
<line x1="167.03" y1="539.5" x2="169.67" y2="539.5" stroke="#000" stroke-width="1"/>
<rect x="166.5" y="543.5" width="4" height="26" fill="#999" stroke="#000" stroke-width="0.9"/>
<line x1="173.5" y1="531" x2="173.5" y2="527.1" stroke="#000" stroke-width="1"/>
<line x1="172.65" y1="527.5" x2="175.29" y2="527.5" stroke="#000" stroke-width="1"/>
<rect x="172.5" y="531.5" width="3" height="38" fill="#3a3a3a" stroke="#000" stroke-width="0.9"/>
<line x1="179.5" y1="538.3" x2="179.5" y2="535.8" stroke="#000" stroke-width="1"/>
<line x1="178.27" y1="535.5" x2="180.91" y2="535.5" stroke="#000" stroke-width="1"/>
<rect x="177.5" y="538.5" width="4" height="31" fill="#555" stroke="#000" stroke-width="0.9"/>
<text x="125.93" y="510.48" font-size="6" text-anchor="middle" class="st" style="stroke-width:0.25px;letter-spacing:-0.13px">***</text>
<text x="131.2" y="523.38" font-size="6" text-anchor="middle" class="st" style="stroke-width:0.25px">*</text>
<text x="174.08" y="526.88" font-size="6" text-anchor="middle" class="st" style="stroke-width:0.25px;letter-spacing:-0.03px">**</text>
<text x="63" y="579.8" font-size="7.3" text-anchor="middle" textLength="32" lengthAdjust="spacingAndGlyphs">MCF-10A</text>
<text x="110.2" y="579.8" font-size="7.3" text-anchor="middle" textLength="24.6" lengthAdjust="spacingAndGlyphs">SKBR3</text>
<text x="158.2" y="579.8" font-size="7.3" text-anchor="middle" textLength="22.3" lengthAdjust="spacingAndGlyphs">BT549</text>
<text x="17" y="521.5" font-size="7.2" text-anchor="middle" transform="rotate(-90 17 521.5)" textLength="101" lengthAdjust="spacingAndGlyphs">% of Mitotic cells with CA (&gt;2)</text>
<rect x="192.4" y="480.5" width="13" height="3" fill="#fff" stroke="#000" stroke-width="1"/>
<text x="208.4" y="484.6" font-size="6.9" style="font-weight:normal;stroke-width:.12px">Mock</text>
<rect x="192.4" y="491.8" width="13" height="3" fill="#000" stroke="#000" stroke-width="1"/>
<text x="208.4" y="495.9" font-size="6.9" style="font-weight:normal;stroke-width:.12px">siControl</text>
<rect x="192.4" y="501.3" width="13" height="3" fill="#eee" stroke="#000" stroke-width="1"/>
<text x="208.4" y="505.4" font-size="6.9" style="font-weight:normal;stroke-width:.12px">si T1-1</text>
<rect x="192.4" y="512.5" width="13" height="3" fill="#ccc" stroke="#000" stroke-width="1"/>
<text x="208.4" y="516.6" font-size="6.9" style="font-weight:normal;stroke-width:.12px">siT1-4</text>
<rect x="192.4" y="523.6" width="13" height="3" fill="#a0a0a0" stroke="#000" stroke-width="1"/>
<text x="208.4" y="527.7" font-size="6.9" style="font-weight:normal;stroke-width:.12px">siT2-1</text>
<rect x="192.4" y="534.8" width="13" height="3" fill="#999" stroke="#000" stroke-width="1"/>
<text x="208.4" y="538.9" font-size="6.9" style="font-weight:normal;stroke-width:.12px">siT2-4</text>
<rect x="192.4" y="545.7" width="13" height="3" fill="#3a3a3a" stroke="#000" stroke-width="1"/>
<text x="208.4" y="549.8" font-size="6.9" style="font-weight:normal;stroke-width:.12px">siT1-1/T2-1</text>
<rect x="192.4" y="555.7" width="13" height="3" fill="#555" stroke="#000" stroke-width="1"/>
<text x="208.4" y="559.8" font-size="6.9" style="font-weight:normal;stroke-width:.12px">siT1-4/T2-4</text>
<line x1="311.5" y1="473" x2="311.5" y2="570" stroke="#000" stroke-width="1"/>
<line x1="308.9" y1="569.5" x2="311.5" y2="569.5" stroke="#000" stroke-width="1"/>
<text x="308" y="571.71" font-size="6.7" text-anchor="end">0</text>
<line x1="308.9" y1="537.5" x2="311.5" y2="537.5" stroke="#000" stroke-width="1"/>
<text x="308" y="539.71" font-size="6.7" text-anchor="end">10</text>
<line x1="308.9" y1="505.5" x2="311.5" y2="505.5" stroke="#000" stroke-width="1"/>
<text x="308" y="507.71" font-size="6.7" text-anchor="end">20</text>
<line x1="308.9" y1="473.5" x2="311.5" y2="473.5" stroke="#000" stroke-width="1"/>
<text x="308" y="475.71" font-size="6.7" text-anchor="end">30</text>
<line x1="311.5" y1="569.5" x2="455.5" y2="569.5" stroke="#000" stroke-width="1"/>
<line x1="316.5" y1="560" x2="316.5" y2="558" stroke="#000" stroke-width="1"/>
<line x1="315.17" y1="558.5" x2="317.63" y2="558.5" stroke="#000" stroke-width="1"/>
<rect x="314.5" y="560.5" width="4" height="9" fill="#fff" stroke="#000" stroke-width="0.9"/>
<rect x="320.5" y="565.5" width="3" height="4" fill="#000" stroke="#000" stroke-width="0.9"/>
<line x1="327.5" y1="558" x2="327.5" y2="555" stroke="#000" stroke-width="1"/>
<line x1="326.27" y1="555.5" x2="328.73" y2="555.5" stroke="#000" stroke-width="1"/>
<rect x="325.5" y="558.5" width="4" height="11" fill="#eee" stroke="#000" stroke-width="0.9"/>
<line x1="333.5" y1="562.5" x2="333.5" y2="561.5" stroke="#000" stroke-width="1"/>
<line x1="331.82" y1="561.5" x2="334.28" y2="561.5" stroke="#000" stroke-width="1"/>
<rect x="331.5" y="562.5" width="3" height="7" fill="#ccc" stroke="#000" stroke-width="0.9"/>
<line x1="338.5" y1="561.5" x2="338.5" y2="560" stroke="#000" stroke-width="1"/>
<line x1="337.37" y1="560.5" x2="339.83" y2="560.5" stroke="#000" stroke-width="1"/>
<rect x="336.5" y="562.5" width="4" height="7" fill="#a0a0a0" stroke="#000" stroke-width="0.9"/>
<line x1="344.5" y1="558" x2="344.5" y2="557.2" stroke="#000" stroke-width="1"/>
<line x1="342.92" y1="557.5" x2="345.38" y2="557.5" stroke="#000" stroke-width="1"/>
<rect x="342.5" y="558.5" width="3" height="11" fill="#999" stroke="#000" stroke-width="0.9"/>
<line x1="349.5" y1="561.5" x2="349.5" y2="560" stroke="#000" stroke-width="1"/>
<line x1="348.47" y1="560.5" x2="350.93" y2="560.5" stroke="#000" stroke-width="1"/>
<rect x="348.5" y="562.5" width="3" height="7" fill="#3a3a3a" stroke="#000" stroke-width="0.9"/>
<rect x="353.5" y="564.5" width="3" height="5" fill="#555" stroke="#000" stroke-width="0.9"/>
<line x1="364.5" y1="558.2" x2="364.5" y2="554.8" stroke="#000" stroke-width="1"/>
<line x1="362.97" y1="554.5" x2="365.43" y2="554.5" stroke="#000" stroke-width="1"/>
<rect x="362.5" y="558.5" width="3" height="11" fill="#fff" stroke="#000" stroke-width="0.9"/>
<line x1="369.5" y1="547.7" x2="369.5" y2="543.1" stroke="#000" stroke-width="1"/>
<line x1="368.52" y1="543.5" x2="370.98" y2="543.5" stroke="#000" stroke-width="1"/>
<rect x="368.5" y="548.5" width="3" height="21" fill="#000" stroke="#000" stroke-width="0.9"/>
<line x1="375.5" y1="512.4" x2="375.5" y2="510.4" stroke="#000" stroke-width="1"/>
<line x1="374.07" y1="510.5" x2="376.53" y2="510.5" stroke="#000" stroke-width="1"/>
<rect x="373.5" y="512.5" width="4" height="57" fill="#eee" stroke="#000" stroke-width="0.9"/>
<line x1="380.5" y1="518.5" x2="380.5" y2="510" stroke="#000" stroke-width="1"/>
<line x1="379.62" y1="510.5" x2="382.08" y2="510.5" stroke="#000" stroke-width="1"/>
<rect x="379.5" y="518.5" width="3" height="51" fill="#ccc" stroke="#000" stroke-width="0.9"/>
<line x1="386.5" y1="506.3" x2="386.5" y2="488.6" stroke="#000" stroke-width="1"/>
<line x1="385.17" y1="488.5" x2="387.63" y2="488.5" stroke="#000" stroke-width="1"/>
<rect x="384.5" y="506.5" width="4" height="63" fill="#a0a0a0" stroke="#000" stroke-width="0.9"/>
<line x1="391.5" y1="530.2" x2="391.5" y2="524.1" stroke="#000" stroke-width="1"/>
<line x1="390.72" y1="524.5" x2="393.18" y2="524.5" stroke="#000" stroke-width="1"/>
<rect x="390.5" y="530.5" width="3" height="39" fill="#999" stroke="#000" stroke-width="0.9"/>
<line x1="397.5" y1="512" x2="397.5" y2="511" stroke="#000" stroke-width="1"/>
<line x1="396.27" y1="511.5" x2="398.73" y2="511.5" stroke="#000" stroke-width="1"/>
<rect x="395.5" y="512.5" width="4" height="57" fill="#3a3a3a" stroke="#000" stroke-width="0.9"/>
<line x1="403.5" y1="510.4" x2="403.5" y2="506.8" stroke="#000" stroke-width="1"/>
<line x1="401.82" y1="506.5" x2="404.28" y2="506.5" stroke="#000" stroke-width="1"/>
<rect x="401.5" y="510.5" width="3" height="59" fill="#555" stroke="#000" stroke-width="0.9"/>
<line x1="411.5" y1="542.7" x2="411.5" y2="538.7" stroke="#000" stroke-width="1"/>
<line x1="410.47" y1="538.5" x2="412.93" y2="538.5" stroke="#000" stroke-width="1"/>
<rect x="410.5" y="543.5" width="3" height="26" fill="#fff" stroke="#000" stroke-width="0.9"/>
<line x1="417.5" y1="553.8" x2="417.5" y2="546.3" stroke="#000" stroke-width="1"/>
<line x1="416.02" y1="546.5" x2="418.48" y2="546.5" stroke="#000" stroke-width="1"/>
<rect x="415.5" y="554.5" width="3" height="15" fill="#000" stroke="#000" stroke-width="0.9"/>
<line x1="422.5" y1="523.5" x2="422.5" y2="519.9" stroke="#000" stroke-width="1"/>
<line x1="421.57" y1="519.5" x2="424.03" y2="519.5" stroke="#000" stroke-width="1"/>
<rect x="421.5" y="524.5" width="3" height="45" fill="#eee" stroke="#000" stroke-width="0.9"/>
<line x1="428.5" y1="535" x2="428.5" y2="527.1" stroke="#000" stroke-width="1"/>
<line x1="427.12" y1="527.5" x2="429.58" y2="527.5" stroke="#000" stroke-width="1"/>
<rect x="426.5" y="535.5" width="4" height="34" fill="#ccc" stroke="#000" stroke-width="0.9"/>
<line x1="433.5" y1="522.5" x2="433.5" y2="517.9" stroke="#000" stroke-width="1"/>
<line x1="432.67" y1="517.5" x2="435.13" y2="517.5" stroke="#000" stroke-width="1"/>
<rect x="432.5" y="522.5" width="3" height="47" fill="#a0a0a0" stroke="#000" stroke-width="0.9"/>
<line x1="439.5" y1="512" x2="439.5" y2="505.7" stroke="#000" stroke-width="1"/>
<line x1="438.22" y1="505.5" x2="440.68" y2="505.5" stroke="#000" stroke-width="1"/>
<rect x="437.5" y="512.5" width="4" height="57" fill="#999" stroke="#000" stroke-width="0.9"/>
<line x1="445.5" y1="501.9" x2="445.5" y2="500.7" stroke="#000" stroke-width="1"/>
<line x1="443.77" y1="500.5" x2="446.23" y2="500.5" stroke="#000" stroke-width="1"/>
<rect x="443.5" y="502.5" width="3" height="67" fill="#3a3a3a" stroke="#000" stroke-width="0.9"/>
<line x1="450.5" y1="516.4" x2="450.5" y2="514" stroke="#000" stroke-width="1"/>
<line x1="449.32" y1="514.5" x2="451.78" y2="514.5" stroke="#000" stroke-width="1"/>
<rect x="448.5" y="516.5" width="4" height="53" fill="#555" stroke="#000" stroke-width="0.9"/>
<text x="374.91" y="509.28" font-size="6" text-anchor="middle" class="st" style="stroke-width:0.25px;letter-spacing:0.02px">***</text>
<text x="380.31" y="503.28" font-size="6" text-anchor="middle" class="st" style="stroke-width:0.25px;letter-spacing:0.02px">**</text>
<text x="386.51" y="486.48" font-size="6" text-anchor="middle" class="st" style="stroke-width:0.25px;letter-spacing:0.02px">***</text>
<text x="396.81" y="509.38" font-size="6" text-anchor="middle" class="st" style="stroke-width:0.25px;letter-spacing:0.02px">***</text>
<text x="403.81" y="503.08" font-size="6" text-anchor="middle" class="st" style="stroke-width:0.25px;letter-spacing:0.02px">***</text>
<text x="422.81" y="518.38" font-size="6" text-anchor="middle" class="st" style="stroke-width:0.25px;letter-spacing:0.02px">**</text>
<text x="433.51" y="514.98" font-size="6" text-anchor="middle" class="st" style="stroke-width:0.25px;letter-spacing:0.02px">***</text>
<text x="439.21" y="503.48" font-size="6" text-anchor="middle" class="st" style="stroke-width:0.25px;letter-spacing:0.02px">***</text>
<text x="445.01" y="497.38" font-size="6" text-anchor="middle" class="st" style="stroke-width:0.25px;letter-spacing:0.02px">***</text>
<text x="450.31" y="511.58" font-size="6" text-anchor="middle" class="st" style="stroke-width:0.25px;letter-spacing:0.02px">***</text>
<text x="336" y="579.2" font-size="7.3" text-anchor="middle" textLength="31.7" lengthAdjust="spacingAndGlyphs">MCF-10A</text>
<text x="382.3" y="579.2" font-size="7.3" text-anchor="middle" textLength="24.6" lengthAdjust="spacingAndGlyphs">SKBR3</text>
<text x="431.2" y="579.2" font-size="7.3" text-anchor="middle" textLength="22.4" lengthAdjust="spacingAndGlyphs">BT549</text>
<text x="285.8" y="522" font-size="7.1" text-anchor="middle" transform="rotate(-90 285.8 522)" textLength="75.5" lengthAdjust="spacingAndGlyphs">% of Mitotic cells with</text>
<text x="294.2" y="520.7" font-size="7.1" text-anchor="middle" transform="rotate(-90 294.2 520.7)" textLength="63" lengthAdjust="spacingAndGlyphs">multipolar spindles</text>
<rect x="462.6" y="482.1" width="13" height="3" fill="#fff" stroke="#000" stroke-width="1"/>
<text x="478.9" y="486.2" font-size="6.9" style="font-weight:normal;stroke-width:.12px">Mock</text>
<rect x="462.6" y="493.3" width="13" height="3" fill="#000" stroke="#000" stroke-width="1"/>
<text x="478.9" y="497.4" font-size="6.9" style="font-weight:normal;stroke-width:.12px">siControl</text>
<rect x="462.6" y="503.5" width="13" height="3" fill="#eee" stroke="#000" stroke-width="1"/>
<text x="478.9" y="507.6" font-size="6.9" style="font-weight:normal;stroke-width:.12px">si T1-1</text>
<rect x="462.6" y="514.5" width="13" height="3" fill="#ccc" stroke="#000" stroke-width="1"/>
<text x="478.9" y="518.6" font-size="6.9" style="font-weight:normal;stroke-width:.12px">siT1-4</text>
<rect x="462.6" y="525.4" width="13" height="3" fill="#a0a0a0" stroke="#000" stroke-width="1"/>
<text x="478.9" y="529.5" font-size="6.9" style="font-weight:normal;stroke-width:.12px">siT2-1</text>
<rect x="462.6" y="535.8" width="13" height="3" fill="#999" stroke="#000" stroke-width="1"/>
<text x="478.9" y="539.9" font-size="6.9" style="font-weight:normal;stroke-width:.12px">siT2-4</text>
<rect x="462.6" y="546.2" width="13" height="3" fill="#3a3a3a" stroke="#000" stroke-width="1"/>
<text x="478.9" y="550.3" font-size="6.9" style="font-weight:normal;stroke-width:.12px">siT1-1/T2-1</text>
<rect x="462.6" y="556.1" width="13" height="3" fill="#555" stroke="#000" stroke-width="1"/>
<text x="478.9" y="560.2" font-size="6.9" style="font-weight:normal;stroke-width:.12px">siT1-4/T2-4</text>
</svg>
</body></html>
